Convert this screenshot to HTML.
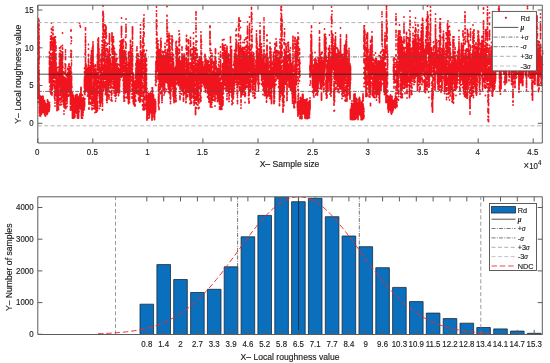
<!DOCTYPE html>
<html lang="en"><head><meta charset="utf-8"><title>Local roughness</title>
<style>html,body{margin:0;padding:0;background:#fff}svg{display:block}</style></head>
<body>
<svg width="550" height="363" viewBox="0 0 550 363">
<rect width="550" height="363" fill="#fff"/>
<g id="top">
<path d="M38 22v0M38 24.5v0M38 26.5v0.5M38 28.5v0M38 32v0M38 37.5v0M38 39v0M38 42.5v0.5M38 45v0.5M38 48v1M38 52.5v0M38 54v0M38 58.5v2.5M38 63.5v0M38 65.5v2M38 69v0M38 70.5v3M38 76v6.5M38 84.5v6M38 92v1.5M38 95v0M38 97v1.5M38 102v0M38.5 19v0M38.5 22v0.5M38.5 24v0.5M38.5 26.5v0M38.5 28.5v0M38.5 30.5v6M38.5 38.5v7M38.5 47v0M38.5 48.5v5.5M38.5 58.5v1.5M38.5 62v0M38.5 63.5v1.5M38.5 66.5v8M38.5 76.5v2M38.5 80v0M38.5 81.5v0M38.5 83v0M38.5 87v0M38.5 90v1M38.5 93v1.5M38.5 96v0.5M38.5 98v0M39 20.5v0.5M39 24v0M39 25.5v0.5M39 28.5v1.5M39 33v0M39 35.5v1.5M39 38.5v1M39 41.5v2.5M39 46v2.5M39 50v0M39 51.5v2M39 55v5M39 62v0M39 63.5v0.5M39 67v0M39 70v1M39 72.5v0M39 74v1M39 77v0M39 78.5v1M39 81v0M39 83v0M39 84.5v0M39 86.5v11M39.5 95v9.5M39.5 106.5v6.5M39.5 115.5v0M40 96.5v6.5M40 104.5v1.5M40 107.5v4.5M40 113.5v0.5M40.5 96.5v8.5M40.5 106.5v2M40.5 110v2.5M40.5 114v2M41 102.5v0M41 104.5v9M41.5 97v13.5M41.5 114v0M42 96.5v3.5M42 103v1.5M42 106v7M42.5 96.5v1M42.5 99v0M42.5 101.5v6M42.5 109.5v0M43 96.5v11.5M43.5 104.5v7.5M44 104.5v8M44.5 100.5v12M44.5 114v0M45 102.5v0M45 104v2M45 107.5v6.5M45 115.5v0M45.5 106.5v7M45.5 116v0M46 104v0M46 105.5v7.5M46.5 105.5v8.5M47 104.5v10M47.5 100v1.5M47.5 103.5v8.5M47.5 113.5v0M48 101.5v9M48.5 106v5.5M49 103v8.5M49.5 52v1M49.5 56.5v2M49.5 60.5v0M49.5 62v2.5M49.5 67.5v8.5M49.5 77.5v0.5M49.5 79.5v0.5M49.5 81.5v1M49.5 102.5v0M49.5 104.5v3M49.5 109.5v0M50 55.5v0M50 60v0.5M50 62.5v3.5M50 67.5v2M50 71.5v1.5M50 74.5v5.5M50 81.5v0M50 86.5v0M50 89.5v0M50 91.5v0M50.5 36.5v0M50.5 39v0M50.5 42v1.5M50.5 45v1.5M50.5 48v0M50.5 49.5v0.5M50.5 54v0.5M50.5 58v0.5M50.5 61v6.5M50.5 69.5v2M50.5 73v0.5M50.5 77v0M50.5 78.5v1.5M50.5 81.5v0M50.5 85.5v0M50.5 89v0M51 69.5v2.5M51 73.5v8M51 83.5v4M51 89v0M51 91.5v2.5M51.5 23v0M51.5 28.5v1M51.5 32.5v0M51.5 36v2M51.5 39.5v0M51.5 41.5v0M51.5 43.5v0.5M51.5 45.5v1M51.5 48v1.5M51.5 57.5v0M51.5 62v0M51.5 64v0.5M51.5 67.5v0M51.5 69.5v8.5M51.5 79.5v0M51.5 81v0M52 38.5v0M52 43v0M52 44.5v0M52 47v0M52 53.5v2.5M52 58.5v1M52 63.5v1M52 66.5v0M52 68v0M52 70v5.5M52 80v1M52 83.5v0.5M52 86v0M52 87.5v0.5M52 89.5v0.5M52 95v0M52.5 65.5v1M52.5 69v8.5M52.5 79v6M52.5 86.5v2.5M52.5 93v0M53 27v0M53 29.5v1M53 33.5v1M53 38v2M53 42v1.5M53 45v1.5M53 49v0M53 50.5v0M53 52.5v1.5M53 55.5v0M53 57.5v1M53 60.5v0.5M53 62.5v0M53 64v1M53 66.5v0.5M53 68.5v0M53 70v0M53 72v1M53 74.5v0M53 78.5v0M53.5 43.5v0.5M53.5 45.5v0M53.5 47.5v0M53.5 52.5v0M53.5 55.5v4M53.5 61v1M53.5 63.5v0.5M53.5 68.5v9.5M53.5 81v1.5M53.5 85v0M54 37.5v1M54 40v3.5M54 45.5v0M54 47v11M54 61.5v2M54 65v0M54 69v0M54.5 42.5v0M54.5 50.5v0M54.5 53v1M54.5 55.5v0.5M54.5 57.5v8.5M54.5 68v1M54.5 72.5v0M54.5 74v0M54.5 75.5v1M54.5 81v1M54.5 84.5v0.5M54.5 86.5v0M54.5 88v0M54.5 94.5v0M54.5 96v0.5M54.5 98v0M55 37v0M55 39.5v1M55 44v0.5M55 46v1M55 51v0M55 53.5v0.5M55 62v0M55 64.5v0M55 67v0M55 70v0.5M55 75.5v0M55 78v0.5M55 81.5v1.5M55 85.5v0.5M55 88v1M55 91v4.5M55 98v0.5M55 100v0.5M55 103v0M55 106v0M55.5 37v0M55.5 42v1M55.5 47v0M55.5 49.5v0M55.5 54v0M55.5 55.5v0.5M55.5 58.5v13.5M55.5 74v0.5M55.5 78.5v0M56 46v0M56 47.5v1M56 50.5v0M56 54v1M56 57.5v0M56 59v0.5M56 62.5v3M56 67v1M56 70v0.5M56 72v1M56 76.5v0.5M56 81v0M56 85.5v2.5M56 89.5v1.5M56 94v1.5M56.5 69v4.5M56.5 75.5v9M56.5 86v2M56.5 90v1.5M56.5 93.5v0M57 82v0M57 84.5v0.5M57 87v0M57 89v0M57 90.5v0M57 92.5v1.5M57 95.5v1.5M57 98.5v6.5M57 106.5v0.5M57 108.5v0M57 110v0.5M57.5 67.5v0M57.5 72.5v0M57.5 74v1.5M57.5 78v9.5M57.5 89v0.5M57.5 91v2.5M57.5 95v0.5M57.5 97v1M57.5 102.5v0M58 82v1M58 84.5v6M58 93v11M58 106.5v0.5M58 109v0M58.5 77v0M58.5 80v1M58.5 82.5v2.5M58.5 86.5v2M58.5 91v3M58.5 95.5v1.5M58.5 98.5v3M58.5 103v1.5M58.5 107v0M58.5 109v0.5M59 67v0.5M59 70v0M59 71.5v12M59 85.5v1M59.5 48v0M59.5 53.5v3M59.5 60v0M59.5 62v0M59.5 63.5v0.5M59.5 66v3.5M59.5 72.5v8M59.5 84v0.5M60 48v0M60 50.5v0M60 53.5v0M60 55.5v0.5M60 57.5v0.5M60 59.5v0M60 63v0M60 65v0.5M60 67v2.5M60 73v0M60 78v1.5M60 82.5v4M60 89.5v1M60 93v0M60 95v0M60 98.5v0.5M60 100.5v0M60 105v0M60.5 63v0M60.5 66.5v0M60.5 68v4.5M60.5 75.5v2M60.5 79v0M60.5 81v2M60.5 85v1M60.5 87.5v0.5M60.5 90v0.5M60.5 92v0.5M60.5 94v0.5M60.5 98.5v0.5M60.5 102.5v0M61 46.5v0M61 51.5v0M61 54.5v7.5M61 63.5v4M61 69v5.5M61 77.5v0M61 79v0.5M61 89v0M61 90.5v0M61.5 65.5v0.5M61.5 74.5v3.5M61.5 80v0.5M61.5 82v7M61.5 91.5v1M61.5 95v2M61.5 99v0M61.5 104.5v0M62 58v0M62 60v1M62 63.5v3M62 69v1.5M62 72v3.5M62 77.5v1.5M62 81.5v0.5M62 85.5v1M62 88.5v3M62 94.5v0M62 96.5v1M62 100v0M62 101.5v0M62.5 33v0M62.5 45.5v0M62.5 48v1M62.5 52v4M62.5 58v2M62.5 62.5v0.5M62.5 64.5v3M62.5 70v0M62.5 72v2M62.5 75.5v2M62.5 79.5v0M62.5 81v0M62.5 82.5v0M62.5 85v0M62.5 87v0M62.5 88.5v0M62.5 90v0M63 67.5v0M63 72v0M63 73.5v0M63 76.5v0M63 79v6.5M63 87.5v1.5M63 90.5v7M63 101.5v0M63.5 72v1M63.5 76.5v1.5M63.5 79.5v0.5M63.5 81.5v8.5M63.5 92v2.5M63.5 96v2M63.5 100v0M63.5 101.5v0M63.5 104v0M64 84.5v0M64 86v1.5M64 89v2M64 92.5v1M64 95v1.5M64 98v7.5M64 107v0M64 111v0M64 114v0M64.5 79.5v5.5M64.5 87v3M64.5 92v0.5M64.5 94v3M64.5 99v0M64.5 102v0M65 64v0M65 68.5v0M65 72.5v1M65 77.5v0M65 79.5v0.5M65 85.5v4M65 93v5.5M65 100v4.5M65 106.5v0M65 108v0M65.5 50v0M65.5 52v0M65.5 54.5v0M65.5 57v1M65.5 59.5v0M65.5 64.5v2.5M65.5 70.5v1M65.5 73.5v0M65.5 78.5v0.5M65.5 84v0M65.5 88.5v0.5M65.5 92v2M65.5 97.5v0.5M65.5 100v0.5M65.5 106v0.5M65.5 108.5v0M66 75v0M66 79v3M66 83.5v8M66 93.5v1M66 96.5v1.5M66 99.5v0.5M66 104v0M66 108v0M66.5 80.5v13M66.5 95v0M66.5 97v1M66.5 100v0M67 76.5v0M67 82v0M67 84v1M67 86.5v7M67 95.5v6M67 103v0.5M67 106.5v0M67.5 68.5v1M67.5 73v15.5M68 72.5v0M68 74.5v0M68 78v3.5M68 83v2M68 86.5v5M68 95v0M68.5 66.5v0M68.5 69v0M68.5 73v0M68.5 74.5v2M68.5 78v0M68.5 79.5v0M68.5 81v10.5M68.5 95v1M69 64v1M69 70.5v9.5M69 81.5v7.5M69 91v0M69 92.5v0M69.5 69v0M69.5 71.5v0M69.5 73v0M69.5 75v0.5M69.5 77.5v7M69.5 86v3M69.5 91.5v1M69.5 94.5v0M70 67v1.5M70 71v5M70 78v0M70 79.5v5.5M70 86.5v2M70 92.5v0.5M70.5 80v0M70.5 83v1M70.5 86v12M70.5 99.5v4.5M70.5 106.5v1M70.5 109v1M71 30v1M71 37v0M71 43.5v0M71 50.5v0.5M71 53.5v0M71 55v2M71 67v0M71 69v0M71 71v0M71 73v0.5M71 79.5v0M71 81.5v9M71 94v0M71 95.5v0M71 99.5v0M71.5 38v0M71.5 41v0M71.5 51.5v0M71.5 54v0M71.5 57.5v0M71.5 60.5v0M71.5 63v0M71.5 65v0M71.5 72.5v0M71.5 76v5M71.5 83v5M71.5 90.5v2.5M71.5 98.5v0M71.5 102v0M72 87v0M72 92v0M72 95v2M72 98.5v1.5M72 102v8M72.5 93v0M72.5 95v4M72.5 100.5v1M72.5 104.5v1M72.5 107v11M73 95v0M73 98.5v16M73.5 95.5v0M73.5 97v1M73.5 99.5v11M73.5 113.5v3M73.5 118v0M74 100.5v5.5M74 107.5v5M74 114v4M74.5 99v0M74.5 100.5v9M74.5 111v4M74.5 116.5v0M75 102v11M75 115.5v0M75 117v0M75.5 96v11.5M75.5 109v0M76 95v1.5M76 98v12M76.5 97v16M77 94.5v15M77 111.5v0M77.5 100v0M77.5 103v1M77.5 105.5v11M77.5 118v0M78 97v4.5M78 103v9M78 113.5v0M78.5 101.5v0M78.5 103v15M79 97.5v0.5M79 100v9M79 111v1M79.5 23v0M79.5 95.5v0M79.5 98v10M80 25.5v0M80 94v12M80 107.5v0M80.5 27v0M80.5 93.5v9.5M80.5 104.5v0M81 87.5v3.5M81 92.5v4.5M81 99v1.5M81 102.5v4.5M81 108.5v1M81.5 103v0M81.5 105v1M81.5 108v1.5M81.5 111v5.5M81.5 118v0M82 98.5v0M82 101.5v8M82 111.5v0M82 114.5v0M82.5 95v0M82.5 98.5v0M82.5 100.5v5.5M82.5 107.5v6.5M82.5 118v0M83 99.5v1M83 102v8.5M83 112v1M83 115v0.5M83.5 97.5v0.5M83.5 99.5v6M84 98.5v2.5M84 102.5v7.5M84.5 68.5v0M84.5 72v0.5M84.5 77v0M84.5 79v9M84.5 91v2M84.5 99.5v0M84.5 101.5v5M85 54v0M85 67.5v0M85 74v0M85 76v0.5M85 78v1M85 82v10.5M85 94.5v0M85 99v0M85.5 28v0.5M85.5 30v0M85.5 34v0M85.5 36.5v0M85.5 38v0M85.5 40v2.5M85.5 44.5v1M85.5 47.5v0M85.5 49.5v0.5M85.5 51.5v1.5M85.5 55v0M85.5 58v0M85.5 59.5v0M85.5 61v1M85.5 64v1.5M85.5 70v1M85.5 72.5v0M85.5 74v2M85.5 77.5v0M85.5 83v0.5M86 64v0M86 65.5v2M86 69v12.5M86 83v2M86 86.5v0M86.5 66v0M86.5 70v0.5M86.5 72.5v2.5M86.5 77v6.5M86.5 85v1.5M86.5 88.5v1.5M87 69v1M87 71.5v3M87 76v11.5M87 91v0M87.5 72v0M87.5 73.5v13M87.5 88v0M87.5 91.5v0M87.5 96v0M88 67.5v0.5M88 69.5v0.5M88 71.5v0M88 73v2M88 77v3.5M88 82.5v3.5M88 87.5v2M88 92.5v0M88 94.5v0M88 96v0M88.5 44.5v0M88.5 49v0M88.5 54.5v1.5M88.5 59v0M88.5 60.5v2M88.5 64.5v1M88.5 67.5v0M88.5 70v0M88.5 73v0M88.5 75v1M88.5 78v0.5M88.5 80.5v1.5M88.5 84v2.5M88.5 89v0M88.5 93v0M88.5 95v0.5M89 66v0M89 69.5v0M89 74v0M89 76.5v0M89 79v0M89 81.5v2M89 86v2.5M89 90v2M89 93.5v6M89 101v3M89 108v1M89.5 68v0M89.5 69.5v2.5M89.5 73.5v10.5M89.5 85.5v2M89.5 93.5v0M90 72v0M90 73.5v0M90 75.5v14.5M90 92.5v0.5M90 96v0M90.5 63v0M90.5 66v0M90.5 68v5.5M90.5 76v1.5M90.5 79v0M90.5 81v8M90.5 90.5v1.5M90.5 94v1M90.5 97v1.5M90.5 102.5v1.5M91 55.5v0M91 57.5v0M91 59v1M91 62v1.5M91 66v5.5M91 73v0.5M91 75v1M91 78v0.5M91 80v4M91 85.5v0M91.5 51v0.5M91.5 53.5v0M91.5 56v0M91.5 58v6.5M91.5 66v4.5M91.5 72.5v1.5M91.5 75.5v2M91.5 79.5v0M91.5 82v0M91.5 84.5v1M91.5 87v0M91.5 94.5v0M91.5 99.5v0M92 58v0M92 60v0M92 68.5v0M92 70v0.5M92 73v0M92 76v0M92 78v1M92 80.5v0M92 82v0M92 84v0M92 86v1.5M92 89v5M92 96.5v0M92 98.5v3.5M92 103.5v0M92 105.5v0M92 108v0M92 109.5v0M92.5 47.5v3M92.5 52.5v2M92.5 56v1.5M92.5 59v0M92.5 62v0M92.5 64.5v0M93 42v0M93 44v0M93 45.5v1.5M93 48.5v0M93 50v2M93 53.5v2M93 57v4.5M93 63v0.5M93 65v1M93 67.5v0M93 69v1.5M93 72.5v0.5M93 75.5v0M93 77.5v0M93.5 64v0M93.5 70v0M93.5 74v0.5M93.5 76v0.5M93.5 83v1.5M93.5 86v4M93.5 91.5v4.5M93.5 97.5v1.5M93.5 100.5v0.5M93.5 103v0M93.5 105.5v0M93.5 108.5v0M94 66v1M94 69v0.5M94 71v12M94 85v1M94 87.5v1M94 93v0M94 95.5v0M94.5 77v1M94.5 81v3M94.5 85.5v3.5M94.5 90.5v4.5M94.5 96.5v1M94.5 100.5v0.5M94.5 107v0M95 90v0M95 93v1.5M95 97v5M95 103.5v1.5M95 107v2M95 112.5v0M95.5 65v0M95.5 66.5v0M95.5 69v10.5M95.5 81v1M95.5 84v1.5M95.5 89v0M95.5 91.5v0M95.5 93v1.5M95.5 97.5v1.5M95.5 101v0M95.5 104v0M95.5 105.5v0M96 69.5v0M96 71.5v4M96 77v4M96 82.5v0M96 84v0.5M96 88v1M96 91.5v0.5M96 95v0M96 96.5v1M96 99v0.5M96 104v0.5M96 106v0M96 108v0M96 110v0M96 112v0M96.5 82.5v4M96.5 88v2M96.5 91.5v0.5M96.5 94.5v1M96.5 97.5v0.5M96.5 100.5v2M96.5 105.5v1M96.5 108v4M97 76.5v0M97 80.5v2.5M97 84.5v4M97 90v1M97 93.5v1M97 96v0.5M97 98v1M97 101v0M97 105.5v2.5M97 110v1M97.5 54.5v2M97.5 58.5v0M97.5 61.5v8.5M97.5 72.5v2.5M97.5 77.5v0.5M97.5 85.5v0M97.5 87v0M97.5 89.5v1M97.5 92.5v1M97.5 95.5v0M97.5 101.5v0M97.5 103v0M97.5 105v3.5M97.5 110.5v0M98 39.5v1.5M98 43.5v8.5M98 53.5v1.5M98 57v0.5M98 59v3M98 65v0M98.5 38v1M98.5 41v0M98.5 42.5v0M98.5 44v0M98.5 45.5v1M98.5 50v0M98.5 51.5v1.5M98.5 55v0M98.5 58.5v1M98.5 65v0M98.5 67.5v2M98.5 72.5v1M98.5 76v3.5M98.5 81v2.5M98.5 86v0M98.5 88v0M98.5 92v1M99 48.5v0M99 50v0M99 52v0M99 53.5v0M99 55.5v0M99 57v1.5M99 60v2.5M99 64v4.5M99 70v0.5M99 72.5v0M99 76v0M99.5 55.5v0M99.5 65v0M99.5 67.5v0.5M99.5 72v0M99.5 76.5v0.5M99.5 78.5v0M99.5 82v2M99.5 86v2.5M99.5 90v1.5M99.5 93v5.5M99.5 101v0M99.5 102.5v0M99.5 108.5v0M100 76v0M100 81.5v0M100 84v1.5M100 87v0M100 88.5v7.5M100 97.5v6M100 105.5v0.5M100.5 60.5v0M100.5 69.5v1.5M100.5 72.5v0M100.5 75v0.5M100.5 77v3.5M100.5 82v2M100.5 85.5v6.5M100.5 93.5v2M100.5 97.5v0.5M100.5 104v0M100.5 106v0M101 54.5v0M101 59v1M101 62.5v0M101 64.5v0.5M101 67v0M101 68.5v2.5M101 73v0M101 74.5v4M101 80v0.5M101 82v0M101 85v0M101 86.5v4M101 98.5v0M101.5 59v0M101.5 63v0M101.5 65v0M101.5 69v2M101.5 74v0M101.5 77.5v3.5M101.5 83v1.5M101.5 88.5v3M101.5 93v1.5M101.5 96v0M101.5 97.5v0M101.5 99.5v0M101.5 101v1M102 41v0M102 45v0M102 47.5v0M102 50v1M102 53v0M102 55v0.5M102 57v9M102 68.5v0M102 72.5v0M102 75v4M102 82v0.5M102 85.5v2.5M102 90v1M102 93v0M102 102.5v0M102.5 37v0M102.5 47.5v0M102.5 50.5v1M102.5 54.5v1.5M102.5 58.5v0M102.5 60v1M102.5 66v0M102.5 68v2M102.5 74.5v1M102.5 77v0M102.5 79.5v0M102.5 82v0M102.5 84.5v2M102.5 90v0M102.5 91.5v0M102.5 93v1.5M102.5 96v0.5M102.5 98.5v1M102.5 101v0M102.5 103v1M102.5 106v0M102.5 109.5v0.5M103 6v0M103 11.5v4M103 18.5v1M103 21v2.5M103 25v3M103 30v0.5M103 33v1.5M103 37v1M103 40v0.5M103 42.5v0M103 45v0M103 47.5v1M103 54v0.5M103.5 14.5v0M103.5 16.5v0.5M103.5 19.5v0M103.5 21v0M103.5 24.5v1M103.5 27v1M103.5 29.5v1.5M103.5 34v1.5M103.5 37v0.5M103.5 42.5v0M103.5 49v0M103.5 52v1M103.5 59.5v0M103.5 65.5v0M103.5 67v0M103.5 68.5v1M103.5 72v1M103.5 77.5v0M103.5 79v0.5M103.5 81.5v0M103.5 83v4M103.5 89v1.5M104 46v0M104 52v0M104 54.5v0.5M104 58v0M104 60v1.5M104 64.5v10.5M104 76.5v3M104 82v2M104 87.5v0M104.5 40v0M104.5 44v1.5M104.5 47.5v1.5M104.5 50.5v1M104.5 53v0.5M104.5 55.5v2.5M104.5 59.5v4.5M104.5 65.5v1M104.5 68.5v0M104.5 70.5v1M104.5 86v0M105 25v0.5M105 30v2.5M105 34v0M105 37v0M105 41.5v0.5M105 46v0M105 51v1M105 54.5v0M105 56v1M105 64.5v2M105 68.5v0.5M105 71v0M105 77.5v0M105 84.5v0M105.5 69.5v0M105.5 72v4M105.5 77.5v0M105.5 79v0.5M105.5 82v4.5M105.5 88.5v1M105.5 91.5v0M105.5 93.5v1M106 26.5v3.5M106 32v2M106 35.5v3M106 43v0M106 48.5v0M106 50.5v0M106 53.5v0.5M106 56v0M106 59.5v0M106 61.5v0.5M106 65.5v1M106 68v1M106 73v0M106 84v0M106.5 36v0M106.5 45.5v0M106.5 49v0M106.5 58.5v1M106.5 61v1M106.5 63.5v0M106.5 67v0.5M106.5 70v0.5M106.5 72v7.5M106.5 81.5v0M106.5 83v0M106.5 85.5v0M106.5 87v0.5M106.5 90.5v0.5M106.5 100v0M107 74v1M107 76.5v0M107 78v1M107 80.5v0.5M107 82.5v0M107 84.5v0.5M107 87v13.5M107 102.5v0M107.5 44v0M107.5 49v0M107.5 50.5v1M107.5 56v4M107.5 61.5v2.5M107.5 65.5v0M107.5 68v2.5M107.5 72v1.5M107.5 75v1M107.5 77.5v0M107.5 80v0M108 43.5v0M108 52v0.5M108 54.5v0M108 58.5v2.5M108 63.5v2.5M108 68v1.5M108 71v2.5M108 75v1.5M108 78.5v0.5M108 80.5v1M108 83v1M108 88v1M108.5 55.5v1.5M108.5 60v2M108.5 64v7.5M108.5 73v0.5M108.5 75v0M108.5 76.5v0M108.5 78.5v2M108.5 83v1M108.5 85.5v1.5M108.5 88.5v0M108.5 94.5v0M108.5 96v0M109 54.5v0.5M109 56.5v1.5M109 61v0M109 63v2.5M109 67.5v1M109 70v2M109 74v0M109 76.5v0M109 78.5v1M109 82v0.5M109 85v0.5M109 87.5v0M109 90.5v1.5M109 95v1M109 97.5v0M109 99v0M109.5 34v1M109.5 36.5v5.5M109.5 44v0M109.5 47v0M109.5 49v2.5M109.5 53.5v2M109.5 57.5v1.5M109.5 62v0M109.5 63.5v0M109.5 65v0.5M109.5 67v0M109.5 68.5v0.5M110 58.5v4M110 64.5v11M110 79.5v1M110.5 55v0M110.5 61v0M110.5 64.5v1.5M110.5 67.5v14M110.5 83v2M110.5 88v0M110.5 92v0M111 63.5v0.5M111 66.5v1.5M111 70v14M111 85.5v1.5M111 91.5v0M111 100v0M111.5 92v3M111.5 97.5v0M111.5 99.5v1M112 33v1M112 35.5v6M112 45v0M112 48.5v1.5M112 52v0M112 57v1M112 63.5v0M112 65v0M112 68v0M112 72.5v2M112 77.5v0M112 79v1M112 81.5v0M112 87.5v0M112 90.5v0M112 93.5v0M112 101v0M112.5 37.5v1.5M112.5 42v0M112.5 43.5v2M112.5 47.5v0M112.5 49v5M112.5 57v0M112.5 58.5v5M112.5 67.5v5M112.5 74v0.5M112.5 76v0.5M113 48v0M113 51.5v2.5M113 58.5v1.5M113 62.5v0.5M113 65v1.5M113 68v2.5M113 72v1.5M113 76.5v1M113 79v0M113 82v0M113 83.5v1M113 87v1M113.5 37v0M113.5 39.5v0M113.5 41v1M113.5 46v5.5M113.5 53v0.5M113.5 57v2.5M113.5 61v1.5M113.5 64v0M113.5 66v1.5M113.5 70v2.5M113.5 74.5v2M113.5 78.5v0.5M113.5 88v0M114 59v0M114 61v0M114 63v2M114 66.5v1M114 70v4M114 75.5v2.5M114 80.5v4.5M114 86.5v1.5M114 90.5v0M114 93v0M114.5 48.5v0M114.5 51.5v0M114.5 55v1M114.5 57.5v2.5M114.5 62v1M114.5 64.5v0.5M114.5 66.5v3.5M114.5 73v0M114.5 75v2.5M114.5 79v2M114.5 82.5v0M114.5 84v0.5M114.5 86.5v0M114.5 95.5v0M115 53v1.5M115 59v0M115 61v14M115 76.5v0M115 78v0.5M115 81v0M115.5 68.5v0M115.5 70.5v2.5M115.5 75.5v2M115.5 79v5.5M115.5 86v0.5M115.5 88v5.5M115.5 96v0M115.5 101v0M116 67.5v0M116 69.5v0.5M116 74v6.5M116 82v0M116 83.5v8.5M116 94v1.5M116 98.5v0M116.5 54.5v0M116.5 58.5v0M116.5 60v1M116.5 63.5v13M116.5 78.5v0M116.5 81.5v1M116.5 86v0M116.5 93.5v0M117 63.5v2M117 68v0M117 69.5v6.5M117 77.5v2.5M117 81.5v5M117 91v0M117.5 58.5v0M117.5 64.5v0M117.5 66v0M117.5 68.5v0.5M117.5 71v11M117.5 83.5v1.5M117.5 87v0M117.5 89v1.5M117.5 92v0M118 68.5v0.5M118 70.5v3M118 75.5v7M118 84v2.5M118 90.5v1.5M118.5 64.5v0M118.5 68v0M118.5 69.5v10.5M118.5 82.5v1.5M118.5 86v4.5M118.5 92v0M118.5 95v0.5M119 74v0M119 75.5v2M119 79v3.5M119 84v5M119 92.5v0.5M119.5 70v1M119.5 73v0M119.5 74.5v12.5M119.5 89.5v1M119.5 92.5v0M120 41.5v0M120 45.5v0M120 49.5v9M120 60v0M120 61.5v0.5M120 64v2M120 69v5M120 75.5v0M120 77.5v0M120 79.5v0.5M120.5 48v0M120.5 50.5v1M120.5 53.5v7.5M120.5 62.5v4M120.5 68.5v4.5M120.5 75v0M121 41v0M121 43v2M121 47v5.5M121 54.5v3M121 59v3.5M121 64v2.5M121 68.5v0M121 70v3M121 75.5v0M121.5 18v0M121.5 26.5v5M121.5 33v2M121.5 37v0M121.5 41v0.5M121.5 44.5v3M121.5 50v0M121.5 51.5v1M121.5 55v0M121.5 59.5v1.5M121.5 62.5v0M121.5 64v0M121.5 66v3.5M121.5 73v1M121.5 75.5v0M121.5 77v0M122 40v1M122 42.5v2M122 46.5v4.5M122 53.5v1M122 56.5v4M122 62v1M122 65v0M122 66.5v0.5M122.5 48v0M122.5 55.5v19M122.5 76v0M123 41v1M123 44v0M123 46.5v2M123 51v1M123 53.5v0M123 56v0.5M123 58v10M123 69.5v0M123 71.5v0M123 74.5v0M123 80.5v0M123.5 39.5v2M123.5 46v0M123.5 54v1M123.5 56.5v0M123.5 58v0.5M123.5 60v0M123.5 67.5v0M123.5 69v1M123.5 71.5v0M123.5 74v0M123.5 75.5v0M123.5 78v2.5M123.5 83.5v0.5M123.5 86v0M123.5 88.5v0.5M124 77v1.5M124 80.5v13M124 95.5v2M124 99v0M124 101v0M124.5 50.5v2.5M124.5 54.5v1.5M124.5 57.5v3M124.5 62v1M124.5 65.5v0M124.5 67v1.5M124.5 70.5v0.5M124.5 77.5v1.5M124.5 81.5v1.5M124.5 90.5v2M124.5 97v0M124.5 100.5v0.5M125 58v0M125 62.5v0.5M125 67.5v0M125 69v2.5M125 73v0.5M125 75v0M125 76.5v1.5M125 79.5v4.5M125 87v4M125 93.5v0M125 97.5v0M125.5 37.5v0M125.5 42v0M125.5 48v0M125.5 52v1M125.5 55.5v0M125.5 57.5v0M125.5 59v0.5M125.5 63.5v5.5M125.5 70.5v0.5M125.5 72.5v3M125.5 78v0M125.5 83v0M125.5 85.5v0M125.5 87.5v0M126 19v0M126 24.5v0M126 26.5v0M126 28v1M126 30.5v1.5M126 35v0M126 37v0M126 43.5v1M126 46v0M126 48v0M126 51.5v0M126 54.5v0M126 57v0M126 62.5v0M126 64.5v0.5M126 67v0M126 71v0M126 73v2.5M126 77.5v5M126 85v0M126 88v1M126 91v1M126.5 58v3M126.5 62.5v1M126.5 65.5v0M126.5 67v1M126.5 70v4M126.5 75.5v2.5M126.5 80.5v0M126.5 82.5v0M126.5 84v0M126.5 87v0M126.5 89v0.5M126.5 97.5v0M127 62v0M127 65v0M127 70v0M127 72v9M127 83v1M127 86v0M127 87.5v2M127 91v0M127.5 71.5v0M127.5 74v0M127.5 76v1.5M127.5 79v2.5M127.5 83v6M127.5 90.5v2.5M127.5 94.5v0M127.5 96.5v0M127.5 98v0M128 64.5v0.5M128 67.5v4.5M128 73.5v5M128 80v2.5M128 84v0M128 86v1.5M128 91v0M128 94v0M128.5 53v1M128.5 56v0M128.5 58v0M128.5 63v0M128.5 65v1M128.5 70.5v0M128.5 75v0M128.5 77v2.5M128.5 81.5v0M128.5 83v0M128.5 85.5v1M128.5 88v0M128.5 92v3.5M128.5 99v4.5M129 52v1M129 55v2M129 59.5v1M129 62v2.5M129 66v0M129 68v0.5M129 74.5v0M129 77.5v0.5M129 80.5v0.5M129 83.5v0M129 85v0M129 87.5v1.5M129 90.5v0.5M129 92.5v2.5M129 96.5v1.5M129 101.5v0M129.5 62.5v0M129.5 66v6.5M129.5 74v1.5M129.5 80v0M129.5 81.5v5.5M129.5 89.5v5M129.5 96.5v1.5M129.5 99.5v0M129.5 102v0.5M130 65.5v0M130 67.5v4M130 73v11.5M130 86.5v1M130 89v0M130 90.5v0M130.5 40.5v1.5M130.5 44.5v1M130.5 47v6.5M130.5 55.5v1.5M130.5 58.5v0.5M130.5 60.5v1.5M130.5 63.5v0.5M130.5 65.5v0M130.5 67v0M130.5 68.5v3M131 47v0M131 51v0M131 54v1M131 56.5v0M131 58v9M131 69v5M131.5 48v0M131.5 53v0M131.5 54.5v0.5M131.5 56.5v0.5M131.5 58.5v3M131.5 63v5.5M131.5 70v0M131.5 72.5v1M131.5 76.5v0.5M131.5 80v0M132 56v0M132 60v0M132 61.5v0M132 63.5v0M132 65.5v1.5M132 68.5v5M132 77v1M132 79.5v2M132 84v2.5M132 89v0.5M132 91v0M132 94v0M132 97v1M132.5 27v6.5M132.5 35v0M132.5 37v2M132.5 42v0M132.5 43.5v0M132.5 45.5v0.5M132.5 49v0M132.5 51v0M132.5 53.5v0M132.5 55.5v1M132.5 58.5v2.5M132.5 63v0M132.5 64.5v2M132.5 69v0M132.5 78v0M132.5 85.5v0M132.5 90.5v0M133 73v0.5M133 75v1.5M133 78v0.5M133 80v11.5M133 93v0.5M133 97v0.5M133 101v0M133.5 75.5v0M133.5 78v0.5M133.5 80v0M133.5 82.5v4M133.5 89v10.5M133.5 102v1.5M134 81.5v0M134 83v0M134 86.5v10M134 98v1.5M134 101v0M134 102.5v2M134.5 81.5v1M134.5 84v1.5M134.5 87v1.5M134.5 90v4.5M134.5 96v0.5M134.5 98v1.5M134.5 102v0M134.5 103.5v0M134.5 105v0.5M135 91.5v1M135 96v0M135 99v0M135 101.5v0M135 104.5v1.5M135.5 76v2M135.5 81v12.5M135.5 96v0.5M135.5 99.5v0M136 63.5v2M136 68v0.5M136 70v3.5M136 75v3M136 80v0M136 81.5v4.5M136 88.5v0M136 90v0M136 101v0M136.5 50.5v0M136.5 57.5v0M136.5 60.5v0M136.5 62v0M136.5 65.5v0.5M136.5 67.5v0M136.5 69.5v0M136.5 71v7.5M136.5 80v1.5M136.5 83v8M137 47v0M137 48.5v0M137 50.5v0M137 54v2M137 58.5v0M137 63.5v0M137 66v3M137 70.5v0M137 72.5v6M137 80v1M137 82.5v0.5M137 86v0.5M137 88v0.5M137 90v0M137 91.5v0.5M137 93.5v0M137.5 63v0.5M137.5 65v0M137.5 66.5v5M137.5 73.5v0M137.5 76v10M137.5 88v0M137.5 90.5v0M138 54v0M138 55.5v0M138 59v10M138 71v0M138 72.5v2.5M138 76.5v1M138 82v0.5M138 85.5v0M138.5 59.5v0M138.5 61.5v1M138.5 64.5v1M138.5 67v7M138.5 77.5v1.5M138.5 87v0M138.5 91.5v3M138.5 98v0M138.5 100v0M139 56.5v0M139 59.5v0M139 62.5v0.5M139 64.5v1M139 68v0.5M139 70.5v1.5M139 73.5v2M139 77v0M139 78.5v0M139 80.5v0M139 82.5v5M139 89.5v0M139 94v0M139 98.5v0M139 100v0M139.5 61.5v0M139.5 63v0M139.5 65v0M139.5 66.5v3.5M139.5 72v0.5M139.5 74v0M139.5 76.5v0M139.5 79v0.5M139.5 81.5v3.5M139.5 89.5v3M139.5 94.5v0.5M139.5 96.5v3.5M139.5 101.5v0M140 71.5v0M140 73v0.5M140 75.5v0M140 78v0.5M140 80.5v5.5M140 88v2M140 91.5v0M140 94v0M140 95.5v2.5M140 102v0M140.5 25v0M140.5 29v0M140.5 32v1M140.5 36v0.5M140.5 38v0M140.5 41v0M140.5 42.5v0.5M140.5 44.5v0M140.5 46.5v0M140.5 48v0M140.5 51v3.5M140.5 60v0M140.5 61.5v0M140.5 63.5v0.5M140.5 67v0M140.5 69.5v0.5M140.5 72v0.5M140.5 75v0M140.5 77.5v0M140.5 81.5v0M140.5 84v0M140.5 86v0.5M140.5 90.5v0M140.5 92.5v0M140.5 96.5v0M140.5 99v0M140.5 101v0.5M141 45v0M141 52.5v3.5M141 57.5v0.5M141 59.5v3M141 64v0.5M141 66v1M141 68.5v0M141 72.5v1.5M141 78v0.5M141 80v1.5M141 83.5v1.5M141 87.5v0M141 91.5v0M141 93.5v0M141 99.5v0M141.5 55v0M141.5 57v0M141.5 58.5v1M141.5 61v0.5M141.5 64.5v4.5M141.5 71v0M141.5 73.5v5.5M141.5 81v1M141.5 84v1.5M141.5 87v0M141.5 88.5v1.5M141.5 91.5v0M141.5 95.5v0M142 53.5v0M142 57.5v0M142 59v5M142 65.5v0.5M142 67.5v0M142 69.5v4.5M142 75.5v0M142 77v0.5M142 79v0M142 82.5v1M142 88.5v0M142 90v0.5M142 93v0.5M142 96v0M142.5 42v0M142.5 46.5v0.5M142.5 50v0M142.5 52v2M142.5 55.5v2M142.5 61v3M142.5 67.5v3.5M142.5 73v0M142.5 75.5v0M142.5 77v0M142.5 83v0M142.5 86v1.5M142.5 92v1M142.5 101v0M142.5 105v0.5M143 38v3M143 43v0M143 46v2M143 50.5v1M143 53.5v1M143 56.5v0M143 59v0M143 63.5v0.5M143 66v0M143 67.5v0.5M143 72.5v1M143 77.5v0M143 83.5v0M143 85.5v0M143 94v0M143 96.5v0M143 99.5v0M143 109v0.5M143.5 20v0M143.5 21.5v0M143.5 24v0M143.5 25.5v0M143.5 29v0M143.5 32v0.5M143.5 35.5v0M143.5 40v0M143.5 42.5v0M143.5 50.5v0M143.5 53v0M143.5 55.5v0M143.5 61.5v0M143.5 64.5v0M143.5 72v0M143.5 73.5v0M143.5 80.5v0M143.5 87v0M143.5 92v1M143.5 94.5v0.5M143.5 100v2.5M143.5 104.5v4.5M144 15v0M144 18.5v0M144 21v0M144 23.5v0M144 26v1M144 32.5v2M144 36.5v0M144 43.5v0M144 45.5v0M144 50v1.5M144 60.5v0M144 64v0M144 69v0M144 71.5v1M144 77.5v0M144 79v0M144 85.5v0M144 88.5v0M144 90v0M144 94v0M144 96v0M144 98.5v1.5M144 102.5v0M144 104v6M144.5 57v0M144.5 59.5v0M144.5 61v0M144.5 65.5v1.5M144.5 73.5v3M144.5 78v3M144.5 82.5v0M144.5 85v0M144.5 86.5v5.5M144.5 97v2.5M144.5 109v0M145 54.5v0M145 56.5v0M145 58v1M145 60.5v11M145 73.5v0.5M145 78v7M145 86.5v0M145 90v0M145.5 54v1M145.5 58.5v4M145.5 64.5v0M145.5 66v1.5M145.5 69v0M145.5 71.5v0M145.5 73v2.5M145.5 77.5v1.5M145.5 80.5v3M145.5 86v0M145.5 88.5v1.5M145.5 91.5v1M145.5 97.5v0M145.5 105v0M146 64.5v0M146 69.5v0.5M146 73.5v5M146 80.5v2M146 85v0M146 87v0.5M146 89v0M146 90.5v0.5M146 92.5v0M146 95v0.5M146 97.5v0.5M146 100.5v0M146 103v2M146 106.5v1M146 109v0M146.5 50.5v0M146.5 58.5v0M146.5 60.5v0.5M146.5 64.5v1M146.5 68.5v0M146.5 70v1M146.5 73.5v0M146.5 76v0M146.5 78v0M146.5 79.5v0M146.5 82.5v1M146.5 85.5v0M146.5 89v2.5M146.5 93v4M146.5 99v1.5M146.5 102v0M146.5 107.5v0M147 88.5v0M147 92.5v0M147 95.5v4M147 102.5v0M147 106v1M147 108.5v3M147 113v7M147.5 96.5v0M147.5 100v1M147.5 102.5v4M147.5 108v0.5M147.5 111.5v3.5M147.5 116.5v0M147.5 118v0.5M148 95.5v1M148 98v9.5M148 109v0M148 110.5v0M148.5 93.5v0M148.5 95v10.5M149 94v0.5M149 97v0M149 98.5v4M149 104.5v8M149 114v1M149 118v0M149.5 102.5v12.5M149.5 117v0M150 95.5v0M150 97v0M150 100v11.5M150.5 92.5v1M150.5 95.5v13.5M151 97.5v11.5M151 110.5v2M151.5 101.5v11M152 88v0M152 90.5v0.5M152 94v4.5M152 101v1M152 106.5v3.5M152 112v8M152.5 88v0.5M152.5 90v2M152.5 93.5v0M152.5 95v2M152.5 100v0M152.5 102v11.5M153 100v10M153 111.5v0M153.5 95v0.5M153.5 97v6M153.5 104.5v3M153.5 110.5v2.5M153.5 116.5v0M154 102v0M154 103.5v11.5M154.5 103v1M154.5 105.5v14M155 99.5v0M155 101v9.5M155 113v0M155.5 71.5v0M155.5 76.5v0M155.5 80v0.5M155.5 84.5v0M155.5 101.5v10M156 61.5v4M156 67v1M156 69.5v5M156 76v3M156 80.5v0M156 82.5v0M156 85.5v0M156.5 7v0M156.5 11v0M156.5 14v0M156.5 16v0M156.5 20v3.5M156.5 25v0.5M156.5 27v0.5M156.5 29v0M156.5 31.5v0M156.5 34v0.5M156.5 38.5v1M156.5 42v1.5M156.5 47.5v0.5M156.5 52.5v0.5M156.5 57v0M156.5 58.5v0M156.5 60.5v0M156.5 62.5v0M156.5 64v0.5M156.5 66v0.5M156.5 69.5v0M156.5 81v0M157 21v0M157 26v0M157 33v0M157 35v0M157 38.5v0M157 40v2M157 43.5v0M157 45.5v0M157 47v1.5M157 51v9.5M157 63v0M157 65.5v0.5M157 67.5v0M157 69v0M157.5 45v0M157.5 46.5v0.5M157.5 51v0.5M157.5 53v0M157.5 55v3.5M157.5 60v8M157.5 69.5v0M157.5 71v0M157.5 78.5v0M158 41v0M158 44v1M158 47v0M158 48.5v2.5M158 53v0M158 54.5v0M158 56v0M158 58v0.5M158 60v2M158 64v0.5M158 66v5.5M158 74.5v2.5M158 79v0M158.5 52.5v0.5M158.5 54.5v0M158.5 56.5v0M158.5 59v1M158.5 62v0M158.5 63.5v1.5M158.5 67.5v1M158.5 70.5v2.5M158.5 75.5v0M158.5 77v0.5M158.5 85v0M158.5 87v0M158.5 89v2M158.5 94.5v0M158.5 96.5v0M158.5 98v0M158.5 99.5v0.5M158.5 101.5v0M158.5 103.5v0.5M158.5 106v0M159 50.5v0M159 54v1M159 58v0M159 59.5v0.5M159 61.5v1M159 64v0.5M159 66v0M159 68.5v2M159 72.5v0M159 74.5v0M159 76.5v3M159 81.5v0M159 84v0M159 87v0M159 90v0.5M159 93v0M159 95v1.5M159 98v0.5M159 100v0M159 101.5v1.5M159 107.5v0.5M159 109.5v0M159.5 50v0M159.5 51.5v4.5M159.5 57.5v9M160 60.5v1.5M160 63.5v2M160 69.5v7M160 78v3M160 82.5v0.5M160 84.5v0M160 87.5v2M160.5 40.5v0M160.5 45v0M160.5 49v0.5M160.5 51.5v1M160.5 57v1M160.5 64v0M160.5 66v1M160.5 68.5v1M160.5 72.5v1.5M160.5 75.5v1.5M160.5 80.5v1M160.5 83.5v5M160.5 92.5v1M161 38.5v0M161 41.5v6M161 50v0M161 52v0M161 54v2M161 58v7M161 68.5v1.5M161 71.5v0M161 74v0M161 79.5v0M161.5 55.5v10.5M161.5 68v4M161.5 74v0M161.5 76v0M161.5 77.5v0M162 63v0M162 64.5v0M162 66v2M162 70.5v2.5M162 76v0M162 79v0.5M162 81v0M162 82.5v0M162 84v0M162 85.5v1M162 90.5v1M162 93v1M162 95.5v3.5M162 100.5v0M162 102.5v0M162.5 51.5v0M162.5 57v2M162.5 61v12M162.5 75v4M162.5 80.5v0M163 53v0M163 56v0M163 59v0M163 60.5v2M163 64.5v0M163 66v0M163 70v8.5M163 80v5M163 87.5v0M163 89v0M163.5 52v0.5M163.5 55v14M163.5 70.5v1M163.5 75.5v0M164 64v1M164 67.5v1M164 70v6M164 77.5v8M164 87v0M164 88.5v2.5M164 95v0M164.5 70.5v2M164.5 74v6.5M164.5 82v6M164.5 90v0.5M164.5 93v0M165 43.5v0M165 46.5v1M165 50.5v1.5M165 56v0M165 57.5v3.5M165 62.5v3M165 67.5v2M165 72.5v4M165 79.5v0M165 82v0M165 88.5v0M165.5 50v0M165.5 53v0M165.5 58.5v3M165.5 63.5v0M165.5 66v1.5M165.5 70v8M165.5 79.5v2.5M165.5 91.5v0M166 54.5v0M166 56v0M166 57.5v4.5M166 63.5v9M166 74v0.5M166 76v1M166 79.5v0.5M166 82v0M166.5 61.5v0M166.5 64v3M166.5 68.5v11.5M166.5 81.5v1M166.5 89.5v0M167 6.5v0M167 15.5v0.5M167 20v0M167 21.5v0M167 23v1M167 26v0M167 27.5v1.5M167 31v0M167 33.5v0.5M167 36.5v0M167 40.5v1.5M167 44.5v0.5M167 53v0M167 58v0M167 59.5v2.5M167 64v1.5M167 67v0M167 69v2.5M167 73v2M167 78v0M167 82v0M167.5 27.5v0M167.5 31.5v0M167.5 35.5v0M167.5 37v0M167.5 39.5v1M167.5 49.5v0M167.5 51v9.5M167.5 62v3M167.5 68.5v1M167.5 75v0.5M167.5 77v0M167.5 82.5v0M168 64.5v0M168 66v6M168 74v3.5M168 79v2.5M168 83v1M168 86v0M168.5 58v0M168.5 59.5v0M168.5 62.5v0M168.5 64.5v3.5M168.5 70v2.5M168.5 74v0.5M168.5 76v2M168.5 79.5v0M168.5 82v7M168.5 92v0M169 33.5v0M169 35v0M169 37v0.5M169 39v12.5M169 54v0M169 56v0M169 57.5v0.5M169 60.5v1.5M169 64v0M169 66.5v1M169 71v0.5M169 73v0M169 75.5v0M169 77.5v0M169.5 59v0M169.5 63.5v0M169.5 66v1.5M169.5 69v0M169.5 71v0M169.5 72.5v4M169.5 78v4.5M169.5 84v4.5M169.5 90v0M169.5 93.5v0M170 36v0M170 39v0M170 43v0.5M170 46.5v0.5M170 49v2M170 53v0M170 55v1M170 57.5v0M170 59.5v1M170 64v0M170 66v2M170 69.5v0.5M170 75.5v0M170 79v3M170 83.5v3M170 91v0M170 92.5v0M170 97.5v0M170.5 61v0.5M170.5 64.5v0.5M170.5 66.5v0.5M170.5 68.5v2M170.5 73v4M170.5 82.5v0M170.5 86v3M170.5 90.5v0M170.5 93v0M170.5 94.5v1M170.5 97v2M170.5 101.5v0M170.5 103.5v0M171 54.5v0M171 57v0M171 59v3M171 64v4.5M171 70v7M171 78.5v2.5M171 91v0M171.5 71v13M171.5 86v0.5M171.5 89.5v0M172 36v1M172 39v2M172 42.5v3M172 47v2M172 52.5v0M172 58v1M172 61v0M172 64v0M172 67.5v0M172 69v0M172 74.5v0.5M172.5 40v2M172.5 50v0M172.5 53.5v1M172.5 56v0M172.5 58v0.5M172.5 60.5v1.5M172.5 64v3M172.5 68.5v9.5M172.5 79.5v0M173 63v1M173 70.5v3M173 75.5v3.5M173 80.5v5.5M173 88v0.5M173 91.5v0.5M173 94v0M173 96v0M173.5 55v0M173.5 59v0.5M173.5 62v11.5M173.5 75v0.5M173.5 77v1.5M173.5 80v1.5M173.5 87v0M174 70.5v1M174 74.5v1.5M174 79v0M174 81.5v0M174 83v1M174 86v2.5M174 90v11M174 102.5v0M174.5 69v0.5M174.5 72.5v1M174.5 76.5v10M174.5 88v3M174.5 92.5v0.5M174.5 97v0.5M175 68v3M175 72.5v0.5M175 74.5v9.5M175 85.5v4M175 92.5v1.5M175.5 82v1.5M175.5 85v0M175.5 87.5v0.5M175.5 90v2.5M175.5 94v0M175.5 95.5v2M175.5 100.5v1M176 42v0.5M176 44v0M176 46v0M176 48.5v0.5M176 50.5v1M176 53v1M176 58v0M176 60.5v0M176 66v0.5M176 68.5v0M176 71v0M176 73.5v0M176 76v0M176 78v0M176 79.5v0M176 83v0M176 84.5v0M176 88.5v1M176 95.5v0M176 98.5v0M176 100.5v1M176.5 41.5v0.5M176.5 47v0M176.5 48.5v0M176.5 51.5v0.5M176.5 53.5v0.5M176.5 55.5v3M176.5 60v0M176.5 61.5v8.5M176.5 72v0.5M176.5 74v0M176.5 76v0.5M176.5 78v1.5M177 48v0M177 50v2M177 53.5v1M177 56.5v9M177 67.5v3M177 73v2M177 76.5v0M177 78v1M177 80.5v0M177.5 47.5v0M177.5 50v0M177.5 55v0M177.5 58.5v0.5M177.5 62v1M177.5 65v10.5M177.5 77v0.5M177.5 79.5v4M178 49v0M178 52.5v2M178 58.5v3M178 63v10.5M178 76v0M178 80v0M178.5 62.5v1M178.5 66.5v0M178.5 68.5v0M178.5 70v4M178.5 76v0M178.5 77.5v8M179 31v0M179 34.5v0M179 39v0M179 41.5v1M179 45.5v0M179 49.5v0.5M179 52.5v0M179 58.5v1M179 61v3.5M179 66v9.5M179 81v0M179.5 34v0M179.5 37.5v0M179.5 39.5v1.5M179.5 44.5v1M179.5 49.5v0.5M179.5 52v1M179.5 56.5v1.5M179.5 62v0M179.5 64v1.5M179.5 67v8M179.5 77v0M179.5 79v0M180 60.5v0M180 62.5v2.5M180 66.5v0M180 68.5v3M180 74v3M180 79v1M180 81.5v3.5M180 87v0.5M180 89v0M180 91.5v0M180 93.5v0M180 96v2M180 99.5v0M180.5 61.5v1.5M180.5 65v13M180.5 81v0M180.5 83v1.5M180.5 86v0M181 65.5v1.5M181 71v13.5M181.5 63.5v0M181.5 70v0.5M181.5 72.5v1M181.5 75v4.5M181.5 81v7M181.5 90v0M181.5 94v0M182 47v1M182 50v0M182 54v1M182 57v5.5M182 64v2M182 67.5v0M182 69.5v0.5M182 72v2M182 76.5v1M182 79v0M182 83v0.5M182 86.5v0M182.5 62v2M182.5 65.5v5.5M182.5 74v0.5M182.5 76.5v3M182.5 81v5M182.5 91v0M183 56v0M183 58v6M183 66.5v1.5M183 70.5v0M183 72v0M183 74.5v4.5M183 81v2.5M183 85.5v0.5M183 87.5v0M183 89v0M183.5 73v0M183.5 76v0M183.5 78v0M183.5 79.5v3M183.5 85v0.5M183.5 87v2M183.5 90.5v5M183.5 98v3M184 54v0M184 56v0M184 57.5v0M184 59v1M184 61.5v2.5M184 65.5v1M184 68v6.5M184 76.5v0.5M184 78.5v2M184 82v0M184 84v0M184 86v0M184.5 55.5v10.5M184.5 68v1.5M184.5 73v1M184.5 77.5v2M184.5 82v0M185 66.5v0M185 69.5v2M185 73v0.5M185 75v0.5M185 77v11.5M185 92.5v1M185.5 71v0M185.5 73.5v1.5M185.5 78v2.5M185.5 82v2M185.5 85.5v7.5M186 48.5v0M186 58.5v1M186 63.5v0M186 66v0M186 69.5v1M186 72.5v0M186 74v0M186 76.5v0M186 79.5v2.5M186 83.5v2M186 87v5.5M186 94v1M186 96.5v1M186 99v0M186 101.5v1M186.5 35.5v0.5M186.5 39v2.5M186.5 45.5v2M186.5 49v1M186.5 53v0M186.5 54.5v0M186.5 58v0M186.5 60v7.5M186.5 69v0M186.5 71.5v0M186.5 73v0M187 66v1.5M187 69.5v0M187 71v3M187 77v5.5M187 84v1.5M187 87v5.5M187 96v0.5M187.5 60v0M187.5 62.5v0M187.5 64v3.5M187.5 69v1M187.5 71.5v0M187.5 73.5v6.5M187.5 81.5v2M187.5 85.5v0.5M187.5 95v0M187.5 96.5v0M188 40.5v0M188 47.5v2M188 52.5v1M188 56v0M188 59.5v0M188 62.5v1.5M188 70.5v0M188 72v1M188 75v2M188 80.5v0M188 82v2.5M188 87.5v3M188 92v0M188.5 40v1M188.5 42.5v1M188.5 47v1.5M188.5 50.5v1M188.5 53v0.5M188.5 55v0M188.5 58.5v1.5M188.5 62v0M188.5 64v3M188.5 68.5v0.5M188.5 71v0M188.5 72.5v1M188.5 75v0M188.5 79.5v0M188.5 83v0M189 63v1M189 68v16.5M189 86v0M189.5 64.5v0M189.5 71.5v8M189.5 81v9.5M189.5 92.5v2M189.5 96v0M190 67.5v0M190 74.5v1M190 78v0.5M190 81v0M190 82.5v6M190 90v5.5M190 97v1M190 99.5v0M190 103.5v0M190.5 37.5v0.5M190.5 41v0M190.5 43v0M190.5 44.5v1.5M190.5 49.5v4M190.5 55v0.5M190.5 63v0M190.5 66v0M190.5 73.5v0M190.5 78.5v1M190.5 81v0M190.5 83v0.5M190.5 86v0M190.5 88.5v2M190.5 93v0M190.5 94.5v0M190.5 98.5v0M190.5 100.5v0M190.5 103v0.5M191 59v0M191 64.5v0M191 66.5v2M191 70v0.5M191 72.5v7M191 81.5v5M191 88v1M191 91.5v1M191 98.5v0M191.5 64v0M191.5 68v1.5M191.5 73.5v0M191.5 75v6M191.5 82.5v1.5M191.5 85.5v1.5M191.5 88.5v0M191.5 90.5v1.5M191.5 94v1M191.5 97v1M191.5 101.5v1.5M192 49v0M192 54.5v0.5M192 57v0M192 59v10M192 73.5v1M192 78v0M192 80v0M192 85v0M192.5 62v0M192.5 63.5v0M192.5 65.5v0M192.5 67v2M192.5 70.5v0M192.5 72v9M192.5 83v0M192.5 85v0.5M192.5 88.5v0.5M192.5 91v0M192.5 96.5v0M193 53.5v0M193 58v0M193 66v0M193 67.5v0M193 70v2M193 74v1M193 76.5v1.5M193 79.5v3M193 84.5v2.5M193 89.5v1M193 92.5v0M193.5 33v0M193.5 38.5v0M193.5 43v1M193.5 46.5v4M193.5 52v1.5M193.5 55.5v1M193.5 58v0M193.5 59.5v0M193.5 63.5v0M193.5 66v0.5M193.5 68.5v2M193.5 74.5v1M193.5 78v0M193.5 80.5v0M193.5 84.5v0M193.5 86v0M193.5 88v0.5M193.5 90v1.5M193.5 93.5v0M193.5 95v0M193.5 98v0M194 62v0M194 70v0M194 71.5v6.5M194 80v2M194 84v2M194 88.5v6M194 96v1M194 100.5v0M194 102v1M194 105v0M194.5 48v0M194.5 54.5v0M194.5 57v0.5M194.5 59v4M194.5 66v0M194.5 67.5v1M194.5 70.5v1.5M194.5 76v0M194.5 78v3M194.5 83v3.5M194.5 90.5v0M194.5 94v0M194.5 97v0M194.5 102v0M195 50.5v0M195 52v0M195 54.5v0M195 58v2.5M195 62v0.5M195 65v0M195 68.5v4M195 74v3M195 83.5v0M195 88.5v3.5M195 94v0M195 96.5v3M195 103.5v0M195.5 60.5v0M195.5 65v0M195.5 68.5v0.5M195.5 78.5v0.5M195.5 80.5v0M195.5 84.5v1M195.5 89.5v0M195.5 92v0M195.5 94v0M195.5 97.5v0M195.5 100v0M195.5 102.5v0M195.5 107.5v0M195.5 109v0M195.5 110.5v4M196 12v1M196 15v0M196 18v0M196 19.5v0M196 23v0M196 25.5v0.5M196 28v1.5M196 32v0M196 36v0.5M196 41v0M196 42.5v0M196 45v0M196 48v2.5M196 53.5v0.5M196 56.5v0M196 58.5v0M196 64v0M196 65.5v0M196 67.5v0M196 70.5v0M196 72.5v0M196 77v0.5M196 80.5v1M196 84.5v0M196.5 70.5v1M196.5 75v1M196.5 78v0M196.5 81v0M196.5 82.5v0M196.5 84v1.5M196.5 87v11M196.5 99.5v0.5M196.5 103v0.5M196.5 108v0M197 41.5v0M197 50v0M197 53.5v3M197 60.5v0M197 63v0.5M197 65.5v0M197 67v3.5M197 72v1M197 75v1M197 77.5v2M197 82.5v0.5M197 85.5v0M197 87.5v3M197 92v3M197 104.5v0M197.5 57.5v0M197.5 61v0M197.5 64.5v2.5M197.5 70v0M197.5 74v5.5M197.5 82v4M197.5 88.5v1M197.5 91v0M197.5 92.5v0M197.5 97.5v0M198 66v0M198 67.5v0M198 72.5v0.5M198 77v1.5M198 80.5v0M198 82.5v0.5M198 84.5v2.5M198 89v9.5M198 100v0M198 101.5v0M198 105v0M198.5 61.5v0M198.5 63v2M198.5 67.5v0M198.5 69v7M198.5 77.5v0M198.5 79v2.5M198.5 83v1M198.5 85.5v0M198.5 88v0M198.5 93.5v1M198.5 97v0M198.5 101v1M198.5 108v0.5M199 59.5v0M199 61v1M199 64.5v2.5M199 68.5v0M199 70.5v3M199 77v0.5M199 80v0.5M199 86.5v2M199 93v0M199 95v0M199 99v0.5M199 103v0M199 107.5v0.5M199.5 57v0M199.5 59v0M199.5 61v0.5M199.5 63.5v0M199.5 67v13.5M199.5 83v0M199.5 86.5v0M199.5 88v0M200 58.5v0M200 60v0M200 63v3.5M200 68v1.5M200 71v8M200 84v0M200.5 68v0.5M200.5 71.5v0M200.5 74.5v0M200.5 76.5v1M200.5 79.5v0M200.5 81.5v0.5M200.5 83.5v0.5M200.5 86v0M200.5 88.5v1M200.5 91v0.5M200.5 93.5v0M200.5 95.5v6M201 32v0M201 35.5v0M201 37v0M201 39v3.5M201 45v0M201 46.5v0M201 48v0M201 51v0M201 53v1M201 56.5v0M201 61.5v0M201 63v1M201 66.5v3M201 72v0M201 78v0.5M201 80.5v0M201 84v0M201 85.5v0M201 87.5v0.5M201 89.5v2M201 97.5v0.5M201 100.5v0M201.5 41.5v0M201.5 44.5v0M201.5 48.5v0M201.5 53v1.5M201.5 58v1.5M201.5 61v0M201.5 64.5v2M201.5 68v0M201.5 69.5v9M201.5 80.5v2.5M201.5 86v0M202 65v0M202 67v2M202 71.5v9M202 82v0M202 86v0M202.5 62.5v0M202.5 64.5v0M202.5 66.5v0M202.5 68.5v9M202.5 79v0M202.5 81v0.5M203 62v0M203 64v0M203 66v0.5M203 68v12M203 82v1.5M203.5 71v13.5M204 67v0M204 68.5v6M204 76v4M204 83.5v0M204.5 70.5v0.5M204.5 72.5v15M205 54.5v2.5M205 59v0M205 60.5v1.5M205 64v10.5M205 77v1M205 79.5v1M205 82v1M205 85v0M205.5 63.5v0.5M205.5 65.5v0.5M205.5 68v1.5M205.5 71v14.5M205.5 88v0M205.5 89.5v2.5M206 59v0M206 60.5v2M206 64.5v6.5M206 72.5v3M206 77v0.5M206 79v2M206 83v0M206 85v0M206.5 61.5v0M206.5 66.5v3M206.5 71.5v10.5M206.5 84v1M206.5 87v1M207 63.5v0.5M207 68.5v11.5M207 83.5v3.5M207.5 61v0M207.5 63.5v3M207.5 70.5v0.5M207.5 73v2.5M207.5 77v2.5M207.5 81.5v3.5M207.5 87v1.5M207.5 90.5v2.5M207.5 97v0M208 60.5v2.5M208 65v7M208 73.5v0.5M208 76v5.5M208 83v0M208.5 62v0.5M208.5 65v7M208.5 74v0.5M208.5 77v2M208.5 82v4.5M208.5 88.5v2M208.5 92.5v1.5M208.5 95.5v1M208.5 98v0M209 76.5v1M209 79v0.5M209 81v0M209 83v13M209 97.5v2M209 101.5v0.5M209.5 69v0M209.5 71.5v0M209.5 75.5v4.5M209.5 81.5v3.5M209.5 87v3.5M209.5 94v0M209.5 98v0M210 26v1.5M210 31.5v3.5M210 36.5v2M210 41v0M210 43v1.5M210 48.5v0M210 50.5v0M210 57.5v1M210 61.5v0M210 64.5v1M210 67v0.5M210 69v0.5M210 71.5v1M210 74.5v0M210 76v1M210 79v0M210 81.5v0M210.5 43.5v1M210.5 50.5v0M210.5 53v0M210.5 59.5v2M210.5 68v0M210.5 72.5v0M210.5 75.5v0M210.5 77.5v0M210.5 79.5v0M210.5 84.5v0M210.5 86.5v6M210.5 94v1.5M210.5 98v0M210.5 100v1M210.5 102.5v4.5M211 50.5v0M211 56v0M211 61.5v3M211 66v10.5M211 81v0.5M211 83.5v0M211 86.5v1M211 89v0M211 92v0M211 94v0M211 95.5v0M211 97.5v1M211.5 63v0M211.5 64.5v1.5M211.5 69.5v0M211.5 71v2.5M211.5 76.5v1.5M211.5 79.5v0.5M211.5 83.5v0M211.5 85v3.5M211.5 91.5v3M211.5 96v1.5M211.5 99v0.5M211.5 104.5v0M212 53.5v0M212 55.5v1M212 59v0M212 60.5v1.5M212 63.5v0M212 66v2M212 71.5v2.5M212 75.5v0M212 77v1.5M212 80.5v0M212 82v0M212 83.5v0M212 85v0M212 86.5v0.5M212 90v0M212 91.5v0M212 93.5v0M212 95v0M212 96.5v1M212 100.5v0M212 102.5v0M212 107v0M212.5 78v0M212.5 79.5v2.5M212.5 83.5v10.5M212.5 95.5v2M212.5 99v0.5M213 71.5v1M213 74.5v3.5M213 79.5v8M213 91v1.5M213 95v0M213.5 62.5v0M213.5 64v0M213.5 66.5v0M213.5 70.5v0M213.5 73.5v1M213.5 76v2.5M213.5 80v0M213.5 81.5v5.5M213.5 88.5v3.5M213.5 94v0.5M213.5 96.5v0M213.5 100v0M214 61.5v4M214 67v2.5M214 71v9.5M214.5 67.5v1.5M214.5 71.5v6M214.5 80v3.5M214.5 85v0M214.5 86.5v4M214.5 92v0M214.5 96.5v0M215 56.5v0M215 58.5v0.5M215 63.5v0M215 67v3M215 73v0M215 74.5v1M215 78.5v0.5M215 80.5v0.5M215 84v5M215 90.5v0M215 93.5v1.5M215 96.5v0.5M215 98.5v1M215 101v0M215 106v0M215.5 49v4.5M215.5 57.5v5.5M215.5 65v1.5M215.5 68.5v0M215.5 73v0M216 61v1M216 63.5v0M216 66v2.5M216 72.5v2M216 76v6M216 83.5v1M216 86v2.5M216 91.5v1.5M216 94.5v0M216 98.5v0M216.5 67.5v1.5M216.5 71.5v5M216.5 79.5v7M216.5 88v3.5M216.5 93.5v0M217 68.5v9M217 79v3.5M217 84v0M217 85.5v1.5M217 89.5v0M217 92v0M217.5 77v14.5M217.5 93.5v0.5M217.5 95.5v2M217.5 100.5v1M218 72.5v0M218 76.5v3.5M218 82.5v9M218 93v1.5M218 97v2M218 100.5v0M218.5 53.5v0M218.5 64.5v0M218.5 68.5v1.5M218.5 72v3.5M218.5 77v8.5M218.5 87.5v4.5M218.5 95v0.5M218.5 99v0M219 59v0M219 62v0M219 66v0M219 68.5v0M219 70v6M219 77.5v5M219 84.5v0.5M219 86.5v1.5M219 89.5v0M219 91v0M219 98v0M219 100.5v0M219.5 79v0M219.5 80.5v0M219.5 83.5v0.5M219.5 85.5v0M219.5 87v9.5M219.5 98v0M219.5 100v4M219.5 107v0M219.5 109v0M220 79v0.5M220 82v12M220 96v3M220 101.5v1M220 104.5v0M220 108v1M220.5 47v0M220.5 52v0M220.5 54.5v2.5M220.5 60v2.5M220.5 64v0M220.5 65.5v3.5M220.5 71v3.5M220.5 79.5v0.5M220.5 84v2M220.5 88v4.5M221 71v2M221 75v0M221 77v2M221 83v1M221 87.5v0.5M221 89.5v3M221 94v3.5M221 101v1.5M221 104v2.5M221 108v1.5M221.5 76.5v0M221.5 85v4M221.5 90.5v10M221.5 102v0.5M221.5 104v1.5M221.5 108v0M222 82.5v1.5M222 87.5v3M222 92v13M222 106.5v0M222 109v0M222.5 40v0M222.5 44v1M222.5 46.5v1M222.5 49v1M222.5 53v0.5M222.5 55v1M222.5 58v0M222.5 64v3.5M222.5 69.5v1M222.5 73v0M222.5 75v0M222.5 77.5v1M222.5 80v0M222.5 82.5v0M222.5 84.5v2M222.5 88.5v0.5M222.5 91.5v0M222.5 93v0M222.5 96.5v0M223 64v0M223 67v6M223 75v0M223 76.5v1M223 79.5v3M223 87v3.5M223 92.5v0M223 94v0M223 97v1.5M223 100.5v1.5M223 103.5v0M223 105v0M223.5 64.5v0M223.5 66v0M223.5 68v2M223.5 71.5v0M223.5 73v2.5M223.5 78v5.5M223.5 85v1M223.5 87.5v0M223.5 89v0.5M223.5 93.5v0M224 39.5v0M224 45.5v0M224 47.5v3.5M224 52.5v1M224 55v1.5M224 58v5M224 64.5v1.5M224 67.5v0.5M224 69.5v3M224 75.5v0M224.5 65.5v0M224.5 67v13.5M224.5 82v3M224.5 88.5v0M225 48v0.5M225 51v0M225 52.5v6M225 60.5v0.5M225 62.5v5.5M225 69.5v0M225 71v6.5M225 79v0M225 82v0M225 85v0M225.5 45v0M225.5 52.5v0M225.5 54v0M225.5 56v5M225.5 62.5v2M225.5 66v3M225.5 73v5M225.5 80v0M226 51v0M226 55v0.5M226 57.5v0.5M226 60v3M226 64.5v4M226 70v5M226 76.5v2M226 83v2.5M226 87v0M226 88.5v0.5M226 90.5v0M226.5 50v2.5M226.5 54v4.5M226.5 62.5v3M226.5 67.5v5.5M226.5 74.5v1.5M226.5 78v0M226.5 80v2M226.5 84.5v1M226.5 88v0M227 46.5v0M227 48v1.5M227 51v2M227 55v2M227 59v2.5M227 66v0.5M227 69v0.5M227 71v0M227 73.5v1M227 77v0.5M227 82.5v0M227 84.5v3M227 91v0M227 94v0M227 96v0M227 98.5v1M227.5 58v0M227.5 60v0M227.5 61.5v0M227.5 64v0M227.5 65.5v0.5M227.5 68.5v13M227.5 83.5v0M227.5 88v1M228 59v0M228 61v0M228 62.5v0M228 64v0.5M228 66.5v11M228 79v0.5M228 81v0M228 82.5v2.5M228 90v0M228.5 54v0.5M228.5 56.5v0.5M228.5 58.5v0M228.5 60v0.5M228.5 63v0M228.5 66v1M228.5 69v2M228.5 72.5v11M228.5 85.5v1.5M228.5 91v0M228.5 93v0M229 55.5v0M229 59v1M229 62v0.5M229 67v3.5M229 74v0M229 75.5v0.5M229 78v0M229 79.5v2.5M229 85v4.5M229 91.5v2M229 96v0M229 98v1M229 101.5v0M229.5 65.5v0M229.5 70v0M229.5 72v0M229.5 74.5v2M229.5 79.5v3.5M229.5 84.5v1M229.5 87v2.5M229.5 91v1.5M229.5 95v0.5M230 60v2M230 64v1.5M230 67v10.5M230 80v1M230 82.5v0M230 89v0M230.5 37v1M230.5 40v0M230.5 42v0.5M230.5 46.5v0.5M230.5 48.5v0M230.5 50.5v0.5M230.5 52.5v0M230.5 54v0.5M230.5 56v0.5M230.5 58.5v5.5M230.5 68v1M230.5 70.5v0M230.5 74v1M230.5 80v1M231 54v0M231 58.5v0M231 60.5v0M231 62v4.5M231 68v0M231 69.5v6.5M231 77.5v2M231 81v1M231 84v0M231 85.5v1M231 88.5v1M231 92v0M231.5 46.5v0M231.5 50v3.5M231.5 55v1.5M231.5 58v5M231.5 64.5v2M231.5 68v0M231.5 69.5v1.5M231.5 73.5v0M231.5 75v0.5M231.5 77.5v0M231.5 82.5v0M231.5 90.5v0M232 77.5v0M232 80v0M232 81.5v0M232 83v2.5M232 87v0M232 88.5v1.5M232 92v5.5M232 100.5v1M232 104v0.5M232.5 69v0M232.5 70.5v1M232.5 73.5v0M232.5 76v0.5M232.5 78v12.5M232.5 92v0.5M232.5 95.5v0M233 79.5v0M233 82v1.5M233 85v0M233 86.5v6M233 94v1.5M233 97v2M233 103v0M233.5 65v0M233.5 73.5v2M233.5 77v0M233.5 79v10.5M233.5 91v0M233.5 92.5v2M233.5 97v0M234 61.5v0M234 63.5v1M234 69.5v3M234 74v11M234 86.5v0M234 91v0M234.5 50.5v0M234.5 54v1M234.5 57v0M234.5 58.5v1M234.5 62v4M234.5 68v3M234.5 73v5M234.5 80.5v3M234.5 85v0M234.5 88.5v0M235 50.5v0M235 60v5M235 66.5v12M235.5 50v2.5M235.5 54.5v4M235.5 61v0M235.5 62.5v5M235.5 70v4M235.5 75.5v0M235.5 79.5v0M236 30.5v0M236 35v1M236 39.5v0M236 43v1M236 45.5v0.5M236 47.5v2M236 52v0M236 54.5v4M236 60v1M236 62.5v0M236 64v0M236 66v1M236 68.5v0M236 70v1M236 73v1M236 82v0M236.5 29v0M236.5 35v0M236.5 41v1M236.5 44.5v6M236.5 54.5v0.5M236.5 57v2M236.5 63v0M236.5 67v0M236.5 68.5v1.5M236.5 71.5v0M236.5 73v3M236.5 77.5v0.5M236.5 84.5v0M237 61.5v0.5M237 63.5v0M237 65v0M237 66.5v0M237 69v13.5M237 84.5v0M237 87.5v0M237 90v0M237 93.5v0M237.5 67v0M237.5 71v0M237.5 75v4M237.5 82v5.5M237.5 91.5v2M237.5 95.5v0M237.5 97.5v0M237.5 100.5v1M237.5 103.5v0M238 56v0M238 58.5v3.5M238 63.5v0M238 65v9M238 75.5v4M238 82.5v2.5M238.5 25.5v1M238.5 34v0M238.5 35.5v1M238.5 43v6M238.5 50.5v1.5M238.5 53.5v0M238.5 55v2.5M238.5 59v4M238.5 64.5v0M238.5 68.5v0M238.5 70v0M239 18v8M239 28.5v0M239 30v0.5M239 40v0M239 49.5v0M239 52v0.5M239 55v0M239 56.5v1M239 60.5v0M239 62v0M239 66v1.5M239 70.5v1M239 73v1.5M239 77.5v0M239 81.5v0M239 83v0M239.5 60.5v0M239.5 62v0M239.5 64.5v4M239.5 70.5v2.5M239.5 74.5v1.5M239.5 77.5v4.5M239.5 83.5v0.5M239.5 86.5v0M239.5 88v2.5M240 47.5v0.5M240 49.5v0M240 51.5v1M240 54v1.5M240 58v7.5M240 68.5v0M240 70.5v2M240 75.5v1M240.5 21v0M240.5 27.5v0M240.5 35.5v2.5M240.5 39.5v0M240.5 42.5v0.5M240.5 45.5v2.5M240.5 49.5v2.5M240.5 54v0M240.5 56.5v0M240.5 60v0M240.5 63.5v2.5M240.5 67.5v1.5M240.5 71v0M240.5 77v0M240.5 79.5v0M240.5 82v1M241 67v1.5M241 70v0M241 72.5v0M241 74v0M241 75.5v3.5M241 81v0.5M241 83.5v0M241 85v0M241 87v6.5M241 95v2M241 100v1M241 102.5v0M241 105v0M241 108v0M241.5 50.5v0M241.5 54v0M241.5 56.5v0M241.5 59.5v0M241.5 61v1.5M241.5 64v1.5M241.5 67v1.5M241.5 70.5v4.5M241.5 76.5v0.5M241.5 78.5v1.5M241.5 81.5v0M241.5 91v0M242 48.5v3M242 53v12M242 66.5v0.5M242 69.5v0M242 72v0M242 76v0M242.5 57v3M242.5 61.5v0M242.5 63v1.5M242.5 66.5v0.5M242.5 68.5v0.5M242.5 71v2.5M242.5 75v3M242.5 79.5v0.5M242.5 82.5v4M242.5 88v1M242.5 91.5v1M242.5 94.5v0M243 42.5v0M243 47.5v0.5M243 50v0M243 51.5v1M243 54.5v0M243 57v0.5M243 59.5v4.5M243 65.5v0M243 67.5v1M243 70.5v0.5M243 74v0M243 76v1.5M243 79v3.5M243 85v2M243 90v1M243 92.5v0M243.5 53.5v0M243.5 55v1M243.5 57.5v0M243.5 59.5v0.5M243.5 61.5v6.5M243.5 69.5v1.5M243.5 72.5v1M243.5 75.5v4M243.5 82v1.5M243.5 85v0M243.5 89v0M244 61.5v1.5M244 66.5v0M244 69v0M244 71.5v6M244 79.5v1.5M244 82.5v3.5M244 87.5v1M244 90.5v1M244 94.5v0M244.5 40v0M244.5 42.5v0M244.5 47.5v1.5M244.5 51.5v0M244.5 53v2.5M244.5 57.5v6M244.5 65.5v0M244.5 67v2.5M244.5 74v0M244.5 75.5v0M244.5 77v0M244.5 79v0M245 54v0M245 60.5v0M245 62v0M245 63.5v2.5M245 67.5v0.5M245 70v0M245 73v0M245 75v1M245 78v0.5M245 81v6.5M245 89v0M245 92v4.5M245 102.5v0M245.5 59v0M245.5 65v0M245.5 68.5v0M245.5 70v1.5M245.5 73v1.5M245.5 76v6.5M245.5 84v1.5M245.5 87.5v0M245.5 89v0M245.5 93.5v0M245.5 95v0M246 38v1M246 46.5v1M246 50v0M246 51.5v0M246 53.5v0.5M246 56v8M246 65.5v3.5M246 70.5v0M246 73v0M246 76v1M246.5 45.5v1M246.5 54v2M246.5 57.5v9M246.5 68v0M246.5 69.5v2M246.5 73.5v1.5M246.5 77.5v1M246.5 81v0M246.5 82.5v0M247 41.5v0M247 53.5v1M247 56.5v5M247 65v1M247 67.5v2.5M247 73v1.5M247 76.5v2M247 80v1.5M247 83.5v0M247 86v1M247.5 22v0M247.5 26.5v0M247.5 28.5v0M247.5 30v0M247.5 31.5v2.5M247.5 36.5v1.5M247.5 42v1M247.5 45v0M247.5 46.5v0M247.5 48v0M247.5 49.5v0.5M247.5 52v1.5M247.5 55.5v0.5M247.5 57.5v1.5M247.5 61v3M247.5 70v0M247.5 73v1.5M247.5 76v0M247.5 77.5v0M248 52.5v0M248 57v0M248 61v0.5M248 63.5v0M248 65v13.5M248 82.5v0M248.5 65.5v0M248.5 67v0M248.5 69v2M248.5 73.5v12M248.5 87v0.5M248.5 89v0.5M248.5 93v0M248.5 95.5v0M248.5 99v0M249 47v0M249 48.5v0M249 52v0M249 53.5v0M249 56v0M249 59v0.5M249 61v0M249 63v5M249 69.5v0.5M249 74.5v1.5M249 82v1.5M249 85v0M249 86.5v0.5M249 89.5v1.5M249 92.5v0M249 94v1.5M249 98.5v0M249 101v2M249.5 17v0M249.5 24v0M249.5 25.5v0M249.5 27.5v0M249.5 29.5v1.5M249.5 32.5v0M249.5 34v1.5M249.5 37v0.5M249.5 39v1.5M249.5 43.5v0.5M249.5 46v0.5M249.5 48v0M249.5 49.5v2M249.5 53.5v0.5M249.5 56v2M249.5 59.5v0M249.5 62v1M249.5 66.5v1M249.5 69v0M249.5 73.5v0M250 53v1.5M250 56.5v0M250 59v1.5M250 62v0M250 63.5v8M250 73v0M250 74.5v0M250 76v1M250 79.5v0M250 81.5v0M250.5 55v0M250.5 60.5v0M250.5 62v1M250.5 66v6M250.5 74v2.5M250.5 78.5v3M250.5 83.5v5M250.5 90v0M250.5 91.5v0M251 45.5v0M251 49.5v0.5M251 53v0.5M251 55v8M251 64.5v3M251 69v0M251 70.5v4.5M251 77v0.5M251 81v1.5M251.5 7.5v0M251.5 9v0M251.5 12.5v0M251.5 14v1M251.5 16.5v1M251.5 19.5v0.5M251.5 21.5v0M251.5 23.5v0M251.5 31v0M251.5 32.5v0M251.5 36v0M251.5 39.5v0.5M251.5 45.5v0M251.5 47v1.5M251.5 52.5v0.5M251.5 57v3.5M251.5 62.5v5.5M251.5 70.5v0.5M251.5 73.5v0M251.5 75.5v0M252 14v0M252 19v0M252 22.5v0M252 26.5v0M252 29v0.5M252 35.5v0M252 37v0M252 39v0M252 40.5v1M252 44.5v0M252 46v1M252 52v0M252 55v2.5M252 60v9.5M252 74v0M252.5 56.5v0M252.5 58.5v0M252.5 60.5v0M252.5 63v2M252.5 67v0.5M252.5 70.5v4M252.5 76.5v0.5M252.5 80v2M252.5 84.5v5.5M252.5 92.5v0M253 55v0M253 60.5v0M253 64v3.5M253 69v3M253 73.5v0M253 76v1M253 78.5v1.5M253 81.5v3.5M253 87v1M253 93v0.5M253 96v0M253.5 53v1M253.5 56v0M253.5 62v1M253.5 64.5v10M253.5 76v1.5M253.5 79v1.5M253.5 83v0M253.5 89v0M254 54v0M254 56.5v0M254 58v2M254 61.5v0M254 63v4M254 68.5v9M254 79.5v0M254.5 68.5v0M254.5 70v2M254.5 73.5v9M254.5 84v0M254.5 86.5v0M254.5 89.5v1M254.5 93v0M254.5 95.5v0M254.5 98v0M255 91v0M255 93.5v0.5M255 97.5v0.5M255.5 66v0M255.5 69v5M255.5 75.5v0M255.5 77v0M255.5 78.5v2.5M255.5 82.5v3M255.5 87v0.5M255.5 89v1M255.5 97.5v0M256 60v3M256 64.5v0M256 66.5v3.5M256 71.5v6M256 79v3M256.5 31v0M256.5 34v0M256.5 35.5v0M256.5 37.5v5.5M256.5 45.5v2.5M256.5 51v1M256.5 53.5v0M256.5 55.5v2M256.5 60.5v1.5M256.5 64.5v2.5M256.5 68.5v0M256.5 70v0M256.5 71.5v0M256.5 73.5v0M256.5 79v0M257 41.5v0M257 43.5v1M257 47v1M257 50.5v9.5M257 61.5v0M257 63v0M257 69v0M257.5 49v1M257.5 51.5v1M257.5 54v6.5M257.5 62v3M257.5 66.5v1M257.5 69v0M257.5 71v0M257.5 72.5v0.5M257.5 76v0M258 60.5v2M258 64v1.5M258 67v11.5M258 80v0.5M258 82.5v0M258 84v0M258.5 58.5v0M258.5 63.5v1M258.5 66.5v0.5M258.5 68.5v1.5M258.5 71.5v14M258.5 87v0M258.5 88.5v0M258.5 90.5v0M259 49v0M259 53.5v0.5M259 56v13.5M259 71v1.5M259.5 46v0M259.5 50v4M259.5 56.5v0M259.5 58v3.5M259.5 64v1.5M259.5 67v0M259.5 69v0M259.5 71v2M259.5 83.5v0M260 23v0M260 26v0M260 30.5v3M260 36v1.5M260 39v2M260 42.5v3.5M260 49v2.5M260 53.5v0M260 55v0.5M260 57v0M260 58.5v0M260 63.5v2M260 69v0M260 71.5v0M260.5 47.5v1M260.5 51.5v0M260.5 54v2.5M260.5 58v2M260.5 61.5v0M260.5 63v0M260.5 64.5v5.5M260.5 72v1.5M261 58v1M261 60.5v8M261 70v3M261.5 44v0M261.5 46.5v0.5M261.5 49.5v0M261.5 51v1.5M261.5 55v5M261.5 61.5v0M261.5 63.5v0M261.5 66v7M261.5 74.5v1M261.5 77v0M261.5 79.5v0.5M261.5 84v0M262 54.5v0.5M262 58.5v1.5M262 61.5v1.5M262 65.5v2.5M262 69.5v5M262 76v0M262 78v2.5M262.5 59v1.5M262.5 64v12.5M262.5 78v1.5M262.5 82v0M262.5 85.5v0M263 61.5v0M263 63.5v4.5M263 70v2M263 73.5v0M263 75v2M263 79v0.5M263 82v2M263 85.5v0.5M263 90v0M263 94.5v0M263.5 56v2M263.5 62v1.5M263.5 65v1.5M263.5 68.5v1M263.5 71v6M263.5 78.5v1M263.5 83.5v1M263.5 86v0M263.5 88v0M263.5 89.5v0.5M264 18v0M264 20v0M264 22.5v0M264 26.5v0.5M264 28.5v0M264 30.5v1.5M264 33.5v1M264 36.5v0.5M264 38.5v0M264 40.5v0M264 43.5v0M264 46v0M264 50v1.5M264 53.5v2M264 58v1.5M264 61v0.5M264 63.5v1M264 67v1M264 69.5v0M264 71v0M264 74.5v1M264.5 63v0M264.5 65v0M264.5 67v0.5M264.5 69v4M264.5 74.5v1M264.5 78v0.5M264.5 80v7M264.5 88.5v0M264.5 91v0.5M264.5 93v0M264.5 95.5v0M265 57v0M265 67v1.5M265 70v0M265 72v1.5M265 75.5v3M265 80v4.5M265 86v2M265 90.5v1M265 94v0M265.5 63.5v0M265.5 65.5v15.5M265.5 82.5v2M265.5 89v0M265.5 91v0M265.5 93v0M266 54.5v1M266 58.5v0M266 60v1.5M266 64v0.5M266 66v1.5M266 69.5v4M266 75v2M266 78.5v2M266 82v0M266 84v2M266 87.5v1M266 90v0M266 95v0M266.5 67v0.5M266.5 69v1M266.5 72v1M266.5 76v1.5M266.5 79v2M266.5 82.5v1M266.5 85v1.5M266.5 89v4.5M266.5 95.5v1.5M266.5 98.5v0M266.5 101v1M267 35v0.5M267 40v1M267 45.5v5.5M267 53v3.5M267 58v1.5M267 61v0M267 63v0M267 65.5v0M267 67v0M267 69.5v0M267 71v4.5M267 78.5v0M267 82v0M267 83.5v0M267.5 60v0M267.5 64.5v0M267.5 69v8M267.5 78.5v1.5M267.5 81.5v5M267.5 92.5v0M267.5 95v0M267.5 96.5v0M268 58v1M268 60.5v0M268 62v0M268 63.5v14M268 79v0.5M268 87.5v0M268.5 63v0M268.5 65.5v0.5M268.5 68v0M268.5 71v3M268.5 76v0M268.5 78v0M268.5 81.5v3M268.5 86v1M268.5 88.5v4.5M268.5 94.5v1M269 72v0M269 73.5v1M269 76.5v13M269 91v0M269.5 71.5v1M269.5 74v7M269.5 82.5v2M269.5 86v3.5M269.5 91v0M269.5 95v0.5M270 43v0M270 47v2M270 51.5v2M270 55v0M270 56.5v1.5M270 61.5v0.5M270 64.5v0M270 66v0M270 67.5v0M270 70.5v0M270 76v1M270 78.5v0.5M270 82v3.5M270 87.5v1M270 91.5v0.5M270 93.5v0M270 95v1.5M270 98.5v0M270.5 51v0M270.5 53.5v1M270.5 56v0M270.5 57.5v0M270.5 60v0M270.5 61.5v5.5M270.5 68.5v1M270.5 73v0.5M270.5 75v1M270.5 77.5v0.5M270.5 80v3.5M270.5 85.5v0.5M270.5 88v0.5M271 49v0M271 52v0.5M271 54.5v1M271 57.5v0.5M271 59.5v8M271 70v4M271 75.5v1.5M271 80v0M271 81.5v2M271 85.5v0M271.5 70.5v0M271.5 74v0M271.5 77.5v0M271.5 81.5v2M271.5 86.5v7M271.5 95.5v8M272 64.5v0M272 68v16M272 85.5v0M272 87.5v0M272.5 63v1.5M272.5 67.5v4.5M272.5 73.5v7.5M272.5 82.5v2M272.5 86v0M273 61.5v0.5M273 64.5v0M273 67v12M273.5 52.5v0M273.5 54.5v0M273.5 56v1.5M273.5 59v0M273.5 60.5v1M273.5 63.5v5M273.5 70v0M273.5 71.5v3M273.5 76.5v3.5M273.5 82v1.5M273.5 86.5v0M274 76.5v2.5M274 80.5v2.5M274 84.5v0.5M274 86.5v0M274 88v10M274 100v3.5M274.5 65v0M274.5 68.5v3M274.5 73v1.5M274.5 77v0.5M274.5 79.5v9M274.5 91v1M274.5 93.5v0.5M274.5 96.5v0M274.5 98v0M274.5 101v0.5M275 43.5v1M275 47.5v2.5M275 51.5v0M275 53v0M275 56v0M275 59v2M275 62.5v1.5M275 66.5v0M275 68.5v0M275 73.5v0M275.5 57.5v0M275.5 59v2M275.5 62.5v8M275.5 72v1M275.5 74.5v0M275.5 81v0M275.5 85v0M276 39v0M276 44v0M276 46v0M276 51v3.5M276 56.5v0M276 58.5v0M276 61v0M276 62.5v9.5M276 73.5v3M276 79v0M276 80.5v0M276 84.5v0M276.5 42v0M276.5 44v0M276.5 45.5v0.5M276.5 50.5v2M276.5 55.5v1M276.5 58v2.5M276.5 62.5v9M276.5 73v0M276.5 74.5v0M277 60.5v0M277 63.5v12.5M277.5 59.5v0M277.5 63v0M277.5 65v13.5M278 51v1M278 53.5v0M278 55v0M278 57.5v0M278 59v11M278 71.5v1M278 74v1M278 76.5v0M278.5 53v0M278.5 58.5v12.5M278.5 72.5v4M278.5 87v0M279 62v1M279 64.5v14.5M279 81.5v0M279 83.5v0M279 87.5v0M279.5 71.5v1M279.5 74v1.5M279.5 77.5v6M279.5 85v4M279.5 91v0M279.5 92.5v0M279.5 94v1M279.5 96.5v0M279.5 98v1.5M279.5 101.5v0M279.5 104v1.5M280 39.5v0M280 42v1M280 46v0.5M280 48v0M280 51.5v3.5M280 56.5v2.5M280 60.5v0M280 62.5v4.5M280 68.5v1M280 72.5v0M280 74.5v0M280 76.5v1M280 80v0M280 81.5v0M280 96.5v1M280 99.5v0M280.5 61v0M280.5 68v0M280.5 71v2.5M280.5 75v2M280.5 78.5v6M280.5 86.5v7M280.5 96v0.5M281 7v0M281 9v1M281 13.5v0M281 18.5v2M281 23.5v0M281 25.5v1.5M281 28.5v1.5M281 34v0M281 36v0M281 40v0M281 43v0M281 45v0M281 48v2.5M281 52v2M281 57.5v0.5M281 61.5v0.5M281 63.5v0M281 66v0M281 70.5v0M281 72v0.5M281 77v0M281 84v0.5M281 86v0M281 87.5v1M281.5 7v0M281.5 10v0.5M281.5 14.5v0M281.5 16v2M281.5 21v0M281.5 28v0.5M281.5 32.5v0M281.5 36.5v0M281.5 38.5v0M281.5 44v0.5M281.5 52.5v0M281.5 55.5v0M281.5 67.5v1M281.5 71.5v3M281.5 76v1M281.5 79v3M281.5 83.5v0M281.5 85v2M281.5 88.5v0M281.5 91.5v1M282 19.5v3.5M282 24.5v2M282 28.5v0M282 30.5v2M282 34v0M282 36v0M282 39v2M282 45.5v2.5M282 52v1.5M282 55v0M282 56.5v0M282 60v0M282 62v0M282 66v0M282 70.5v0M282 72v1M282 75.5v0M282 77.5v0M282 80v0M282 82.5v0M282 84v0M282 88v0M282 90v0M282 93.5v1M282.5 74.5v1.5M282.5 78.5v3.5M282.5 84.5v7M282.5 94v1.5M282.5 99v0M282.5 101v0M283 61v0M283 70.5v2.5M283 75.5v0.5M283 79.5v0M283 82.5v0.5M283 87v2M283 91v1M283 94.5v0M283 96v0M283 98v4.5M283 104.5v0M283 106v0.5M283 108.5v3.5M283.5 57.5v1M283.5 63v0M283.5 64.5v1M283.5 67.5v2M283.5 71v0M283.5 75.5v0M283.5 77v0.5M283.5 79.5v0M283.5 81v3M283.5 86v0M283.5 88.5v1.5M283.5 91.5v0M283.5 93v0M283.5 95.5v0.5M283.5 98v0M283.5 100v0.5M283.5 102v1M283.5 104.5v1M284 39.5v0M284 42.5v1M284 50v0M284 57v0M284 60v0M284 62.5v0M284 64v0M284 66v1M284 75.5v1M284 79v0M284 81.5v0M284 84v0M284 85.5v6M284 95.5v2M284 102v0M284 105.5v0M284.5 29v0M284.5 32.5v2M284.5 36.5v0M284.5 40v0M284.5 43v1.5M284.5 49.5v0.5M284.5 52v1.5M284.5 58.5v0M284.5 60v1.5M284.5 65.5v0M284.5 68v0.5M284.5 70v0M284.5 72v0.5M284.5 74v0M284.5 75.5v0M284.5 78v6.5M284.5 87.5v0M285 51v0M285 54v4.5M285 60v3.5M285 65v0M285 67v2M285 70.5v3M285 76.5v1M285 79.5v0M285.5 44.5v0M285.5 52.5v0M285.5 55v0M285.5 56.5v0M285.5 58v0M285.5 60.5v2.5M285.5 64.5v7.5M285.5 74.5v1.5M285.5 77.5v0M285.5 79v0M285.5 81v0M285.5 83v0M286 44v0M286 46.5v0M286 48v0M286 52v0M286 53.5v12M286 67.5v1.5M286 71v0M286 72.5v1M286 76v0M286 84v0M286.5 47.5v2M286.5 51.5v1M286.5 55.5v4M286.5 61.5v1.5M286.5 64.5v5M286.5 71v1M286.5 73.5v4M286.5 82v0M287 72.5v1M287 75v0M287 78v0M287 79.5v2M287 83.5v3.5M287 88.5v1.5M287 92.5v2.5M287 97v1M287 99.5v1M287.5 45.5v0M287.5 51.5v0M287.5 55.5v1M287.5 58v0M287.5 61v15M287.5 77.5v0M287.5 79v0.5M288 42.5v1M288.5 42.5v0M288.5 45v0M288.5 47v0M288.5 49v0.5M288.5 51.5v0.5M288.5 55v5.5M288.5 64.5v0.5M288.5 67.5v1M288.5 70.5v0M288.5 72v0M288.5 74.5v0M288.5 77v0M289 68v0M289 70v0M289 71.5v0M289 73v14M289.5 64v0M289.5 65.5v15.5M290 50.5v0M290 53.5v0.5M290 55.5v9M290 66v2.5M290 70v0.5M290 72v3.5M290 80v1.5M290.5 48v0M290.5 55v0M290.5 57.5v0M290.5 59.5v3M290.5 65v0.5M290.5 70v0M290.5 73v2M290.5 77v0M290.5 78.5v4M290.5 84.5v3.5M290.5 89.5v0.5M291 63.5v0M291 67v6M291 74.5v12M291 90v0M291.5 64.5v0.5M291.5 66.5v0M291.5 69.5v11M291.5 82v1.5M292 63.5v1M292 66v2M292 71v0.5M292 73v2M292 76.5v1.5M292 80v3M292 84.5v2M292 88.5v0M292 91.5v0M292 93.5v0M292.5 66.5v1M292.5 71.5v0M292.5 77.5v0M292.5 81v1M292.5 83.5v1M292.5 87v3M292.5 92.5v6M292.5 100v1M292.5 103v0M293 36.5v0M293 38v0M293 40v1.5M293 43.5v6M293 51.5v0M293 54v0M293 55.5v0M293 57.5v1.5M293 61v2M293 65v0.5M293 68.5v0M293 70v0.5M293 75.5v0M293 77.5v0M293 81v0M293 82.5v0M293 84.5v0.5M293.5 67v0M293.5 71.5v0M293.5 74v14.5M293.5 90.5v1.5M293.5 98v0M294 80.5v0M294 83.5v0M294 85v1M294 88v2M294 92v6.5M294 101v1.5M294 104v0.5M294 106v1.5M294.5 69.5v0M294.5 74.5v0M294.5 80.5v1.5M294.5 84v0M294.5 85.5v0M294.5 87.5v7M294.5 96v1M294.5 98.5v0.5M294.5 100.5v1.5M294.5 103.5v0M294.5 107v0.5M295 37.5v1.5M295 40.5v1M295 43.5v1M295 46.5v2M295 52v0M295 54v0.5M295 56v0.5M295 58.5v0M295 61v0.5M295 64.5v2.5M295 68.5v0.5M295 70.5v2.5M295 76.5v0M295 79.5v0M295 81v0M295 83v0M295 84.5v0M295 86v0M295 89v0M295.5 59v0M295.5 61.5v0M295.5 63.5v0M295.5 68v0M295.5 71v0M295.5 74v0.5M295.5 77v1.5M295.5 80.5v0.5M295.5 82.5v1M295.5 85v0.5M295.5 87.5v0.5M295.5 90v0M295.5 91.5v0.5M295.5 94v1M295.5 96.5v6M296 44v0M296 46.5v6.5M296 55.5v5M296 63v0.5M296 66v1M296.5 55v0.5M296.5 57v1M296.5 60v4.5M296.5 67v0M296.5 68.5v2M296.5 72v2.5M296.5 76v6M296.5 83.5v1M297 40v9M297 50.5v0M297 52v0M297 53.5v0.5M297 55.5v2.5M297 60.5v0M297 64v0.5M297 66.5v0M297 69.5v0.5M297 71.5v0M297 73.5v0M297.5 41.5v0M297.5 43.5v3M297.5 48.5v0M297.5 53.5v4M297.5 59v0M297.5 102v6M297.5 110v0M298 33v0M298 37v2M298 42v0M298 43.5v0M298 51v0M298 52.5v0M298 55v0M298 60.5v0M298 65v0M298 69v0M298 77v0M298 80.5v0M298 86.5v0M298 89.5v1M298 96v0.5M298 99v0M298 102.5v1M298 108v0M298 109.5v6.5M298.5 37.5v2M298.5 43.5v0M298.5 47v0M298.5 49v0M298.5 55v0M298.5 60v0M298.5 62v0M298.5 64.5v0M298.5 72v0M298.5 74v0M298.5 79v0M298.5 83.5v0M298.5 90v0M298.5 93.5v0M298.5 95v0M298.5 98v0M298.5 100.5v0M298.5 102v0M298.5 103.5v0M298.5 105v0M298.5 107.5v6.5M299 103.5v7.5M299.5 49v1M299.5 52.5v1.5M299.5 57.5v0M299.5 59.5v5M299.5 66v0M299.5 67.5v6M299.5 75v0M299.5 77v0M299.5 81v0M299.5 104.5v1M299.5 108v0M300 63v0.5M300 71.5v0M300 75.5v0M300 101v1M300 103.5v3.5M300 108.5v6M300 116.5v2M300.5 97.5v13M301 103v8.5M301.5 106.5v12M302 98.5v7.5M302 107.5v4.5M302 113.5v1M302 116.5v0.5M302 118.5v0M302.5 94.5v12M302.5 108v3M303 94.5v13M303 109.5v0.5M303.5 103.5v10M304 101v8.5M304 111.5v0M304.5 100v0M304.5 103.5v11M305 104.5v0M305 107.5v10.5M305.5 100v0M305.5 102v11M306 106v0.5M306 108v10.5M306.5 100.5v7.5M306.5 110v0M307 99v1M307 102v5M307 108.5v2M307 113v0.5M307 115v0M307 116.5v1M307.5 108.5v10M308 103.5v9.5M308.5 107.5v10.5M309 101.5v11.5M309 114.5v3M309.5 103v0.5M309.5 105v9.5M309.5 117.5v0M310 65.5v4M310 71v0M310 73.5v0.5M310 75.5v1.5M310 85v0M310 98v0M310 100.5v7.5M310 109.5v0M310.5 54.5v1.5M310.5 58v0M310.5 59.5v0M310.5 61v3M310.5 65.5v7.5M310.5 75v0M310.5 76.5v0M310.5 81v0M310.5 83v0M311 34.5v1.5M311 37.5v0M311 41v0M311 42.5v0M311 44v0M311 45.5v1M311 48v0.5M311 50v1.5M311 54.5v1.5M311 58v1M311 60.5v7.5M311 69.5v0M311 72.5v0M311.5 26v0M311.5 27.5v0M311.5 31.5v0M311.5 35.5v1.5M311.5 38.5v8.5M311.5 49v3.5M311.5 54v2.5M311.5 58v0M311.5 59.5v0M311.5 62v1M312 52.5v1.5M312 56v2.5M312 60v10M312 71.5v0M312 74.5v0.5M312.5 70.5v8.5M312.5 81v1M312.5 83.5v2M312.5 87v0M312.5 92v0M313 66v0M313 70.5v2M313 74v11.5M313 91v0M313.5 66.5v0M313.5 69.5v0.5M313.5 71.5v0M313.5 73.5v2M313.5 77v2.5M313.5 81v4M313.5 86.5v2.5M313.5 91.5v0.5M313.5 93.5v0M313.5 95.5v0M314 60v0M314 64.5v2M314 68v0.5M314 70.5v0M314 72v2M314 76v7M314 84.5v1M314 87v3.5M314 92v0M314 97v0M314.5 60.5v0M314.5 65.5v4M314.5 71v7.5M314.5 80.5v4M314.5 86v0M314.5 89v1M315 52.5v0M315 59v0M315 62v2M315 66v11M315 80v1.5M315 83v0.5M315 86.5v0M315.5 58.5v1.5M315.5 61.5v3M315.5 66v1.5M315.5 69.5v0M315.5 73v0.5M315.5 75v0M315.5 76.5v4.5M315.5 82.5v0.5M315.5 84.5v3.5M315.5 89.5v0M315.5 91v0M315.5 95v0M316 60v0.5M316 62v1M316 64.5v1M316 67v1.5M316 70.5v1M316 73.5v3.5M316 79v1M316 81.5v1M316 84v3M316 89.5v0.5M316 94v0M316.5 62.5v0M316.5 64v1M316.5 66.5v12M316.5 80v0M316.5 83v0M317 69v0M317 76.5v12.5M317 91v1M317.5 64v0M317.5 65.5v1M317.5 68.5v4M317.5 74.5v4.5M317.5 80.5v7.5M317.5 90v3.5M317.5 95v0M318 58v0M318 60.5v0M318 65.5v0M318 67.5v0M318 69v0.5M318 71v1M318 74v3M318 78.5v0M318 80v0M318 81.5v1.5M318 85v3.5M318 91v0M318.5 62v0M318.5 64v14.5M318.5 80.5v1.5M318.5 84v0M319 59v2.5M319 63v12M319 77v3M319.5 23v0M319.5 31v0M319.5 32.5v0.5M319.5 37.5v0M319.5 39.5v1M319.5 43v4M319.5 48.5v5M319.5 55v0.5M319.5 58v2M319.5 61.5v4M319.5 67v0M319.5 72v0M319.5 75v0M320 54.5v1.5M320 57.5v1.5M320 61.5v3M320 66v6.5M320 74v0.5M320 76v1.5M320 79v1M320 82v0M320 88.5v0M320.5 57v0M320.5 66v4.5M320.5 72.5v12M320.5 86.5v0M320.5 88v0M321 61v3M321 65.5v9M321 76.5v0.5M321 79v0M321 82v0M321.5 52.5v0M321.5 54v0M321.5 57.5v1.5M321.5 60.5v2.5M321.5 67v1M321.5 71v0M321.5 72.5v1M321.5 76v0M321.5 77.5v1.5M321.5 82.5v1M321.5 85.5v1M321.5 89v0M321.5 93v7M322 52.5v0M322 57.5v0M322 61v1M322 64.5v8M322 74v0.5M322 76v4.5M322 82v0.5M322 84.5v0M322 86.5v0.5M322.5 52.5v0M322.5 60.5v0M322.5 62.5v13.5M322.5 77.5v0M322.5 80v0M323 61v7M323 69.5v8.5M323 79.5v2M323 83.5v0M323.5 58.5v0M323.5 62.5v1M323.5 66.5v1M323.5 69v0M323.5 70.5v7M323.5 79v0.5M323.5 81v1.5M323.5 85.5v0M323.5 89v0M323.5 91.5v0M324 58v1M324 61v0M324 63v1M324 65.5v10.5M324 77.5v2.5M324 83v2.5M324 88v0M324 89.5v0M324.5 29v0M324.5 34.5v1M324.5 37v0M324.5 39v6.5M324.5 47v1.5M324.5 50v0.5M324.5 54v6M324.5 62.5v1.5M324.5 67v2M324.5 70.5v0M324.5 72v0M324.5 77.5v0M325 41v0M325 43v0M325 45.5v5.5M325 52.5v8M325 62v2.5M325 67v2M325 71v0M325.5 34.5v0M325.5 37v0M325.5 40v8M325.5 50v1M325.5 52.5v2.5M325.5 56.5v2M325.5 62v0M326 38.5v0.5M326 42.5v1M326 47.5v2M326 51.5v0M326 56v3M326 60.5v0M326 65.5v1M326 73.5v2.5M326 80.5v4M326 86v1M326 88.5v0M326 90.5v0.5M326 93.5v0.5M326.5 78v0M326.5 79.5v1M326.5 82v0M326.5 84v0M326.5 86v1M326.5 88.5v0M326.5 90v1M326.5 93v0M326.5 95.5v0M326.5 97.5v0.5M327 57.5v0M327 60.5v0.5M327 64v0M327 66v4.5M327 72v0M327 73.5v2M327 77v2M327 82v0M327 85v1M327 88.5v0M327 92v0M327 95v1M327 97.5v0M327.5 63v1M327.5 66v0.5M327.5 68.5v2.5M327.5 72.5v6M327.5 80v1.5M327.5 85.5v1.5M328 65.5v0M328 67v0.5M328 71.5v0M328 74v0M328 75.5v7.5M328 84.5v1.5M328 87.5v1.5M328 90.5v0M328.5 48.5v1M328.5 53v0M328.5 55v0.5M328.5 57v0.5M328.5 59.5v6M328.5 67v1M328.5 69.5v1.5M328.5 73v1.5M328.5 77.5v0M328.5 80.5v0M329 61.5v0M329 63v1.5M329 66.5v12M329 80v0.5M329.5 35v0M329.5 46v0M329.5 48v3.5M329.5 53v3M329.5 57.5v2.5M329.5 62v1M329.5 65.5v0.5M329.5 69v1.5M329.5 72.5v0.5M329.5 76.5v0.5M329.5 79v0M330 70.5v0.5M330 73.5v0M330 75v3.5M330 81v7M330 89.5v0M330 91v0M330 94v0M330.5 52.5v0M330.5 57.5v0M330.5 60v2M330.5 64v3M330.5 69v4.5M330.5 75.5v1.5M330.5 81.5v0M331 57.5v0M331 60v0.5M331 64v0M331 65.5v0M331 67v2.5M331 71.5v0M331 73v1.5M331 76v12M331 89.5v3.5M331 95.5v0.5M331.5 7v0M331.5 16.5v3.5M331.5 23v0M331.5 26.5v0M331.5 31v0.5M331.5 33v0M331.5 37.5v0M331.5 39.5v0M331.5 41.5v1M331.5 46v0M331.5 48.5v0M331.5 52.5v0M331.5 57v0M331.5 58.5v0M331.5 61v0.5M331.5 67.5v0M331.5 69v0M331.5 71v2.5M331.5 75.5v1M331.5 80.5v2M331.5 84v1.5M331.5 89v0M332 11v0M332 14.5v0M332 20v0M332 21.5v0.5M332 23.5v0M332 33.5v1.5M332 37v0M332 40v0M332 41.5v0M332 44.5v1M332 47v0M332 49v0M332 50.5v0M332 53v1M332 55.5v2M332 60.5v1M332 63v0.5M332 65v0M332 66.5v1M332 69v0.5M332 71.5v1M332 76.5v0M332 79v0M332.5 34.5v2.5M332.5 40v2.5M332.5 47v0M333 35v0M333 38.5v0.5M333 40.5v0.5M333 43.5v0M333 46v17.5M333 69.5v0M333.5 52v0M333.5 53.5v3M333.5 58v6M333.5 66v2M333.5 69.5v0M334 63v0M334 68v2M334 72.5v2M334 76.5v0M334 78v0M334 81.5v0M334 83.5v0M334 85v1.5M334 89v0M334 90.5v10M334 103v0M334 104.5v0.5M334 111v0M334.5 46v0M334.5 49v1M334.5 52v1M334.5 55.5v1M334.5 59v1M334.5 62.5v0M334.5 65v0.5M334.5 69.5v1M334.5 72.5v1.5M334.5 76v0M334.5 79v0M334.5 82v1.5M334.5 85v0M334.5 88v0M334.5 89.5v4M334.5 95.5v2M334.5 100v1.5M334.5 110.5v0M335 40v0.5M335 42.5v2.5M335 46.5v4.5M335 52.5v8M335 66v0M335 67.5v0M335.5 33v0M335.5 36.5v0.5M335.5 38.5v1M335.5 41v0.5M335.5 43.5v6M335.5 52v0M335.5 55.5v0.5M335.5 58.5v0M335.5 60v0.5M335.5 62v5M335.5 68.5v0M335.5 70.5v1.5M335.5 75.5v2M335.5 79v0M335.5 81.5v0M336 60.5v2M336 65v4M336 70.5v10M336 83v0.5M336 87.5v0M336 89v0M336.5 54v0M336.5 55.5v0M336.5 58v12M336.5 71.5v0M336.5 73v0M336.5 77.5v0M337 48v0M337 55.5v0M337 57v1.5M337 60.5v0M337 62v2.5M337 66v8M337 76v0M337 80v0M337.5 62.5v0M337.5 66v2.5M337.5 70v6.5M337.5 78v0M337.5 79.5v2.5M337.5 84v2.5M337.5 89v0M337.5 91.5v0M338 49.5v2.5M338 53.5v16M338.5 60v2M338.5 65v16M338.5 82.5v3.5M338.5 90v0M339 65.5v0M339 70v1.5M339 73v7M339 82v3M339 89v0M339 92.5v0M339.5 52.5v0.5M339.5 55.5v1.5M339.5 59.5v3.5M339.5 64.5v2.5M339.5 69v2M339.5 74v0M339.5 75.5v4.5M339.5 81.5v1M339.5 84v1M339.5 86.5v0M339.5 88v0.5M340 51v0M340 52.5v0M340 54v2M340 57.5v8M340 67v2M340 71.5v2M340.5 28v0M340.5 35v0M340.5 36.5v0M340.5 39v1M340.5 41.5v2M340.5 45v1.5M340.5 48v0M340.5 49.5v5M340.5 57v0M340.5 59.5v3.5M340.5 66v0M340.5 67.5v1M340.5 70.5v0M340.5 78.5v1M341 61.5v0M341 66.5v0M341 68.5v8.5M341 79.5v8M341 89v0M341.5 54.5v1M341.5 61v12.5M341.5 75v1M341.5 78v2M342 57.5v10.5M342 69.5v3M342 76v0M342 77.5v0M342 80v0M342 85v0M342 86.5v1M342 91v0M342 93.5v1M342 98.5v0M342.5 56.5v7.5M342.5 65.5v4M342.5 71v0M342.5 73v1M342.5 75.5v1M342.5 78v0.5M342.5 80v3M342.5 85v0M342.5 87.5v0.5M342.5 89.5v0M342.5 91v2.5M342.5 96v0M343 54.5v0M343 57v9M343 67.5v0M343 69v0M343 71v1.5M343 75v0.5M343 78v0.5M343.5 59v0M343.5 61.5v1.5M343.5 65v4.5M343.5 71v1M343.5 75.5v3.5M343.5 80.5v1.5M343.5 84v1M343.5 86.5v0M343.5 88v1.5M343.5 91v0.5M343.5 93.5v0M343.5 96v0M344 59.5v3.5M344 65v1.5M344 68v0.5M344 70.5v0M344 72.5v1M344 75v4M344 80.5v2M344 84v1.5M344 87.5v0.5M344 89.5v0M344 91v0M344 93v0M344.5 45.5v0.5M344.5 48v10.5M344.5 60v6M344.5 71v0M344.5 72.5v0M345 54.5v0M345 57v0M345 59.5v10M345 74v3M345 79.5v0.5M345 83v0M345 89.5v0.5M345 91.5v0M345 94.5v1M345 100.5v0M345.5 45v0M345.5 47v7M345.5 55.5v0.5M345.5 58.5v1.5M345.5 61.5v0M345.5 64v0M345.5 69v1M345.5 72v0M345.5 75.5v0.5M345.5 77.5v0M345.5 79v0M345.5 87v0M345.5 94.5v0.5M345.5 97v0M345.5 99.5v0M345.5 101v0M346 41v0.5M346 43v5M346 50v0M346 52v1M346 57.5v0M346 59.5v0M346 61.5v0.5M346 65v1M346 67.5v0M346 72v1M346 74.5v1M346 77v0.5M346 79.5v2M346 83v0.5M346 86v2M346 90v2M346.5 35v0M346.5 36.5v1M346.5 39.5v0M346.5 41.5v1M346.5 44v3M346.5 49v2.5M346.5 53v2.5M346.5 58v3M346.5 64v2M346.5 67.5v0.5M347 50.5v3M347 57v0M347 61.5v3.5M347 67v0.5M347 69.5v0M347 71v0M347 73.5v0M347 75.5v0.5M347 80v0M347 83v0M347 85.5v5M347 92v4M347 98v1.5M347 101v0M347.5 63.5v0M347.5 65.5v0M347.5 68.5v5M347.5 75v2.5M347.5 79v0.5M347.5 81v4M347.5 87v0M347.5 88.5v1M347.5 91.5v0M347.5 95v0M348 59v0M348 60.5v0M348 63.5v4.5M348 69.5v0M348 71.5v0M348 73v13M348 93.5v0M348.5 64.5v0M348.5 68v4M348.5 73.5v4.5M348.5 79.5v6M348.5 89.5v0M349 48.5v0M349 50.5v0M349 52v0M349 53.5v3M349 58v4.5M349 65v0.5M349 67v1M349 70v2.5M349 74v0M349 77v0M349 78.5v1M349.5 68.5v0M349.5 71.5v0M349.5 74v3.5M349.5 79v8M349.5 90.5v3M349.5 95v0M350 64v0M350 65.5v0M350 67v0M350 70.5v1M350 73.5v2M350 80.5v1.5M350 83.5v3M350 88v1M350 91.5v7.5M350.5 66.5v0M350.5 68v3M350.5 72.5v1.5M350.5 75.5v0M350.5 77v3M350.5 83v0M350.5 109.5v9.5M351 115v2.5M351 119.5v0M351.5 103.5v0M351.5 106v10.5M351.5 118v0M352 101v0M352 103.5v10.5M352 115.5v2.5M352.5 104.5v0.5M352.5 106.5v13M353 105v0M353 106.5v13M353.5 104v0M353.5 105.5v0.5M353.5 107.5v1.5M353.5 110.5v8M354 94.5v7.5M354 103.5v5.5M354 113v0M354.5 102.5v0M354.5 104v10.5M354.5 116v3.5M355 94v11.5M355 108v0M355.5 101v0M355.5 103v8M355.5 112.5v0.5M355.5 114.5v4.5M356 102.5v0M356 104v7M356 112.5v1.5M356 116v1M356 118.5v0M356.5 98.5v11.5M357 100.5v0M357 103v9M357 113.5v0M357.5 107v10.5M358 106v12M358 119.5v0M358.5 99.5v0M358.5 102v0M358.5 103.5v9M359 101.5v0M359 103.5v9M359 114v0.5M359.5 97.5v9M359.5 108.5v4.5M360 100v0M360 101.5v0M360 103v9.5M360.5 103v0M360.5 104.5v7.5M360.5 113.5v2M361 109v7M361 117.5v0M361 119.5v0M361.5 103.5v0M361.5 107.5v3M361.5 112.5v7M362 101.5v11M362 115v0M362.5 104.5v0M362.5 107v1M362.5 109.5v7.5M362.5 119.5v0M363 94v0M363 95.5v5.5M363 104v2.5M363 109v8.5M363.5 107v0M363.5 109v9.5M364 26v0M364 28v0M364 30.5v1M364 33v0.5M364 35.5v0M364 37v1.5M364 40v1.5M364 45v2.5M364 49v0M364 54v0M364 56v0M364 59v2M364 62.5v0M364 68v0.5M364 72.5v0.5M364 78v0M364 83.5v0M364 86.5v0M364 109v0M364 111.5v0M364 115.5v0M364 117v0M364.5 26v0M364.5 29.5v4.5M364.5 35.5v0.5M364.5 37.5v1M364.5 40v2M364.5 43.5v5M364.5 52.5v2M365 32v0M365 34v0M365 39.5v1.5M365 43.5v0.5M365 46v2.5M365 50v1M365 54.5v0M365 56v0M365 59.5v0M365 61v0M365 64v0M365 67.5v5M365 74v0.5M365 76v0M365 77.5v2M365 82v1M365.5 59v0M365.5 62v0M365.5 64v0M365.5 65.5v10.5M365.5 77.5v2.5M365.5 87v0M366 66v1M366 70.5v0M366 73v0.5M366 77.5v3M366 82v4.5M366 88v1M366 90.5v1.5M366 93.5v3M366.5 35v0M366.5 37v0M366.5 38.5v0M366.5 42.5v0.5M366.5 48v1.5M366.5 51v0.5M366.5 53v0M366.5 55.5v0M366.5 57v1M366.5 60v1.5M366.5 64v1.5M366.5 67v0M366.5 68.5v1M366.5 76.5v0M366.5 79.5v2M366.5 83v0M366.5 89.5v0M366.5 91v3.5M367 45.5v0M367 55v0M367 56.5v0M367 58v0M367 60v0M367 62v0M367 64v0M367 66v0.5M367 68v0M367 75.5v1M367 78v0.5M367 82v3M367 88v1M367 93.5v2.5M367.5 33v3.5M367.5 38v1M367.5 41v0.5M367.5 43.5v5.5M367.5 50.5v1M367.5 54v0.5M367.5 58v1M367.5 62.5v5M367.5 69v0.5M368 49.5v3M368 57.5v1.5M368 60.5v0M368 62v3M368 66.5v4.5M368 72.5v0.5M368.5 56.5v0M368.5 59.5v0M368.5 62.5v0.5M368.5 66v2.5M368.5 70.5v1M368.5 73v3.5M368.5 78v6.5M369 69v0M369 74v0M369 75.5v1.5M369 78.5v11.5M369 92.5v0M369 95v0M369 96.5v0M369.5 55v0M369.5 59v1M369.5 62v2.5M369.5 66v4M369.5 72v2M369.5 76.5v4.5M369.5 84v1M370 49.5v0M370 51.5v0M370 53v0M370 54.5v5M370 62.5v0.5M370 65.5v0.5M370 70v0M370 71.5v1M370 74v0M370 75.5v0.5M370 78v0M370 80v2M370 84v1M370 86.5v1.5M370 89.5v0M370 92v0M370 97v0M370.5 40.5v0M370.5 42v0M370.5 45.5v0M370.5 47v2M370.5 51v0M370.5 52.5v0.5M370.5 56v0.5M370.5 59v0M370.5 60.5v0.5M370.5 62.5v0M370.5 64v2M370.5 67.5v0M370.5 69.5v0M370.5 72.5v0M370.5 79v0M370.5 83v1M370.5 85.5v3M370.5 90v4.5M370.5 103.5v0.5M370.5 105.5v0M371 50v0M371 56v1M371 58.5v3.5M371 63.5v6M371 72v3M371 76.5v0.5M371 79v0M371 82v1M371 86v0M371.5 50.5v0M371.5 53v2M371.5 58v4.5M371.5 64v2M371.5 67.5v0M371.5 69v0M371.5 71v3.5M371.5 76.5v2M372 32v0M372 36.5v5.5M372 44v5.5M372 51v1.5M372 54v0.5M372 56v0M372 58v0M372 59.5v0M372 62v0M372.5 51.5v0M372.5 58v0M372.5 60v0M372.5 63.5v0.5M372.5 69.5v1.5M372.5 73v0M372.5 74.5v0M372.5 79v0M372.5 83.5v1.5M372.5 87.5v0M372.5 89.5v0.5M372.5 92v0M372.5 94v1.5M373 59v0.5M373 65.5v1.5M373 68.5v4M373 74v0.5M373 77.5v0M373 79.5v3M373 84.5v0M373 86v0M373 88v0.5M373 91.5v0M373 94v0M373.5 64v0M373.5 69.5v1M373.5 72.5v2M373.5 76v4.5M373.5 82v0M373.5 83.5v3M373.5 88v0M373.5 90v2M373.5 95.5v1.5M374 55v0M374 60v0.5M374 62.5v0.5M374 64.5v0M374 66.5v1M374 70v0M374 72v0.5M374 75v0.5M374 77.5v6M374 85v1.5M374 88v1.5M374 92.5v1.5M374 95.5v1.5M374.5 65v1M374.5 69.5v0M374.5 73.5v0M374.5 76.5v0.5M374.5 80v0.5M374.5 82.5v1.5M374.5 86v0.5M374.5 88v1M374.5 92v1.5M374.5 97.5v0M375 66v0.5M375 68.5v1.5M375 71.5v2.5M375 75.5v9.5M375 89.5v0M375.5 53v0M375.5 58.5v0M375.5 60.5v2.5M375.5 65.5v1M375.5 68.5v0M375.5 70v0M375.5 71.5v5M375.5 78v0.5M375.5 80.5v0.5M375.5 82.5v1.5M375.5 86.5v0M375.5 89.5v0M376 70.5v13.5M376 86v2.5M376 90.5v0.5M376 92.5v2M376 97.5v0M376.5 59v0M376.5 60.5v0M376.5 62v6M376.5 69.5v3.5M376.5 76.5v0M376.5 78.5v0M376.5 81v0M376.5 83.5v0M376.5 85.5v0M376.5 87v1.5M376.5 90v0M376.5 91.5v5M376.5 100v0M377 61.5v0M377 64.5v0M377 66v0M377 67.5v1.5M377 70.5v18M377 90v0M377 91.5v0M377.5 64v1M377.5 67v1M377.5 69.5v1M377.5 72.5v3M377.5 77.5v11.5M377.5 90.5v0M377.5 92v0.5M378 67v0M378 70v3M378 74.5v10M378 86.5v0M378 91v1M378 93.5v0.5M378.5 61v4M378.5 66.5v0M378.5 68v1.5M378.5 71v0.5M378.5 73.5v6M378.5 81v0M378.5 82.5v5M378.5 90v0.5M379 55.5v0M379 61.5v2M379 65v2.5M379 72v1M379 74.5v1M379 77v1.5M379 82v0M379 83.5v0M379 85v7M379 93.5v0M379 95v0M379 97.5v0M379.5 76v0M379.5 78v0.5M379.5 82v3M379.5 87v1.5M379.5 90.5v12M380 56v0M380 63v4M380 68.5v9.5M380 79.5v0M380 93v0M380.5 53v0M380.5 57v1M380.5 60.5v0.5M380.5 63v15.5M380.5 80v0M380.5 81.5v0M381 52v0M381 57.5v0M381 60v5.5M381 67v1.5M381 71v0M381 72.5v2.5M381 77.5v2.5M381 81.5v6M381 89v1M381.5 62v0M381.5 64v5M381.5 70.5v9M381.5 84.5v0.5M382 12v0M382 14v0M382 16.5v0M382 22v0M382 24v1.5M382 27v1M382 30v1M382 32.5v0M382 34v1.5M382 37v0.5M382 39v0.5M382 41v0M382 43.5v1M382 51v0M382 57v0M382 61.5v1M382 64v0M382 69v2M382 72.5v0M382 76.5v0M382.5 40v0M382.5 46.5v0M382.5 49.5v0M382.5 55v0M382.5 58v6.5M382.5 66v4.5M382.5 72.5v0.5M382.5 74.5v1M382.5 83.5v0M383 55v0M383 57.5v0M383 60v0.5M383 62v2.5M383 66v8M383 75.5v2M383 79.5v0.5M383.5 50v0.5M383.5 52.5v0M383.5 54v1M383.5 57.5v7M383.5 66v6.5M383.5 74v1M383.5 76.5v0M384 52v0M384 59.5v0.5M384 62.5v1M384 66.5v3M384 71v1M384 74.5v3.5M384 80v9.5M384 91v0.5M384.5 54.5v1M384.5 57.5v0M384.5 64.5v0M384.5 66v1M384.5 68.5v0M384.5 72.5v2.5M384.5 76.5v5M384.5 83v0.5M384.5 85v1M384.5 87.5v2.5M384.5 91.5v0M384.5 93v0M384.5 94.5v0M385 33v0M385 35.5v1M385 38.5v9.5M385 50v4M385 55.5v0M385 57.5v0M385 59v0M385 65.5v0M385 74v0M385.5 41v0M385.5 47v0M385.5 48.5v0M385.5 50v1M385.5 53v0M385.5 56.5v1M385.5 63v1M385.5 65.5v0M385.5 69v3.5M385.5 75v1M385.5 78v5.5M385.5 87v0M385.5 88.5v0M385.5 92v1M386 69v0M386 74v0M386 75.5v0.5M386 77.5v1.5M386 81.5v2M386 85.5v0M386 87.5v1M386 90v4.5M386 96v2.5M386 100v2.5M386.5 6v1M386.5 9v0M386.5 11.5v0M386.5 13v4.5M386.5 20v2M386.5 23.5v1.5M386.5 26.5v2M386.5 31v0M386.5 33.5v0M386.5 35v1M386.5 39.5v0M386.5 72.5v0.5M386.5 75v0.5M386.5 77v1M386.5 79.5v1M387 22v2M387 28v5M387 36.5v2.5M387 41v0M387 45v0M387 46.5v0M387 48v1M387 51.5v1.5M387 57v0M387 59.5v0M387 69.5v0M387 73.5v0M387 75v0M387 78.5v0M387 80.5v0.5M387 83v0M387 85v0M387 86.5v0.5M387 90v2.5M387.5 51v0M387.5 54v1M387.5 57v0.5M387.5 59.5v2M387.5 63v3M387.5 67.5v0M387.5 69.5v0M387.5 72v1M387.5 74.5v1.5M387.5 78.5v0M387.5 82.5v0M387.5 84v0M387.5 90.5v0M387.5 95.5v0M387.5 97v0M387.5 99.5v3M388 98.5v10.5M388.5 97v11.5M388.5 110v2M389 96.5v8.5M389 108.5v0M389.5 100v9.5M390 97v9M390.5 95v7M390.5 104.5v3M390.5 109.5v1M391 102.5v0M391 104v5.5M391 111v0.5M391 113v0M391.5 105.5v8.5M392 96.5v1M392 99v5M392 105.5v1M392 108v4M392.5 100.5v0M392.5 102v10M393 102.5v8M393.5 59v0M393.5 60.5v0M393.5 64.5v0M393.5 67v1M393.5 69.5v2.5M393.5 76.5v0M393.5 79v0M393.5 100.5v0M393.5 102.5v4.5M393.5 109v0M394 58.5v1.5M394 62v0M394 64v3M394 68.5v10.5M394 81.5v0M394 83v0M394 86.5v0M394 88v0M394.5 58v1M394.5 62.5v0M394.5 65v2.5M394.5 70v5.5M394.5 77v3M394.5 81.5v1M394.5 102v0M394.5 103.5v3.5M395 98.5v7M395.5 93.5v0M395.5 96v0.5M395.5 99v9M396 14v0M396 16.5v0M396 18.5v2M396 23.5v1M396 30.5v0.5M396 32.5v0M396 35v0M396 37v0M396 40v0M396 44v0M396 46v0M396 49.5v0M396 55v1M396 59.5v0M396 63v0M396 64.5v0M396 67v0M396 71v0M396 73v0.5M396 75.5v0M396 80v2.5M396 86.5v1.5M396 90v0M396 93v1M396 98v0M396.5 97v1M396.5 100v6.5M397 61v1M397 64v0M397 65.5v4.5M397 71.5v9M397 83v0.5M397 85v0M397 88v0M397 102.5v0M397 105v1.5M397.5 68.5v0M397.5 70.5v0M397.5 72.5v2.5M397.5 76.5v2M397.5 80v4M397.5 86.5v4M397.5 93v0M397.5 99v0M398 36v0M398 38.5v2M398 43v4.5M398 49v1M398 51.5v0.5M398 53.5v0M398 56.5v2.5M398 62v0M398 64.5v2.5M398 71.5v1.5M398 74.5v0M398 76v1M398 79v2M398 82.5v0M398 84.5v0M398 90.5v0M398 92.5v0M398.5 31v0.5M398.5 33.5v0M398.5 35v0M398.5 37.5v0M398.5 40.5v3M398.5 46v0M398.5 47.5v0.5M398.5 50v0.5M398.5 52v0M398.5 56.5v1.5M398.5 65v1M398.5 67.5v0M398.5 77v1M398.5 81v1M398.5 83.5v0M398.5 85v2M398.5 90.5v1M398.5 93v1M398.5 96.5v0M398.5 100v0M399 40v0M399 46.5v0M399 48v1.5M399 51v5M399 58.5v1M399 61.5v1M399 64v5.5M399 71v0M399 73v0M399 76v0M399.5 25v0M399.5 34.5v0M399.5 37v1M399.5 41v0.5M399.5 43v6.5M399.5 52v0.5M399.5 54v5.5M399.5 61v2M399.5 66v1M400 31v0M400 32.5v0M400 34.5v0M400 37v0M400 38.5v1.5M400 41.5v1M400 45v1.5M400 48v0M400 49.5v1.5M400 52.5v0M400 55v0M400 56.5v0M400 58v1M400 60.5v0.5M400 62.5v6M400 71v1M400 74v0M400.5 36.5v0.5M400.5 40.5v0.5M400.5 49.5v1.5M400.5 52.5v0M400.5 56v1M400.5 59v0M400.5 62.5v1M400.5 65v0.5M400.5 67v0.5M400.5 69v0M400.5 74v1M400.5 77v1.5M400.5 80.5v0M400.5 83.5v3M400.5 88.5v1.5M400.5 93v1M400.5 96.5v0M401 40v0M401 42.5v0M401 47.5v0.5M401 54v2.5M401 58v0M401 59.5v1.5M401 62.5v0.5M401 64.5v2M401 69.5v1M401 75v0M401 78v3.5M401 84v1M401 87v2M401 92.5v1.5M401 97.5v0M401.5 37.5v0.5M401.5 39.5v0.5M401.5 41.5v0M401.5 43.5v9M401.5 54v5M401.5 60.5v0.5M401.5 62.5v1M401.5 70v0.5M402 65.5v0.5M402 67.5v0M402 69v0M402 70.5v1M402 73v0M402 74.5v1.5M402 77.5v7M402 88.5v0.5M402 90.5v0M402 94.5v3M402.5 41.5v1M402.5 45v1.5M402.5 48v1.5M402.5 51.5v4.5M402.5 57.5v8M402.5 68.5v0M402.5 72v1M402.5 80.5v0.5M402.5 83.5v2.5M402.5 94v0M402.5 97.5v0M403 58v0M403 59.5v0.5M403 61.5v1.5M403 64.5v3M403 69.5v0M403 71v5.5M403 78v1M403 80.5v2.5M403 84.5v0.5M403 87v1M403.5 57v0M403.5 58.5v0M403.5 60v7M403.5 68.5v3.5M403.5 73.5v3.5M403.5 79.5v1.5M403.5 82.5v0M403.5 84.5v0M403.5 88v0M404 17v0M404 22.5v0M404 24v0.5M404 26.5v0.5M404 29v0M404 30.5v2.5M404 37v0M404 39v4M404 47.5v2.5M404 52v0.5M404 54v0.5M404 56v0.5M404 59v0M404 63v0M404 65.5v1M404 71v0M404.5 41v0M404.5 51.5v0.5M404.5 55v7M404.5 63.5v3.5M404.5 68.5v2.5M404.5 74.5v3M404.5 88v0M405 57.5v0M405 59v0.5M405 62v0M405 64.5v2M405 69v2.5M405 73v6.5M405 81.5v6M405 93v0.5M405.5 48v0M405.5 53.5v0M405.5 55v0M405.5 56.5v2.5M405.5 60.5v0M405.5 63v10.5M405.5 75.5v1M405.5 80.5v0M406 58.5v0M406 62.5v9M406 73v3M406 77.5v2.5M406 81.5v1M406 85.5v0.5M406.5 32.5v1.5M406.5 36.5v5.5M406.5 43.5v1M406.5 46v0M406.5 47.5v0.5M406.5 50v1.5M406.5 53v0M406.5 54.5v3.5M406.5 61v0M406.5 67.5v0.5M406.5 69.5v0M406.5 71.5v0M407 59.5v0M407 63v1M407 66.5v0M407 68.5v1.5M407 72.5v1.5M407 75.5v0M407 77v4M407 82.5v5M407 90v0M407 91.5v2M407 98v0M407.5 38v0M407.5 43.5v4M407.5 49v0M407.5 51v1.5M407.5 54.5v5.5M407.5 61.5v2M407.5 65v0.5M407.5 67v0M407.5 70v4M407.5 81.5v0M408 46v0M408 53v0M408 57v0M408 58.5v0M408 60v2.5M408 64v3M408 69v1M408 71.5v1.5M408 74.5v0M408 76.5v2M408 80v2M408 85v0.5M408.5 43v0M408.5 46v0.5M408.5 48v0.5M408.5 50.5v0M408.5 52v0M408.5 54v3M408.5 59.5v2.5M408.5 63.5v6.5M408.5 72.5v0M408.5 78v0M408.5 79.5v0M409 30v0M409 38v3M409 42.5v0.5M409 44.5v8M409 54v2.5M409 58v1.5M409 61v0.5M409 65v0M409 68v0M409.5 56.5v1M409.5 62v0M409.5 64v0M409.5 65.5v3.5M409.5 70.5v1.5M409.5 74.5v0M409.5 76v0M409.5 80v0M409.5 82v0M409.5 85v0M409.5 87v1M409.5 89.5v0M409.5 91v6.5M410 11v0M410 17v0M410 20.5v1M410 23v2M410 27.5v0M410 31.5v0M410 33.5v1.5M410 37v1M410 39.5v2M410 44v2M410 48v0M410 50.5v0.5M410 53v0M410 59v1.5M410 65v0M410 77.5v2M410 83.5v0M410 90.5v0M410.5 50.5v0M410.5 54v0M410.5 56v0M410.5 58v0M410.5 60v5M410.5 66.5v0M410.5 68v1.5M410.5 72.5v5M410.5 79.5v2M410.5 83v0M410.5 86v0M411 48.5v2M411 52v3.5M411 57v4M411 62.5v0M411 64v6M411 72.5v0M411 74v0.5M411 76.5v0M411.5 71.5v1M411.5 77v1M411.5 85.5v2M411.5 90.5v0.5M411.5 92.5v0M411.5 94v0.5M412 63.5v1M412 68v3.5M412 73v4M412 79v1M412 81.5v0M412 84v0M412 87.5v0.5M412 91v0M412 94v0M412.5 42v0M412.5 47.5v0M412.5 49.5v0M412.5 52v0M412.5 54v1M412.5 56.5v0M412.5 58.5v10.5M412.5 71v2.5M413 27.5v0M413 33.5v0M413 35.5v0M413 38.5v0M413 41v0.5M413 43v1M413 45.5v0M413 47v1M413 49.5v1M413 53.5v2.5M413 58v1M413 60.5v2.5M413 65.5v2.5M413 70v0M413 71.5v0M413 74.5v0M413.5 40v0M413.5 42.5v0M413.5 44.5v0.5M413.5 46.5v1.5M413.5 52v0.5M413.5 54v1M413.5 56.5v0.5M413.5 61.5v2M413.5 65v2.5M413.5 69v2M413.5 75.5v0M413.5 77v1M414 57v0M414 60.5v0M414 62v1M414 65v1.5M414 68v0M414 69.5v9M414 80v2M414 84.5v0M414.5 36v0M414.5 40.5v1M414.5 44v4.5M414.5 50v0.5M414.5 52v0.5M414.5 55.5v0.5M414.5 58v0.5M414.5 60.5v0.5M414.5 65.5v0.5M414.5 71v0M414.5 72.5v1M414.5 75v0M414.5 76.5v0M414.5 78v0M415 22.5v0M415 30.5v1M415 35v0M415 37v0M415 39v0M415 41v0M415 43v0M415 45.5v0M415 48.5v0M415 50v0M415 52v1.5M415 55v0M415 57v1.5M415 60v0M415 61.5v1M415 65v2M415 69.5v0M415 71.5v2M415 75v3.5M415 81.5v0.5M415.5 18v0M415.5 25v0M415.5 28v0.5M415.5 30.5v0.5M415.5 32.5v0M415.5 36.5v0M415.5 38v3M415.5 44v0M415.5 45.5v1M415.5 48.5v0.5M415.5 51v2.5M415.5 56.5v0.5M415.5 59.5v3M415.5 64v1M415.5 67.5v1M415.5 70v0M416 29.5v1.5M416 34.5v0.5M416 36.5v0M416 39v3.5M416 45.5v1.5M416 48.5v0.5M416 50.5v4.5M416 57.5v0M416 59v1M416 62.5v0M416.5 48v0M416.5 53.5v3M416.5 58v0M416.5 60v7M416.5 69v3.5M416.5 74v0M416.5 76v0M417 43.5v0M417 45v1M417 48.5v12.5M417 62.5v1M417 65v0M417 67v0M417.5 62v1M417.5 67v2.5M417.5 72v0.5M417.5 74v3M417.5 78.5v0.5M417.5 80.5v7M417.5 89v1.5M418 25v1M418 32v0M418 34.5v5.5M418 42.5v0M418 45v0M418 47v5M418 54.5v0M418 56v0.5M418 58v0M418 59.5v5M418 67v0M418 69v3M418 75v0.5M418 79.5v1M418.5 30v0M418.5 37.5v0M418.5 39v0M418.5 40.5v3M418.5 45v1.5M418.5 48v2.5M418.5 52v5M418.5 59v0M418.5 60.5v1.5M418.5 65.5v4M418.5 72.5v0M418.5 78.5v0M418.5 85v0M419 56.5v2M419 60.5v1M419 63v14.5M419 79v2.5M419.5 55.5v0M419.5 60.5v0M419.5 62v1.5M419.5 65v2M419.5 68.5v2M419.5 72v3M419.5 76.5v2M419.5 80.5v1.5M419.5 89.5v0M419.5 91.5v0M420 39.5v1M420 43.5v0.5M420 47v0M420 49v0M420 53v0M420 58.5v2M420 62v0M420 63.5v4.5M420 69.5v0.5M420 71.5v0M420 73.5v0M420 75.5v1.5M420 79v1.5M420 82v0M420 84v0M420 87v2.5M420.5 46v0.5M420.5 48.5v0M420.5 51.5v2.5M420.5 56v1M420.5 59v0M420.5 62v2M420.5 66v1M420.5 69v4.5M420.5 76v1.5M420.5 79v1M420.5 81.5v0.5M421 32v0M421 35.5v0M421 38v0M421 43.5v0M421 48.5v0M421 50.5v12M421 64v4M421 69.5v0M421 71.5v0M421.5 25v0M421.5 28v0M421.5 31v3.5M421.5 37v10.5M421.5 49v0.5M421.5 52.5v0M422 34.5v0M422 38.5v2M422 43v0M422 44.5v1M422 47.5v0M422 49.5v0.5M422 51.5v2M422 56v2M422 60v0M422 63v1M422 67.5v1.5M422 70.5v1M422 73v0.5M422 75.5v0M422 78v1.5M422 84v0.5M422.5 18.5v0.5M422.5 20.5v0M422.5 23v2.5M422.5 27.5v3M422.5 32.5v0M422.5 34.5v2.5M422.5 40.5v1M422.5 43.5v0M422.5 51.5v0M422.5 54v1M422.5 63v0.5M422.5 65.5v0M422.5 67v0M422.5 70.5v1M422.5 73.5v0M422.5 79.5v0M422.5 81.5v0M423 20.5v0M423 23v0M423 25.5v0M423 27.5v0M423 29v0M423 31v1M423 33.5v1M423 36v0.5M423 38v0M423 39.5v0M423 41.5v0M423 43v0M423 44.5v0.5M423 47v1M423 50v0M423 52.5v0M423 54v0M423 55.5v0M423 58v2M423 61.5v0M423 67.5v0M423 70v0M423 81v1M423.5 43v0M423.5 45v1.5M423.5 48v0M423.5 50v1.5M423.5 53v7.5M423.5 62v0.5M423.5 64v1.5M423.5 67v0M423.5 69.5v0M423.5 71v0M423.5 73.5v0M424 49.5v1M424 52v0M424 54.5v2.5M424 58.5v5M424 65v0M424 66.5v5M424 73.5v1.5M424.5 52.5v3.5M424.5 58.5v1.5M424.5 62.5v0M424.5 64v0M424.5 66.5v3.5M424.5 71.5v0M424.5 73v0.5M424.5 75.5v0.5M424.5 80v1M424.5 83v1M424.5 85.5v0M424.5 87.5v0M424.5 89.5v1M425 60.5v0M425 62v1M425 64.5v2M425 68v0.5M425 72v4M425 83.5v0M425 85v4M425 91v1M425.5 40.5v0M425.5 49v2M425.5 52.5v0.5M425.5 55.5v3.5M425.5 63v2.5M425.5 71.5v1M425.5 77.5v0.5M425.5 80v0.5M425.5 82.5v5M425.5 89v0M425.5 92.5v0M426 36v0M426 39.5v0M426 41v2M426 45.5v3.5M426 50.5v0M426 52.5v8.5M426 64v0.5M426 66v0M426 68.5v0M426.5 19.5v1.5M426.5 27v2M426.5 31.5v5.5M426.5 43.5v2.5M426.5 48.5v2M426.5 52v0M426.5 53.5v1M426.5 58v0M426.5 61.5v0M426.5 65v1M426.5 70v0M426.5 73.5v0M427 39.5v0M427 45v1M427 47.5v0M427 50.5v3M427 61.5v1M427 64v3.5M427 69.5v5.5M427 76.5v2.5M427 81.5v1M427 84v2.5M427 89v1M427.5 6v0M427.5 12v0M427.5 14v0.5M427.5 16.5v8M427.5 26v3M427.5 30.5v0M427.5 34v3.5M427.5 39v0.5M427.5 46.5v0.5M427.5 48.5v0M428 16v2M428 21.5v0M428 23.5v1.5M428 26.5v2.5M428 31v4.5M428 37.5v0M428 39.5v1M428 42.5v0M428 44v0M428 46v0M428 47.5v0M428 50v0M428 52.5v0M428.5 43.5v0M428.5 45.5v0M428.5 50.5v0M428.5 53v1M428.5 57v1.5M428.5 60v0M428.5 61.5v0M428.5 64v3M428.5 68.5v1.5M428.5 71.5v1.5M428.5 75v0.5M428.5 77v3M428.5 81.5v0M428.5 84v0.5M428.5 87v0M428.5 92v0M429 42.5v0M429 44v1M429 47.5v5.5M429 55.5v0M429 57.5v1M429 61.5v0M429 63.5v0M429 66v1M429 70.5v1M429 73v0M429 75.5v0M429 78v0M429 80.5v1M429 83.5v0M429 85v0M429 86.5v0.5M429 97.5v0M429.5 44.5v0M429.5 49v0.5M429.5 54v4M429.5 60.5v1M429.5 63v3M429.5 67.5v0M429.5 69.5v5M429.5 77.5v0M429.5 79.5v0.5M429.5 83v0.5M429.5 85v0M430 24.5v0M430 32.5v1M430 35v0M430 37v3M430 43v1M430 45.5v0.5M430 48.5v1M430 51v0M430 54v0M430 55.5v0M430 57.5v1.5M430 62v0M430 64v1M430 67v0.5M430 69.5v0M430 72v1M430 74.5v1M430.5 7v0M430.5 10.5v0.5M430.5 14.5v1M430.5 18.5v0.5M430.5 20.5v0M430.5 22.5v1.5M430.5 25.5v0M430.5 27v1.5M430.5 30v1M430.5 33.5v2M430.5 38v0M430.5 40v0.5M430.5 42v0.5M430.5 44.5v0M430.5 47.5v3M430.5 53v1M430.5 56v1M430.5 59v0M431 50v0M431 55.5v0.5M431 57.5v1M431 60v3M431 64.5v8.5M431 74.5v1M431.5 48v0M431.5 49.5v1M431.5 52v5M431.5 59v5.5M431.5 66v2M431.5 70v0M432 52.5v0M432 54.5v1M432 57.5v0M432 60.5v0M432 63v2.5M432 68v0M432 71v1M432 75.5v1M432 82v1.5M432 85.5v0M432 88.5v0.5M432 90.5v1M432 93.5v0.5M432 95.5v4M432 103v3.5M432.5 89v0M432.5 92v0M432.5 94v0M432.5 99v0.5M432.5 101v3.5M432.5 106v6M433 53.5v4.5M433 60v0M433 61.5v3M433 67.5v1M433 70.5v0.5M433 74.5v0M433 77v0M433 78.5v0M433 80v1M433 83.5v0.5M433 85.5v0M433 87v0M433 88.5v1M433 91.5v0M433 93v3M433 98v0.5M433.5 42v0.5M433.5 47v0M433.5 48.5v1.5M433.5 52.5v8M433.5 62.5v0.5M433.5 64.5v1M433.5 71.5v0M433.5 74.5v0M434 46v0M434 47.5v0M434 52.5v0M434 54v3.5M434 59.5v10.5M434 72v1M434 78v0M434.5 53v0M434.5 58v2M434.5 61.5v11M434.5 74v1M434.5 78.5v1.5M434.5 87v0M435 66.5v0M435 70.5v0M435 72v0.5M435 74v6M435 81.5v6.5M435 89.5v0.5M435.5 14v0M435.5 19v0M435.5 21.5v0.5M435.5 25v1.5M435.5 28.5v6M435.5 36v1M435.5 38.5v0M435.5 40v1.5M435.5 44v1M435.5 47v0M435.5 48.5v0M435.5 50.5v1.5M435.5 55v0M435.5 57.5v0.5M435.5 63.5v1.5M435.5 67.5v0M436 42.5v0.5M436 46v0M436 49.5v10.5M436 61.5v0.5M436 63.5v1M436 67v0.5M436 73v0M436.5 40v0M436.5 42.5v3.5M436.5 48.5v8M436.5 58v5M436.5 68v0M436.5 72v0M437 42.5v0M437 47.5v0M437 50.5v1.5M437 53.5v7M437 62.5v9.5M437 73.5v0M437.5 55v0M437.5 57.5v0M437.5 59v0M437.5 60.5v0M437.5 62.5v9.5M437.5 73.5v3.5M437.5 79v0.5M437.5 81v2M438 55v0M438 59v0M438 64.5v0M438 67v2.5M438 71.5v0M438 73v8.5M438 83.5v1M438 86.5v0.5M438 89v0M438.5 41v0M438.5 49v0M438.5 51v0.5M438.5 54.5v2M438.5 59.5v0M438.5 61.5v2M438.5 65v0M438.5 66.5v0M438.5 69v0M438.5 71v6M438.5 79v1.5M438.5 87.5v0M439 48v0.5M439 50v1M439 54.5v5.5M439 62v2M439 65.5v0M439 67v1.5M439 70v2.5M439 80.5v1.5M439 83.5v0.5M439 85.5v0M439 88v0M439 90v0M439.5 28v0M439.5 36v0M439.5 41.5v0M439.5 43v3M439.5 48v0M439.5 50.5v2.5M439.5 54.5v0M439.5 56v0.5M439.5 59v2.5M439.5 63.5v1M439.5 66.5v0.5M439.5 69v0M439.5 71v1M439.5 74.5v2M439.5 78v1.5M439.5 81v1M439.5 85.5v1.5M439.5 90v0M440 19v0M440 22.5v0M440 24v4.5M440 30.5v0M440 32v0M440 35v0.5M440 38v0M440 40.5v0.5M440 43v0M440 46v0M440 49v0.5M440 53.5v1M440 57.5v0M440 60v1.5M440 63v1M440 66v0.5M440 69v0M440.5 19v0M440.5 24v0.5M440.5 27.5v0M440.5 29.5v3M440.5 36.5v1M440.5 39v0M440.5 40.5v0.5M440.5 43v1.5M440.5 48v0M440.5 49.5v0M440.5 52.5v0M440.5 54v0M440.5 55.5v0.5M440.5 57.5v0M440.5 59.5v0M440.5 62v0.5M440.5 64v0.5M440.5 73.5v0.5M440.5 76v0M441 56.5v0M441 59v0M441 60.5v0M441 62v4M441 68v10.5M441 80v1M441 86v0M441 87.5v0M441 90v0M441 92v0M441.5 51.5v0M441.5 54.5v2M441.5 58v13.5M441.5 74v0M442 49v0M442 50.5v0M442 54v1M442 64.5v1M442 68.5v2M442 72v2.5M442 76v3M442 81v5M442 87.5v1M442 90.5v0M442.5 37.5v0M442.5 50.5v0.5M442.5 52.5v6.5M442.5 60.5v4M442.5 66v1M442.5 68.5v0.5M442.5 72v1M442.5 77v0M443 38.5v0M443 45.5v0M443 47v0M443 49v2M443 52.5v1M443 55v1M443 57.5v2.5M443 61.5v2M443 65v3M443 69.5v1M443 73.5v0M443 78v0M443.5 31.5v0M443.5 34v7M443.5 42.5v3.5M443.5 47.5v3.5M443.5 53v2.5M443.5 60v0M444 40.5v0M444 48.5v1M444 51.5v3M444 56v4.5M444 62v4M444 67.5v4M444 73.5v0.5M444 76v0M444 79v0M444 80.5v0M444.5 60.5v0M444.5 62v3M444.5 67.5v2M444.5 71v6M444.5 78.5v1M444.5 81v3.5M444.5 86v5M444.5 93.5v0M445 65v2M445 68.5v2M445 73v16M445 91v0.5M445.5 51v0M445.5 54v0M445.5 58v0M445.5 61v6M445.5 69v1M445.5 71.5v5M445.5 78.5v2M445.5 82v1M446 33v0M446 38.5v0M446 43v5M446 50.5v1.5M446 54v1.5M446 57v0M446 59.5v0M446 61v7.5M446 70v1.5M446 77.5v0M446.5 35v0M446.5 50.5v0M446.5 53.5v1.5M446.5 59v1.5M446.5 66v1M446.5 68.5v0M446.5 70.5v0M446.5 72v0M446.5 73.5v0M446.5 75v1.5M446.5 79.5v1M446.5 82v0M446.5 85v0M446.5 88v1M446.5 90.5v0.5M446.5 94v0M446.5 97.5v0M446.5 99.5v0M447 46v0M447 47.5v1M447 50v0M447 52.5v0.5M447 54.5v3M447 60.5v0.5M447 63v0M447 64.5v0M447 67v2.5M447 71.5v3M447 78v4.5M447 84v0.5M447 88v0M447 90.5v0M447 94v0M447.5 23v0M447.5 24.5v0.5M447.5 26.5v0M447.5 28v0.5M447.5 30.5v0M447.5 32.5v13M447.5 47v1M447.5 50.5v1M447.5 54v1M447.5 57.5v0M448 21v0M448 26.5v2M448 30.5v0M448 32v5.5M448 39v0.5M448 41.5v3M448 46.5v0.5M448 49v1M448 51.5v0M448 53v0.5M448 57.5v0M448 61.5v0M448 68v0.5M448 70v0M448.5 47v0M448.5 64v0M448.5 65.5v0M448.5 67v2M448.5 71v3M448.5 76.5v3.5M448.5 82v1M448.5 85v2M448.5 88.5v1.5M448.5 92.5v0M448.5 94v0M448.5 97.5v0M449 44.5v0M449 47v1M449 51.5v0.5M449 56v0.5M449 58.5v0.5M449 61v10M449 72.5v1M449 75v2M449 80.5v0M449.5 26.5v0M449.5 31v1.5M449.5 35v0.5M449.5 38v2M449.5 41.5v0M449.5 43v0M449.5 44.5v0.5M449.5 48v0.5M449.5 50v0M449.5 51.5v1M449.5 55v0M449.5 58.5v1M449.5 61.5v0.5M449.5 63.5v0M449.5 65.5v2M449.5 70v1M449.5 72.5v0M449.5 74.5v0M449.5 76v1M449.5 78.5v1M449.5 84v0M449.5 100v0M450 34v0M450 35.5v0M450 42.5v2.5M450 48v2M450 51.5v0.5M450 53.5v0M450 56.5v0.5M450 59.5v1M450 64v0M450 67v2M450 70.5v0.5M450 73.5v0M450 81.5v0.5M450 84v1M450 86.5v0M450 88v5M450 96v0M450.5 45v0M450.5 53v1.5M450.5 56.5v0M450.5 58.5v1.5M450.5 65.5v1M450.5 68v6M450.5 75.5v2.5M450.5 79.5v2.5M450.5 83.5v1.5M450.5 87.5v0M450.5 95v0M451 58.5v0M451 64v1M451 66.5v0M451 68v16.5M451 86v0M451 87.5v0M451.5 62.5v0M451.5 65v0M451.5 68v0M451.5 70v14M451.5 89.5v0M452 57v0M452 61v0.5M452 63v3M452 69v2M452 73v0M452 74.5v1.5M452 78v0M452 81v2.5M452 85v0.5M452 90v0M452 93v0M452 96.5v0M452 98v0.5M452 101.5v0M452.5 66.5v0M452.5 74.5v2.5M452.5 78.5v3.5M452.5 83.5v1M452.5 87v8.5M452.5 97.5v4.5M453 37v0M453 39.5v0M453 41v3M453 45.5v0M453 47v0.5M453 49.5v0.5M453 51.5v1M453 54v0M453 56v0.5M453 58.5v1M453 63v5.5M453 70v0.5M453 72.5v0M453 75.5v0M453 78.5v0M453.5 37v0M453.5 40.5v0M453.5 43.5v0M453.5 46.5v0M453.5 54v1.5M453.5 59.5v0M453.5 62.5v1M453.5 65.5v0M453.5 69v0M453.5 70.5v0M453.5 73.5v0M453.5 75.5v1.5M453.5 78.5v0M453.5 80v0M453.5 83v0M453.5 90v0M453.5 94v2M453.5 98v1M453.5 102.5v0.5M454 37v0M454 40v0M454 43v0M454 45v0.5M454 52v1.5M454 57.5v0M454 59v4M454 66v0M454 67.5v0.5M454 70v0M454 71.5v1.5M454 74.5v2M454.5 61v0M454.5 65v0M454.5 67v2M454.5 70.5v6M454.5 78v6.5M454.5 86v0M454.5 87.5v0M454.5 90v0M455 47.5v0M455 49v0.5M455 52v1.5M455 56v1M455 58.5v0M455 61v5M455 68v5.5M455 75.5v1.5M455 78.5v1M455 81v0M455 82.5v1M455 86.5v0M455.5 59v0M455.5 64v1.5M455.5 67.5v1.5M455.5 71v0.5M455.5 73v5M455.5 80v3.5M455.5 86v4M456 60.5v0M456 65.5v0.5M456 67.5v0M456 70v1M456 74v6.5M456 82.5v1.5M456 85.5v3.5M456 95.5v0M456.5 55.5v0M456.5 62.5v2.5M456.5 67v7M456.5 75.5v6M456.5 83.5v1M457 65v0M457 67.5v1M457 71v9.5M457 82v2M457 86.5v1M457.5 52v0M457.5 57v1M457.5 59.5v0M457.5 61.5v0M457.5 63v8.5M457.5 73.5v1.5M457.5 76.5v0M457.5 82.5v0M458 51.5v0M458 54v0M458 56.5v3M458 61v10.5M458 76.5v0M458 80v0M458.5 50v1M458.5 53.5v12.5M458.5 68v1M459 30.5v0M459 37v0M459 39.5v0M459 42v0M459 43.5v0M459 45v0M459 46.5v19.5M459.5 50v1M459.5 53v0.5M459.5 56.5v0M459.5 59.5v4.5M459.5 65.5v2M459.5 69v4M459.5 75v1.5M459.5 79.5v1M459.5 82.5v1M459.5 87v0M460 61v1M460 64v0.5M460 66.5v0M460 68v1M460 70.5v5M460 77v6M460 88v2.5M460 94v0M460.5 62v0M460.5 64v0M460.5 66.5v8.5M460.5 76.5v4M460.5 85v0M461 54.5v1M461 58v1M461 61.5v10.5M461 73.5v0M461 75v1.5M461 78v1M461 85v0M461.5 43.5v0.5M461.5 45.5v2M461.5 49v13M461.5 64v1.5M461.5 68v1M461.5 71.5v1M462 52.5v2.5M462 56.5v11.5M462 69.5v0.5M462.5 46v0M462.5 48v0M462.5 50.5v0.5M462.5 56v0M462.5 59.5v2M462.5 64.5v9M462.5 75.5v1M462.5 78v4M462.5 84v0M462.5 87.5v0M463 31v0.5M463 33.5v2.5M463 46v0M463 48v0M463 49.5v0M463 51.5v0M463 53.5v0.5M463 63v0M463 66v0M463 75.5v0M463.5 37.5v0M463.5 40v0.5M463.5 43v1M463.5 45.5v0M463.5 47v0M463.5 49.5v1M463.5 53.5v0M463.5 55.5v0.5M463.5 58v0M463.5 59.5v1.5M463.5 65.5v0M463.5 67v2.5M463.5 71v0M463.5 73.5v0.5M463.5 76.5v0M463.5 78.5v0M463.5 80.5v0M463.5 84v0.5M463.5 87v1M463.5 90v1M463.5 93.5v0M464 65.5v0M464 67.5v1M464 70.5v8.5M464 80.5v6M464.5 56v0.5M464.5 58.5v2M464.5 62v1.5M464.5 65.5v1M464.5 68v1M464.5 70.5v0.5M464.5 73.5v0M464.5 76.5v0M464.5 80.5v0M464.5 83.5v0M464.5 85.5v0M464.5 88.5v0M464.5 92.5v0M464.5 94v0.5M464.5 96v0M465 12v0.5M465 15.5v2M465 19.5v0M465 21v0M465 22.5v0M465 26v0M465 28.5v1M465 32.5v1M465 37v0M465 39v0M465 43.5v0.5M465 53.5v0M465 55.5v0M465 60v0M465 62v0M465 63.5v0M465 66v0M465 72.5v0M465 75.5v0M465 78.5v0.5M465 89v0M465 91.5v1M465 95.5v0.5M465.5 28.5v0.5M465.5 36.5v0M465.5 41v1M465.5 50.5v0.5M465.5 57.5v0M465.5 60.5v0M465.5 63.5v0M465.5 65.5v0M465.5 68v0.5M465.5 71v0M465.5 75v2.5M465.5 79v0M465.5 81v0.5M465.5 83.5v0M465.5 85v0M465.5 86.5v3.5M465.5 91.5v1M465.5 95v2M466 51.5v1M466 54v7M466 62.5v5M466 69v4.5M466 75v0M466.5 49v0M466.5 58.5v0.5M466.5 60.5v0M466.5 65.5v0.5M466.5 68.5v1.5M466.5 72.5v2M466.5 76v2M466.5 80v1M466.5 83v4M466.5 89v0M466.5 93v1M467 50.5v0.5M467 58v1.5M467 61.5v1M467 64.5v11M467 78v2M467 82.5v0M467 84.5v0M467 89v0M467 92.5v0M467 94v0M467 95.5v0.5M467 98v0M467.5 30v1M467.5 32.5v2M467.5 36.5v0M467.5 38.5v1M467.5 41.5v0M467.5 49.5v0M467.5 57v0.5M467.5 63.5v0M467.5 70.5v0M467.5 73v0.5M467.5 87v0M467.5 90v0M467.5 92.5v0M467.5 94v1.5M467.5 97.5v0.5M468 49v1M468 54v0.5M468 56v2.5M468 62v0M468 64v0.5M468 66v0.5M468 68v10M468 79.5v2.5M468 83.5v0.5M468 86v3M468.5 34.5v0M468.5 36.5v0M468.5 41v3.5M468.5 46v0.5M468.5 48.5v1.5M468.5 51.5v1M468.5 54.5v5.5M468.5 61.5v0M468.5 64v0.5M468.5 66v2M468.5 74.5v0M469 50v0M469 51.5v2M469 55v0M469 56.5v6M469 64v0.5M469 66v5M469 72.5v2M469 76v0M469.5 51.5v0.5M469.5 54v0M469.5 56.5v0M469.5 58.5v0M469.5 60v8M469.5 70v0M469.5 73v1M469.5 76v3.5M469.5 82.5v0M469.5 85v0M469.5 91.5v1M469.5 100v0M470 45v0.5M470 52.5v0M470 55.5v0M470 59.5v0.5M470 64v0M470 67.5v0M470 69.5v0M470 71v0M470 74.5v1M470 81.5v0M470 83.5v0M470 87.5v0M470 89.5v1M470 93.5v0M470 96v7.5M470 105v3.5M470 112v0M470 114v0M470.5 29v0.5M470.5 32v0M470.5 33.5v2.5M470.5 37.5v0M470.5 40v0M470.5 46.5v1.5M470.5 50v0M470.5 54.5v0M470.5 56v6M470.5 65v8.5M470.5 76v0M470.5 80.5v0M471 54.5v0M471 58v0M471 60v8M471 69.5v2M471 73.5v3M471 79.5v0M471 81v2M471 87.5v0M471 89v0M471.5 69.5v2M471.5 73.5v4M471.5 79.5v7.5M471.5 89.5v0.5M471.5 92.5v2M471.5 96v0M472 63.5v1M472 66.5v0M472 68v3M472 72.5v1M472 76.5v2.5M472 81.5v0.5M472 83.5v5M472 90v5.5M472.5 46v0M472.5 47.5v0M472.5 53v14M472.5 69.5v2M472.5 79.5v0M473 25v0M473 32v0M473 33.5v0M473 36v0M473 37.5v2.5M473 41.5v1.5M473 46v0M473 50v2M473 53.5v2M473 57v0.5M473 59v1M473 61.5v2M473 66v0M473 67.5v2.5M473 74.5v0.5M473.5 52v0M473.5 54v0M473.5 56v0M473.5 60.5v1M473.5 63v0.5M473.5 67v3M473.5 71.5v2M473.5 75v1M473.5 77.5v0.5M473.5 80v0M473.5 81.5v3M473.5 87v0M473.5 88.5v0M473.5 91v0M473.5 92.5v0M473.5 95.5v0M473.5 97.5v0M474 30v1M474 33.5v0M474 35v0M474 37v1M474 40.5v1M474 44.5v1.5M474 48v1M474 50.5v0M474 52v0.5M474 54v0.5M474 56.5v0M474 58v0.5M474 63v0.5M474 65v0M474 66.5v0M474 70v0M474.5 52.5v1M474.5 57.5v8.5M474.5 67.5v5.5M474.5 77v0.5M474.5 79v4M474.5 84.5v0M475 47v0M475 48.5v0M475 52.5v0M475 54v3.5M475 59v2.5M475 63.5v1M475 67v0M475 68.5v6M475 76v1.5M475 86v0M475.5 61.5v0M475.5 65.5v3M475.5 70v3M475.5 74.5v0M475.5 76.5v5M475.5 83v5M475.5 89.5v0M475.5 91.5v0M476 43v1.5M476 46.5v3M476 51v2M476 54.5v1M476 58v1M476 61.5v0.5M476 63.5v0.5M476 68v0M476 72v4M476 78.5v1M476 83.5v3M476 88v0M476 89.5v0.5M476 93.5v0M476.5 54.5v1M476.5 57v1M476.5 60.5v0M476.5 63.5v1M476.5 71v0M476.5 72.5v0M476.5 75.5v2M476.5 79v0M476.5 80.5v0M476.5 85.5v1.5M476.5 88.5v1M476.5 91.5v0.5M476.5 93.5v1.5M477 50.5v1M477 53v0M477 54.5v2M477 59.5v0M477 63v1M477 65.5v0M477 67v0M477 69v1.5M477 72v0M477 74v2M477 77.5v4M477 84v2M477 88.5v0M477 90.5v0M477 92.5v0M477.5 48v2.5M477.5 52v2.5M477.5 56.5v2M477.5 60v2.5M477.5 64v7M477.5 75v0M477.5 80v0M477.5 82v0M478 31v0M478 33v0M478 36v1M478 39v2.5M478 43.5v1.5M478 46.5v1M478 49.5v0.5M478 51.5v0M478 54v0.5M478 56v0.5M478 58v0.5M478 61v0M478 62.5v0M478 69.5v0M478 73v0.5M478 75v0M478.5 31.5v1M478.5 35v4.5M478.5 41v2.5M478.5 45v8.5M478.5 55.5v1M478.5 65v0M479 39.5v1M479 42v3.5M479 47.5v2M479 53.5v1M479 56.5v0M479 58.5v3.5M479 63.5v0.5M479 65.5v2M479 69v0M479 70.5v6M479 78v0M479 82v0M479.5 64.5v0M479.5 72v0.5M479.5 74v4.5M479.5 80v5.5M479.5 87v0.5M479.5 89.5v0M480 53.5v0M480 55v1M480 57.5v0M480 59.5v0M480 61v1M480 63.5v0.5M480 65.5v4.5M480 72v3M480 77.5v3M480 82.5v0M480 84v0M480 90v0M480 91.5v0M480 94v0M480.5 43.5v0M480.5 48.5v0M480.5 51v0M480.5 53.5v1M480.5 56v4M480.5 61.5v5.5M480.5 70v0.5M480.5 75v0M481 44v1M481 46.5v0M481 49.5v15.5M481.5 48.5v0.5M481.5 50.5v3.5M481.5 55.5v1M481.5 59v12.5M481.5 76v0M482 36.5v1M482 40.5v6.5M482 48.5v6M482 56v3M482 61v0M482 62.5v0.5M482 65.5v0M482 67.5v0M482 78v0M482.5 55.5v0M482.5 59.5v0M482.5 61v0M482.5 62.5v1M482.5 65.5v2M482.5 69v0M482.5 71.5v1M482.5 74.5v1M482.5 77v2.5M482.5 81v1M482.5 83.5v1.5M482.5 86.5v0M482.5 88.5v0M482.5 90v0M483 40.5v0M483 45.5v0.5M483 48.5v0M483 51v7M483 59.5v0M483 61v1M483 64v1.5M483 68.5v3M483 73.5v1M483 78v0M483 79.5v2M483.5 8v1M483.5 13v0M483.5 21v3.5M483.5 26.5v1M483.5 29v0M483.5 31.5v0M483.5 33.5v0M483.5 35.5v1M483.5 38v0M483.5 40v2M483.5 44v1M483.5 46.5v0.5M483.5 48.5v2.5M483.5 54v1M483.5 57v0M483.5 59v1M484 41.5v0M484 48.5v2M484 52v2M484 57v2M484 60.5v6M484 68.5v0.5M484 71v0M484.5 56v1.5M484.5 60.5v2.5M484.5 65.5v0M484.5 67v2M484.5 70.5v6M484.5 78.5v0M484.5 80v2.5M484.5 85v2.5M485 46v0M485 50v1M485 54v0M485 56.5v1M485 59v4.5M485 65v0M485 66.5v0M485 68v5.5M485 76.5v4M485.5 30v1M485.5 32.5v1.5M485.5 38.5v0M485.5 40v0M485.5 42.5v0M485.5 45.5v1M485.5 48.5v0M485.5 50.5v0M485.5 53.5v0M485.5 56v0M485.5 59v1M485.5 62.5v0.5M485.5 64.5v0M485.5 72.5v1.5M485.5 76.5v0.5M485.5 79v0M485.5 82.5v0M485.5 85.5v1M485.5 88v0M485.5 95.5v0M486 30v0M486 32v1.5M486 35.5v1.5M486 39v0M486 43v0M486 45v0M486 47v0.5M486 49.5v7.5M486 60v0M486 62v0M486.5 30v0M486.5 33v2M486.5 45v0M486.5 47.5v0.5M486.5 50v0M486.5 55.5v0M486.5 58v0M486.5 60.5v3.5M486.5 65.5v2.5M486.5 69.5v4.5M486.5 75.5v1M486.5 78v0M486.5 79.5v0M486.5 87v0M487 51v0M487 55v2.5M487 59v0M487 62.5v0M487 64.5v0M487 66v0.5M487 68.5v4.5M487 74.5v6.5M487 83.5v1M487.5 7v0M487.5 10v0M487.5 13v2M487.5 17.5v2M487.5 21v0M487.5 22.5v1.5M487.5 27v2M487.5 32v0M487.5 33.5v1M487.5 36v0.5M487.5 38.5v0.5M487.5 40.5v0M487.5 44v1.5M487.5 48v1.5M487.5 52v0M487.5 58.5v0M487.5 63v0M487.5 66v0M488 60v0M488 61.5v0M488 63v1M488 68.5v3.5M488 73.5v1.5M488 76.5v3M488 81v0M488 84v1M488 87.5v0.5M488 91v1M488 95v0M488 97v0.5M488 100v2M488 108.5v0M488 110v2M488 116.5v0M488 119.5v0.5M488.5 79.5v0M488.5 84v0M488.5 87v0M488.5 88.5v0.5M488.5 90.5v0M488.5 94.5v2M488.5 99v1M488.5 102.5v3M488.5 109v1.5M488.5 112v1.5M488.5 116.5v0.5M488.5 119.5v2M489 49v12M489 62.5v2M489 67v2.5M489 71v0.5M489 73v0.5M489 75v0M489 79v0M489 84.5v0M489.5 13v0M489.5 17.5v0M489.5 23v0M489.5 24.5v0M489.5 30.5v1.5M489.5 33.5v3M489.5 38.5v1M489.5 45.5v0M489.5 48v0M489.5 49.5v0M489.5 54.5v0M489.5 61v1.5M489.5 69v0.5M489.5 74v0.5M489.5 77v1M489.5 79.5v1M489.5 84v1M490 59.5v0M490 64v0.5M490 67.5v1.5M490 70.5v3.5M490 75.5v2.5M490 79.5v5.5M490 87v1M490 90v0M490.5 63.5v0M490.5 67v0M490.5 69.5v0.5M490.5 72v3M490.5 76.5v7M490.5 85v0.5M491 48v0M491 50.5v3M491 55v6.5M491 63v3.5M491 69v0M491 71v3M491 75.5v1.5M491 81v0M491 86.5v0M491.5 42.5v0M491.5 46.5v1.5M491.5 50v0M491.5 52v12M491.5 65.5v0.5M491.5 68v0M491.5 69.5v1.5M492 57v0M492 59v0M492 60.5v0M492 63v0.5M492 68v0.5M492 70v1.5M492 73.5v0.5M492 75.5v3M492 80.5v0.5M492 82.5v0.5M492 84.5v1.5M492 88v0M492 90.5v0.5M492 93v0M492 95.5v0M492.5 62.5v0M492.5 64v0M492.5 66v0M492.5 67.5v0M492.5 70.5v0M492.5 72.5v4M492.5 78v5M492.5 86v0.5M492.5 88v0.5M492.5 90v2.5M492.5 94v2M493 38v0M493 45v2.5M493 49v7M493 58.5v5M493 66.5v1M493 71.5v2M493 75.5v0M493 77.5v0M493 79v0M493 82v0M493 83.5v0M493 85v0M493 86.5v0M493 88v0M493 90v0.5M493.5 25.5v0M493.5 27v1M493.5 29.5v7.5M493.5 38.5v7.5M493.5 47.5v0M493.5 49.5v0M493.5 52.5v0M493.5 54.5v0M493.5 68.5v0M494 45.5v0M494 48v0M494 54.5v0M494 56.5v0M494 58v0.5M494 62.5v0.5M494 68v2.5M494 73v1.5M494 77.5v0M494 79.5v0M494 81v3M494 86v3.5M494.5 48.5v0M494.5 50v0M494.5 52v0M494.5 53.5v0.5M494.5 56v0.5M494.5 60v1M494.5 63v0M494.5 66v0M494.5 70.5v0M494.5 73v2M494.5 76.5v0M494.5 78.5v0.5M494.5 82v0M494.5 85v4M495 37v0M495 43v1M495 47v0.5M495 50v0M495 52.5v2M495 56.5v2.5M495 63v0M495 64.5v0M495 66v1M495 69.5v1M495 72.5v1M495 75v5M495 81.5v1.5M495 86v0M495.5 53.5v0.5M495.5 59.5v0.5M495.5 61.5v5.5M495.5 69v10M495.5 80.5v0M496 42v0M496 44.5v3M496 49v0M496 50.5v8M496 60v0M496 61.5v2.5M496 65.5v0M496 67v0M496 69v1M496.5 50.5v1M496.5 53v6.5M496.5 61v2M496.5 64.5v2M496.5 68v0.5M496.5 70.5v0M497 46.5v0M497 50.5v0M497 53.5v1M497 56v10M497 67.5v1M497 70v0M497.5 41v0M497.5 42.5v0M497.5 44v1.5M497.5 49.5v1M497.5 52v3M497.5 56.5v1.5M497.5 59.5v5.5M497.5 66.5v0M497.5 71v0M498 31.5v0M498 34.5v2.5M498 40.5v5M498 47v0M498 48.5v4M498 54v2M498 60v1M498 62.5v1M498 68v0M498.5 9v0M498.5 15v0M498.5 16.5v1M498.5 19v0M498.5 22v0M498.5 32v0M498.5 34.5v0M498.5 36v0.5M498.5 39v3M498.5 44v0M498.5 46v2M498.5 49.5v0M498.5 51.5v0.5M498.5 55v3M498.5 61v0M498.5 62.5v2.5M498.5 68v2M499 6.5v0M499 8v3M499 13.5v0M499 15.5v0.5M499 18.5v0M499 20.5v0M499 22.5v2M499 28.5v0M499 33.5v0M499 35v0M499 36.5v1M499 43.5v4M499 50v1M499 52.5v0M499 54.5v0.5M499 57.5v0M499 59v0.5M499 62.5v0M499.5 52.5v0M499.5 55v6M499.5 62.5v2M499.5 66.5v2.5M499.5 70.5v0.5M499.5 72.5v0M499.5 75v3.5M499.5 81.5v0M499.5 86v0M499.5 88v0M500 72v0.5M500 74v2M500 77.5v2.5M500 81.5v2.5M500 85.5v6M500.5 61.5v0M500.5 65v0M500.5 68v0M500.5 69.5v0M500.5 71v7.5M500.5 81v4.5M500.5 94v0M501 63.5v2M501 68v0M501 70v2M501 73.5v4M501 79v9.5M501.5 43v0M501.5 49v2.5M501.5 53v9M501.5 63.5v0M501.5 65.5v2M501.5 78v0M502 40v3M502 44.5v16.5M502 67.5v0M502.5 41.5v0.5M502.5 43.5v0M502.5 46v0M502.5 48v17M503 41.5v0M503 43v0M503 44.5v3M503 49v7.5M503 58v0M503 59.5v0M503 61v0.5M503 63.5v0M503 66v0M503 71v0M503.5 45.5v1M503.5 48.5v5.5M503.5 56.5v7.5M503.5 66.5v1.5M503.5 71.5v0M504 45v0M504 49v1.5M504 55.5v4.5M504 61.5v0M504 63.5v5.5M504 70.5v0.5M504 72.5v1.5M504 82v0M504.5 45v0M504.5 46.5v1M504.5 49v8.5M504.5 59v1.5M504.5 62v1.5M504.5 68.5v0M505 53v0M505 55.5v0M505 57v0M505 59v0.5M505 61v3.5M505 66v1.5M505 69.5v0.5M505 71.5v2.5M505 76.5v5M505 83v0M505 84.5v0M505 90v0M505.5 61v0.5M505.5 63v7.5M505.5 72v7M505.5 80.5v0M505.5 82.5v0M506 53.5v0M506 55v0.5M506 57.5v0M506 61v0.5M506 63v0M506 65v6M506 72.5v3M506 78.5v0M506 81v0M506.5 64v2.5M506.5 68v5M506.5 74.5v3.5M506.5 79.5v3M507 53v0M507 54.5v10M507 67.5v1.5M507.5 39v0M507.5 44v0M507.5 46.5v1.5M507.5 49.5v6M507.5 57v3M507.5 61.5v0.5M507.5 64v1M508 12v2M508 16v2.5M508 20v1M508 22.5v0M508 25v5M508 32v0M508 33.5v0M508 38v1M508 43v0M508 46v0M508 48.5v0M508 50v2.5M508 56v0.5M508 58v1.5M508 62v0.5M508.5 28.5v0.5M508.5 30.5v0M508.5 32v0M508.5 33.5v0M508.5 35v5M508.5 42v0M508.5 43.5v0M508.5 45v2M508.5 50.5v0.5M508.5 52.5v0M508.5 54v4.5M508.5 60.5v1M508.5 67v0M509 50.5v0M509 56.5v0M509 58.5v2.5M509 62.5v8M509 72v1M509 74.5v0M509 76v0M509 80v0.5M509.5 54v0M509.5 56.5v0M509.5 58v13M509.5 72.5v2M509.5 77v0M510 29.5v0M510 31v0M510 36.5v0M510 38.5v2M510 42.5v0M510 44.5v0M510 46.5v3M510 52v0M510 53.5v9M510 64.5v0.5M510 66.5v0M510 68.5v0M510.5 15v0M510.5 18v1M510.5 20.5v3.5M510.5 25.5v1.5M510.5 28.5v3.5M510.5 36v3.5M510.5 42v0.5M510.5 44v0M510.5 46.5v3M510.5 52v3M510.5 56.5v0M511 44v0M511 49v10M511 60.5v1.5M511 64v0M511 68v0M511.5 60v1M511.5 62.5v5.5M511.5 70v2.5M511.5 74v4.5M511.5 80.5v1M511.5 84v0M512 26.5v1M512 29v0M512 31v0.5M512 33v1M512 36v2M512 40.5v0M512 44.5v1M512 47.5v0M512 55v0M512 57.5v0M512 60.5v0M512 71v0M512 76v0M512 81.5v0M512 84.5v0M512.5 43v1.5M512.5 48v0M512.5 51v0M512.5 53.5v10.5M512.5 66v0M512.5 68v1M512.5 70.5v0M512.5 72.5v0M512.5 75.5v0M512.5 77v0M512.5 79.5v2.5M513 51.5v0M513 58v0M513 59.5v0M513 62.5v0M513 65v0M513 68v4M513 75.5v0.5M513 78.5v0.5M513 81.5v0M513 83.5v1.5M513 87v0M513 89.5v0.5M513 92.5v5M513 101v1M513 105v0M513.5 52.5v15M513.5 71v1M513.5 75v0M514 54v0M514 59.5v0M514 61v1M514 63.5v4M514 70v7M514 78.5v0M514 82.5v0M514.5 54v0M514.5 56v0M514.5 60v2M514.5 63.5v11.5M514.5 76.5v0M514.5 78.5v0M514.5 81.5v0M515 62.5v0M515 65v0.5M515 67.5v0.5M515 69.5v6.5M515 78v1M515 81v3M515 86v1.5M515.5 52.5v0.5M515.5 54.5v1M515.5 57.5v0M515.5 59v1M515.5 62v2M515.5 66v4.5M515.5 72v0M515.5 75v1M516 56v0.5M516 59.5v1.5M516 62.5v4.5M516 68.5v2.5M516 72.5v3M516 78v0M516.5 46.5v1M516.5 53.5v0M516.5 55.5v0M516.5 57v3.5M516.5 62v10M516.5 73.5v0M516.5 77.5v0M517 39v0.5M517 41v1.5M517 45.5v1.5M517 49.5v3M517 54v5.5M517 65v0M517 67v0M517.5 46v0M517.5 48v3.5M517.5 53v4M517.5 59v8.5M517.5 69v0M517.5 73.5v0.5M518 13v0M518 14.5v0M518 21v1.5M518 24v1.5M518 27.5v9M518 38v0M518 39.5v0.5M518 42v1.5M518 45.5v1.5M518 48.5v0M518 50v0.5M518 53v0M518 55.5v0M518 58v0M518 61v0M518.5 43.5v2M518.5 47v1.5M518.5 50v9M518.5 62.5v0M518.5 64v0M518.5 69v0M518.5 72v1M518.5 76.5v0M519 66v0M519 71v0M519 72.5v0M519 74.5v11.5M519 87.5v2M519 92v0M519.5 49v0M519.5 51.5v1M519.5 55v3M519.5 59.5v4.5M519.5 65.5v2M519.5 70v1M519.5 73v0.5M519.5 75v0M519.5 76.5v0M519.5 78v1.5M519.5 82.5v0M520 37.5v0M520 43v2M520 46.5v7.5M520 56v2M520 60.5v1.5M520 63.5v0M520 65v0M520.5 53.5v1M520.5 57.5v0M520.5 59.5v0.5M520.5 62v0M520.5 63.5v4M520.5 69v8M520.5 78.5v2M520.5 82.5v0M521 55v0M521 57.5v1M521 62.5v0.5M521 64.5v8M521 74v4M521 80.5v0.5M521 82.5v0M521.5 38.5v0.5M521.5 42.5v7.5M521.5 51.5v2M521.5 55.5v5M521.5 64v0.5M521.5 67v0M521.5 68.5v0M521.5 70.5v0.5M521.5 73v0M521.5 74.5v0M522 48.5v0M522 53.5v2M522 57.5v0M522 59v0.5M522 61v0M522 63.5v1M522 66v0M522 68.5v3M522 73v1M522 76.5v0.5M522 79v1.5M522 82v0M522.5 70v0.5M522.5 73v12.5M523 47.5v0M523 50v0M523 51.5v0M523 53v3M523 57.5v4M523 63v0M523 65v0.5M523 67v2M523 70.5v0M523 72.5v5.5M523 81v0M523 83v0M523 85v0M523.5 56.5v0.5M523.5 58.5v10M523.5 70.5v2M524 42v2M524 46.5v2.5M524 50.5v10.5M524 64v7M524.5 46v0M524.5 47.5v1M524.5 50v0.5M524.5 52.5v0.5M524.5 55v3.5M524.5 60v8.5M525 49v10.5M525 61v1.5M525 65v0.5M525 67v1.5M525.5 49v0M525.5 53.5v10.5M525.5 65.5v0M525.5 68.5v1M525.5 71v0M525.5 73v0.5M525.5 75.5v0M526 40.5v0M526 42v3M526 47v3.5M526 52v14M526 67.5v0M526 69v0M526 70.5v0M526.5 60v1M526.5 62.5v1M526.5 65.5v5.5M526.5 72.5v1M526.5 75v3.5M526.5 80.5v0.5M526.5 82.5v2M526.5 86v0M526.5 87.5v0M526.5 90v0M527 47v0M527 49.5v0.5M527 52v12.5M527 66.5v0.5M527 70v0M527.5 6.5v0M527.5 8.5v0M527.5 15v0M527.5 16.5v2.5M527.5 23v0.5M527.5 25v4.5M527.5 33.5v2.5M527.5 37.5v2M527.5 41.5v1M527.5 47v1.5M527.5 50.5v0M527.5 58.5v0M528 49.5v0M528 51v1M528 54v7M528 63v5M528 70v0M528.5 50v0M528.5 51.5v4M528.5 57.5v2.5M528.5 62v0M528.5 63.5v3.5M528.5 68.5v1M528.5 71v1M528.5 75.5v0.5M529 40.5v0M529 45v4M529 50.5v5M529 57v1.5M529 60v2M529 63.5v2M529 70v1.5M529 73.5v0M529.5 52.5v0M529.5 54v0M529.5 56v2.5M529.5 60v9.5M529.5 71.5v1M529.5 74.5v0M529.5 77.5v0M530 45.5v0M530 51v0M530 53v0M530 54.5v12.5M530 68.5v1M530.5 47v0M530.5 50v2M530.5 54v8M530.5 63.5v0M530.5 65v3M530.5 69.5v2M530.5 74.5v1M530.5 77v1M531 48v2.5M531 52v10M531 64.5v2.5M531 69v0.5M531 71v0.5M531 73v0M531 75v0M531 77v1M531.5 43.5v0M531.5 45v1M531.5 47.5v0.5M531.5 49.5v10M531.5 61v6.5M532 61.5v2M532 65v0M532 69v0.5M532 72v1.5M532 75v3.5M532 80.5v0M532 82.5v6.5M532 94v1M532.5 56v1.5M532.5 59.5v2M532.5 65.5v1M532.5 68v0M532.5 69.5v0.5M532.5 72v1.5M532.5 81.5v0.5M532.5 84.5v3.5M532.5 89.5v1.5M532.5 92.5v3M532.5 97v3M533 49v0M533 53v0M533 55.5v1.5M533 58.5v11M533 74v0.5M533 76v1M533.5 34.5v0M533.5 38.5v0M533.5 40.5v1M533.5 43v1.5M533.5 47v3.5M533.5 52v0M533.5 54.5v2.5M533.5 58.5v0M533.5 61v1M533.5 64v2M533.5 68v0M533.5 69.5v0M533.5 71v1M534 47v3M534 52v0M534 56v1M534 58.5v0M534 60v0M534 62.5v0M534 64.5v0M534 66.5v1M534 69v2M534 72.5v0M534 74v1M534 76.5v2.5M534 81v2M534.5 46v0.5M534.5 49.5v1M534.5 52v0M534.5 54.5v3.5M534.5 59.5v2M534.5 64.5v2.5M534.5 69v0M534.5 70.5v0M534.5 72v1M534.5 74.5v0M534.5 79v0M534.5 81v0M534.5 82.5v0M534.5 84v0M535 65.5v0M535 67.5v0M535 69.5v11.5M535 83v1M535.5 26v1.5M535.5 29v1.5M535.5 32v0.5M535.5 34v0M535.5 36.5v0.5M535.5 39.5v0M535.5 41v0M535.5 44.5v0M535.5 50v0.5M535.5 52v0M535.5 54v0M535.5 56.5v0M535.5 59v0M535.5 60.5v1.5M535.5 63.5v1.5M535.5 72v0.5M536 30v0M536 31.5v0M536 37v2M536 41.5v2M536 48v0M536 49.5v3.5M536 54.5v3M536 59.5v6.5M536 72.5v0M536.5 39.5v0M536.5 46v0M536.5 48v0M536.5 49.5v0.5M536.5 51.5v2.5M536.5 55.5v4.5M536.5 61.5v3.5M536.5 67v0M536.5 69v0M536.5 72.5v0.5M537 16v6M537 24v0M537 26v1M537 29v0M537 31.5v0M537 33.5v0.5M537 37v1M537 41.5v0M537 43v0M537 45.5v0M537 47.5v1.5M537 51v3M537 55.5v1M537.5 28.5v0M537.5 34v0M537.5 35.5v0M537.5 41v0M537.5 44.5v0M537.5 46v0M537.5 49v0M537.5 56v0M537.5 59v1.5M537.5 62v0.5M537.5 66.5v0M537.5 68.5v3.5M537.5 73.5v1.5M537.5 77v0M537.5 78.5v7M538 49.5v9M538 60v5.5M538 67.5v0M538 70.5v0M538 73v1M538.5 41.5v0M538.5 44.5v0M538.5 48.5v1M538.5 52v0M538.5 54.5v6M538.5 62.5v1.5M538.5 67v0.5M538.5 70v0M538.5 74.5v1.5M538.5 78.5v1M538.5 81.5v3.5M538.5 89.5v2M539 42v1M539 45.5v0M539 48.5v0M539 50.5v1M539 53v3.5M539 58v0.5M539 61v0M539 65v0M539 67.5v0M539 71v2M539 74.5v2.5M539 79.5v0M539 81v0M539 84v1.5M539 88v1M539.5 42v0M539.5 46v0M539.5 47.5v0M539.5 49v1.5M539.5 52v0M539.5 53.5v2M539.5 57v1.5M539.5 60v5M539.5 66.5v0.5M539.5 68.5v0.5M539.5 72.5v0M540 48v0M540 52v14.5M540 68.5v2M540 72.5v0.5M540.5 14v0M540.5 17.5v0M540.5 22v0M540.5 24v0M540.5 25.5v0M540.5 27v1M540.5 29.5v1M540.5 33.5v1M540.5 36v0M540.5 38v0.5M540.5 44.5v3.5M540.5 50v1M540.5 55v1.5M540.5 58.5v0.5M540.5 64v0M540.5 66.5v0M540.5 70v1M540.5 76.5v0M541 58v0M541 60v0M541 62.5v9.5M541 73.5v2M541 78.5v0M541 82v1.5M541.5 61.5v0M541.5 63.5v0.5M541.5 65.5v1.5M541.5 69v1M541.5 71.5v7M541.5 80v0.5M541.5 83v1M541.5 85.5v0M542 56.5v5.5M542 64v8.5M542 75v1.5M542 78v0.5M542.5 51v0M542.5 53v1M542.5 64.5v0" fill="none" stroke="#f0141e" stroke-width="1.8" stroke-linecap="round"/>
<g fill="none" stroke-width="0.85">
<path d="M37.8 22.6H542.3" stroke="#b4b4b4" stroke-width="1" stroke-dasharray="4 2.4"/>
<path d="M37.8 125.8H542.3" stroke="#b4b4b4" stroke-width="1" stroke-dasharray="4 2.4"/>
<path d="M37.8 56.9H542.3" stroke="#505050" stroke-width="0.8" stroke-dasharray="4 1.3 0.9 1.3"/>
<path d="M37.8 91.4H542.3" stroke="#505050" stroke-width="0.8" stroke-dasharray="4 1.3 0.9 1.3"/>
<path d="M37.8 74.2H542.3" stroke="#222" stroke-width="0.8"/>
</g>
<path d="M37.8 5.2H542.3V143H37.8ZM37.8 143v-4.6M37.8 5.2v4.6M92.8 143v-4.6M92.8 5.2v4.6M147.9 143v-4.6M147.9 5.2v4.6M202.9 143v-4.6M202.9 5.2v4.6M258 143v-4.6M258 5.2v4.6M313.1 143v-4.6M313.1 5.2v4.6M368.1 143v-4.6M368.1 5.2v4.6M423.1 143v-4.6M423.1 5.2v4.6M478.2 143v-4.6M478.2 5.2v4.6M533.2 143v-4.6M533.2 5.2v4.6M37.8 123.3h4.6M542.3 123.3h-4.6M37.8 85.5h4.6M542.3 85.5h-4.6M37.8 47.8h4.6M542.3 47.8h-4.6M37.8 10h4.6M542.3 10h-4.6" fill="none" stroke="#5c5c5c" stroke-width="1"/>
</g>
<g id="bot">
<clipPath id="c2"><rect x="37.8" y="196.8" width="504.5" height="137.7"/></clipPath>
<g clip-path="url(#c2)">
<path d="M140 334.5V304.2h13.6V334.5ZM156.9 334.5V264.6h13.6V334.5ZM173.7 334.5V279.5h13.6V334.5ZM190.6 334.5V292.5h13.6V334.5ZM207.4 334.5V289.3h13.6V334.5ZM224.2 334.5V266.8h13.6V334.5ZM241.1 334.5V236.8h13.6V334.5ZM257.9 334.5V215.4h13.6V334.5ZM274.8 334.5V191.7h13.6V334.5ZM291.6 334.5V201.7h13.6V334.5ZM308.4 334.5V198.3h13.6V334.5ZM325.3 334.5V216.7h13.6V334.5ZM342.1 334.5V236h13.6V334.5ZM359 334.5V246.7h13.6V334.5ZM375.8 334.5V267.7h13.6V334.5ZM392.6 334.5V287.4h13.6V334.5ZM409.5 334.5V301.6h13.6V334.5ZM426.3 334.5V313.1h13.6V334.5ZM443.2 334.5V318.6h13.6V334.5ZM460 334.5V323.2h13.6V334.5ZM476.8 334.5V327.5h13.6V334.5ZM493.7 334.5V328.9h13.6V334.5ZM510.5 334.5V331.1h13.6V334.5ZM527.4 334.5V333.3h13.6V334.5Z" fill="#0a70be" stroke="#1a2a3a" stroke-width="0.8"/>
<g fill="none" stroke-width="0.85">
<path d="M480.8 334.5V196.8" stroke="#7a7a7a" stroke-width="0.75" stroke-dasharray="4 2.4"/>
<path d="M115.5 334.5V196.8" stroke="#7a7a7a" stroke-width="0.75" stroke-dasharray="4 2.4"/>
<path d="M359.3 334.5V196.8" stroke="#505050" stroke-width="0.8" stroke-dasharray="4 1.3 0.9 1.3"/>
<path d="M237.6 334.5V196.8" stroke="#505050" stroke-width="0.8" stroke-dasharray="4 1.3 0.9 1.3"/>
<path d="M298.6 334.5V196.8" stroke="#222" stroke-width="0.8"/>
<path d="M98 333.7 L101.6 333.6 L105.2 333.4 L108.8 333.3 L112.3 333 L115.9 332.8 L119.5 332.5 L123.1 332.2 L126.7 331.8 L130.3 331.3 L133.9 330.8 L137.5 330.2 L141 329.5 L144.6 328.8 L148.2 327.9 L151.8 326.9 L155.4 325.8 L159 324.5 L162.6 323.1 L166.2 321.6 L169.7 319.8 L173.3 317.9 L176.9 315.9 L180.5 313.6 L184.1 311.1 L187.7 308.4 L191.3 305.5 L194.9 302.4 L198.4 299.1 L202 295.6 L205.6 291.8 L209.2 287.9 L212.8 283.8 L216.4 279.5 L220 275 L223.6 270.4 L227.1 265.7 L230.7 260.9 L234.3 256 L237.9 251.1 L241.5 246.1 L245.1 241.3 L248.7 236.5 L252.2 231.8 L255.8 227.2 L259.4 222.8 L263 218.7 L266.6 214.8 L270.2 211.2 L273.8 208 L277.4 205.1 L280.9 202.6 L284.5 200.5 L288.1 198.9 L291.7 197.7 L295.3 197 L298.9 196.7 L302.5 197 L306.1 197.7 L309.6 198.8 L313.2 200.5 L316.8 202.6 L320.4 205 L324 207.9 L327.6 211.2 L331.2 214.8 L334.8 218.6 L338.3 222.8 L341.9 227.2 L345.5 231.7 L349.1 236.4 L352.7 241.2 L356.3 246.1 L359.9 251 L363.4 255.9 L367 260.8 L370.6 265.6 L374.2 270.3 L377.8 274.9 L381.4 279.4 L385 283.7 L388.6 287.8 L392.1 291.8 L395.7 295.5 L399.3 299.1 L402.9 302.4 L406.5 305.5 L410.1 308.4 L413.7 311.1 L417.3 313.5 L420.8 315.8 L424.4 317.9 L428 319.8 L431.6 321.5 L435.2 323.1 L438.8 324.5 L442.4 325.8 L446 326.9 L449.5 327.9 L453.1 328.8 L456.7 329.5 L460.3 330.2 L463.9 330.8 L467.5 331.3 L471.1 331.8 L474.7 332.2 L478.2 332.5 L481.8 332.8 L485.4 333 L489 333.3" stroke="#f02828" stroke-width="0.95" stroke-dasharray="5.5 2.8"/>
</g></g>
<path d="M37.8 196.8H542.3V334.5H37.8ZM146.8 334.5v-4.6M146.8 196.8v4.6M163.7 334.5v-4.6M163.7 196.8v4.6M180.5 334.5v-4.6M180.5 196.8v4.6M197.4 334.5v-4.6M197.4 196.8v4.6M214.2 334.5v-4.6M214.2 196.8v4.6M231.1 334.5v-4.6M231.1 196.8v4.6M247.9 334.5v-4.6M247.9 196.8v4.6M264.7 334.5v-4.6M264.7 196.8v4.6M281.6 334.5v-4.6M281.6 196.8v4.6M298.4 334.5v-4.6M298.4 196.8v4.6M315.2 334.5v-4.6M315.2 196.8v4.6M332.1 334.5v-4.6M332.1 196.8v4.6M348.9 334.5v-4.6M348.9 196.8v4.6M365.8 334.5v-4.6M365.8 196.8v4.6M382.6 334.5v-4.6M382.6 196.8v4.6M399.4 334.5v-4.6M399.4 196.8v4.6M416.3 334.5v-4.6M416.3 196.8v4.6M433.1 334.5v-4.6M433.1 196.8v4.6M450 334.5v-4.6M450 196.8v4.6M466.8 334.5v-4.6M466.8 196.8v4.6M483.6 334.5v-4.6M483.6 196.8v4.6M500.5 334.5v-4.6M500.5 196.8v4.6M517.3 334.5v-4.6M517.3 196.8v4.6M534.2 334.5v-4.6M534.2 196.8v4.6M37.8 334.3h4.6M542.3 334.3h-4.6M37.8 302.6h4.6M542.3 302.6h-4.6M37.8 270.9h4.6M542.3 270.9h-4.6M37.8 239.2h4.6M542.3 239.2h-4.6M37.8 207.5h4.6M542.3 207.5h-4.6" fill="none" stroke="#5c5c5c" stroke-width="1"/>
</g>
<g font-family='"Liberation Sans", Arial, Helvetica, sans-serif' fill="#222" stroke="#222" stroke-width="0.15">
<text transform="translate(37.3 155.3) scale(1 1.07)" font-size="7.9" text-anchor="middle">0</text>
<text transform="translate(92.3 155.3) scale(1 1.07)" font-size="7.9" text-anchor="middle">0.5</text>
<text transform="translate(147.4 155.3) scale(1 1.07)" font-size="7.9" text-anchor="middle">1</text>
<text transform="translate(202.4 155.3) scale(1 1.07)" font-size="7.9" text-anchor="middle">1.5</text>
<text transform="translate(257.5 155.3) scale(1 1.07)" font-size="7.9" text-anchor="middle">2</text>
<text transform="translate(312.6 155.3) scale(1 1.07)" font-size="7.9" text-anchor="middle">2.5</text>
<text transform="translate(367.6 155.3) scale(1 1.07)" font-size="7.9" text-anchor="middle">3</text>
<text transform="translate(422.6 155.3) scale(1 1.07)" font-size="7.9" text-anchor="middle">3.5</text>
<text transform="translate(477.7 155.3) scale(1 1.07)" font-size="7.9" text-anchor="middle">4</text>
<text transform="translate(532.8 155.3) scale(1 1.07)" font-size="7.9" text-anchor="middle">4.5</text>
<text transform="translate(33.6 126.1) scale(1 1.07)" font-size="7.9" text-anchor="end">0</text>
<text transform="translate(33.6 88.3) scale(1 1.07)" font-size="7.9" text-anchor="end">5</text>
<text transform="translate(33.6 50.6) scale(1 1.07)" font-size="7.9" text-anchor="end">10</text>
<text transform="translate(33.6 12.8) scale(1 1.07)" font-size="7.9" text-anchor="end">15</text>
<text transform="translate(523.6 168.8) scale(1 1.07)" font-size="7.9"><tspan font-size="9.5">×</tspan>10<tspan font-size="6" dy="-3.3">4</tspan></text>
<text transform="translate(146.8 347.3) scale(1 1.07)" font-size="7.9" text-anchor="middle">0.8</text>
<text transform="translate(163.7 347.3) scale(1 1.07)" font-size="7.9" text-anchor="middle">1.4</text>
<text transform="translate(180.5 347.3) scale(1 1.07)" font-size="7.9" text-anchor="middle">2</text>
<text transform="translate(197.4 347.3) scale(1 1.07)" font-size="7.9" text-anchor="middle">2.7</text>
<text transform="translate(214.2 347.3) scale(1 1.07)" font-size="7.9" text-anchor="middle">3.3</text>
<text transform="translate(231.1 347.3) scale(1 1.07)" font-size="7.9" text-anchor="middle">3.9</text>
<text transform="translate(247.9 347.3) scale(1 1.07)" font-size="7.9" text-anchor="middle">4.6</text>
<text transform="translate(264.7 347.3) scale(1 1.07)" font-size="7.9" text-anchor="middle">5.2</text>
<text transform="translate(281.6 347.3) scale(1 1.07)" font-size="7.9" text-anchor="middle">5.8</text>
<text transform="translate(298.4 347.3) scale(1 1.07)" font-size="7.9" text-anchor="middle">6.5</text>
<text transform="translate(315.2 347.3) scale(1 1.07)" font-size="7.9" text-anchor="middle">7.1</text>
<text transform="translate(332.1 347.3) scale(1 1.07)" font-size="7.9" text-anchor="middle">7.7</text>
<text transform="translate(348.9 347.3) scale(1 1.07)" font-size="7.9" text-anchor="middle">8.4</text>
<text transform="translate(365.8 347.3) scale(1 1.07)" font-size="7.9" text-anchor="middle">9</text>
<text transform="translate(382.6 347.3) scale(1 1.07)" font-size="7.9" text-anchor="middle">9.6</text>
<text transform="translate(399.4 347.3) scale(1 1.07)" font-size="7.9" text-anchor="middle">10.3</text>
<text transform="translate(416.3 347.3) scale(1 1.07)" font-size="7.9" text-anchor="middle">10.9</text>
<text transform="translate(433.1 347.3) scale(1 1.07)" font-size="7.9" text-anchor="middle">11.5</text>
<text transform="translate(450 347.3) scale(1 1.07)" font-size="7.9" text-anchor="middle">12.2</text>
<text transform="translate(466.8 347.3) scale(1 1.07)" font-size="7.9" text-anchor="middle">12.8</text>
<text transform="translate(483.6 347.3) scale(1 1.07)" font-size="7.9" text-anchor="middle">13.4</text>
<text transform="translate(500.5 347.3) scale(1 1.07)" font-size="7.9" text-anchor="middle">14.1</text>
<text transform="translate(517.3 347.3) scale(1 1.07)" font-size="7.9" text-anchor="middle">14.7</text>
<text transform="translate(534.2 347.3) scale(1 1.07)" font-size="7.9" text-anchor="middle">15.3</text>
<text transform="translate(33.6 337.1) scale(1 1.07)" font-size="7.9" text-anchor="end">0</text>
<text transform="translate(33.6 305.4) scale(1 1.07)" font-size="7.9" text-anchor="end">1000</text>
<text transform="translate(33.6 273.7) scale(1 1.07)" font-size="7.9" text-anchor="end">2000</text>
<text transform="translate(33.6 242) scale(1 1.07)" font-size="7.9" text-anchor="end">3000</text>
<text transform="translate(33.6 210.3) scale(1 1.07)" font-size="7.9" text-anchor="end">4000</text>
<text transform="translate(289.5 167.2) scale(1 1.07)" font-size="8.62" text-anchor="middle">X– Sample size</text>
<text transform="translate(290 359.5) scale(1 1.07)" font-size="8.62" text-anchor="middle">X– Local roughness value</text>
<text transform="translate(20.8 74.2) scale(1.07 1) rotate(-90)" font-size="8.62" text-anchor="middle">Y– Local roughness value</text>
<text transform="translate(12.1 267.3) scale(1.07 1) rotate(-90)" font-size="8.62" text-anchor="middle">Y– Number of samples</text>
<rect x="492.3" y="11.4" width="44.1" height="59.5" fill="#fff" stroke="#4d4d4d" stroke-width="0.9"/>
<circle cx="505.9" cy="17.8" r="1" fill="#f0141e"/>
<text transform="translate(520.5 20.5) scale(1 1.07)" font-size="7.3">Rd</text>
<path d="M493.5 27.4H518.3" stroke="#333" stroke-width="0.85" />
<text transform="translate(520.5 30.1) scale(1 1.07)" font-size="7.3"><tspan font-style="italic" font-weight="bold" font-size="6">μ</tspan></text>
<path d="M493.5 37.1H518.3" stroke="#606060" stroke-width="0.85" stroke-dasharray="4 1.3 0.9 1.3"/>
<text transform="translate(520.5 39.8) scale(1 1.07)" font-size="7.3">+<tspan font-style="italic" font-size="6.1">σ</tspan></text>
<path d="M493.5 46.7H518.3" stroke="#606060" stroke-width="0.85" stroke-dasharray="4 1.3 0.9 1.3"/>
<text transform="translate(520.5 49.4) scale(1 1.07)" font-size="7.3">-<tspan font-style="italic" font-size="6.1">σ</tspan></text>
<path d="M493.5 56.3H518.3" stroke="#a0a0a0" stroke-width="0.85" stroke-dasharray="4 2.4"/>
<text transform="translate(520.5 59) scale(1 1.07)" font-size="7.3">+3<tspan font-style="italic" font-size="6.1">σ</tspan></text>
<path d="M493.5 66H518.3" stroke="#b8b8b8" stroke-width="0.85" stroke-dasharray="4 2.4"/>
<text transform="translate(520.5 68.7) scale(1 1.07)" font-size="7.3">-3<tspan font-style="italic" font-size="6.1">σ</tspan></text>
<rect x="489.5" y="203.5" width="47" height="67" fill="#fff" stroke="#4d4d4d" stroke-width="0.9"/>
<rect x="491.5" y="206.6" width="24" height="6.4" fill="#0a70be" stroke="#1a2a3a" stroke-width="0.8"/>
<text transform="translate(517.8 212.5) scale(1 1.07)" font-size="7.3">Rd</text>
<path d="M491.5 219.2H515.5" stroke="#333" stroke-width="0.85" />
<text transform="translate(517.8 221.9) scale(1 1.07)" font-size="7.3"><tspan font-style="italic" font-weight="bold" font-size="6">μ</tspan></text>
<path d="M491.5 228.5H515.5" stroke="#606060" stroke-width="0.85" stroke-dasharray="4 1.3 0.9 1.3"/>
<text transform="translate(517.8 231.2) scale(1 1.07)" font-size="7.3">+<tspan font-style="italic" font-size="6.1">σ</tspan></text>
<path d="M491.5 237.9H515.5" stroke="#606060" stroke-width="0.85" stroke-dasharray="4 1.3 0.9 1.3"/>
<text transform="translate(517.8 240.6) scale(1 1.07)" font-size="7.3">-<tspan font-style="italic" font-size="6.1">σ</tspan></text>
<path d="M491.5 247.3H515.5" stroke="#a0a0a0" stroke-width="0.85" stroke-dasharray="4 2.4"/>
<text transform="translate(517.8 250) scale(1 1.07)" font-size="7.3">+3<tspan font-style="italic" font-size="6.1">σ</tspan></text>
<path d="M491.5 256.6H515.5" stroke="#b8b8b8" stroke-width="0.85" stroke-dasharray="4 2.4"/>
<text transform="translate(517.8 259.3) scale(1 1.07)" font-size="7.3">-3<tspan font-style="italic" font-size="6.1">σ</tspan></text>
<path d="M491.5 266H515.5" stroke="#f02828" stroke-width="0.85" stroke-dasharray="5.5 2.8"/>
<text transform="translate(517.8 268.7) scale(1 1.07)" font-size="7.3">NDC</text>
</g>
</svg>
</body></html>
